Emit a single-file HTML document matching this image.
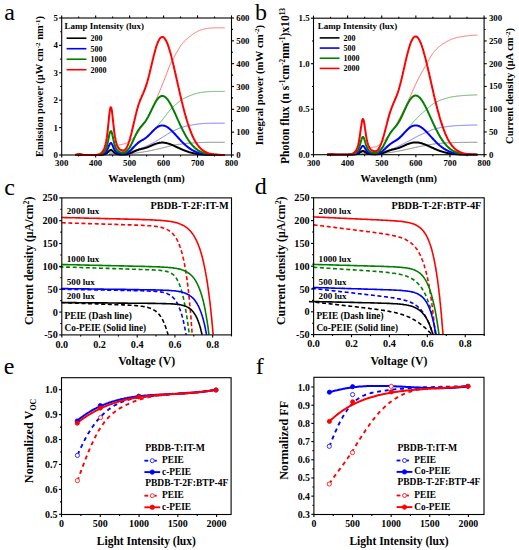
<!DOCTYPE html>
<html><head><meta charset="utf-8"><style>
html,body{margin:0;padding:0;background:#fff;}
svg{display:block;}
</style></head><body>
<svg width="519" height="550" viewBox="0 0 519 550">
<rect width="519" height="550" fill="#fff"/>
<g font-family="Liberation Serif, serif" fill="#000">
<text x="4.2" y="20" font-size="24" text-anchor="start" font-weight="normal" >a</text>
<text x="255" y="19.5" font-size="24" text-anchor="start" font-weight="normal" >b</text>
<text x="4.2" y="194.6" font-size="24" text-anchor="start" font-weight="normal" >c</text>
<text x="254.8" y="194.3" font-size="24" text-anchor="start" font-weight="normal" >d</text>
<text x="3.8" y="374" font-size="24" text-anchor="start" font-weight="normal" >e</text>
<text x="255.8" y="374.4" font-size="24" text-anchor="start" font-weight="normal" >f</text>
<polyline points="109.2,154.8 109.6,154.7 109.9,154.7 110.3,154.6 110.6,154.6 110.9,154.5 111.3,154.5 111.6,154.4 112,154.4 112.3,154.3 112.6,154.3 113,154.2 113.3,154.2 113.7,154.2 114,154.2 114.3,154.1 114.7,154.1 115,154.1 115.4,154.1 115.7,154.1 116,154.1 116.4,154.0 116.7,154.0 117.1,154.0 117.4,154.0 117.7,154.0 118.1,154.0 118.4,154.0 118.8,154.0 119.1,154.0 119.4,154.0 119.8,154.0 120.1,154.0 120.5,154.0 120.8,154.0 121.1,154.0 121.5,153.9 121.8,153.9 122.1,153.9 122.5,153.9 122.8,153.9 123.2,153.9 123.5,153.9 123.8,153.9 124.2,153.9 124.5,153.9 124.9,153.9 125.2,153.9 125.5,153.8 125.9,153.8 126.2,153.8 126.6,153.8 126.9,153.8 127.2,153.8 127.6,153.8 127.9,153.7 128.3,153.7 128.6,153.7 128.9,153.7 129.3,153.7 129.6,153.6 130,153.6 130.3,153.6 130.6,153.5 131,153.5 131.3,153.5 131.7,153.5 132,153.4 132.3,153.4 132.7,153.4 133,153.3 133.4,153.3 133.7,153.3 134,153.2 134.4,153.2 134.7,153.2 135.1,153.1 135.4,153.1 135.7,153.1 136.1,153.0 136.4,153.0 136.8,152.9 137.1,152.9 137.4,152.8 137.8,152.8 138.1,152.7 138.4,152.7 138.8,152.6 139.1,152.6 139.5,152.5 139.8,152.5 140.1,152.4 140.5,152.4 140.8,152.3 141.2,152.3 141.5,152.2 141.8,152.2 142.2,152.1 142.5,152.1 142.9,152.0 143.2,152.0 143.5,151.9 143.9,151.9 144.2,151.8 144.6,151.7 144.9,151.7 145.2,151.6 145.6,151.6 145.9,151.5 146.3,151.5 146.6,151.4 146.9,151.3 147.3,151.3 147.6,151.2 148,151.1 148.3,151.1 148.6,151.0 149,151.0 149.3,150.9 149.7,150.8 150,150.8 150.3,150.7 150.7,150.6 151,150.6 151.4,150.5 151.7,150.4 152,150.4 152.4,150.3 152.7,150.2 153.1,150.1 153.4,150.1 153.7,150.0 154.1,149.9 154.4,149.8 154.8,149.8 155.1,149.7 155.4,149.6 155.8,149.5 156.1,149.5 156.4,149.4 156.8,149.3 157.1,149.2 157.5,149.1 157.8,149.1 158.1,149.0 158.5,148.9 158.8,148.8 159.2,148.7 159.5,148.7 159.8,148.6 160.2,148.5 160.5,148.4 160.9,148.3 161.2,148.3 161.5,148.2 161.9,148.1 162.2,148.0 162.6,147.9 162.9,147.8 163.2,147.7 163.6,147.7 163.9,147.6 164.3,147.5 164.6,147.4 164.9,147.3 165.3,147.2 165.6,147.1 166,147.0 166.3,147.0 166.6,146.9 167,146.8 167.3,146.7 167.7,146.6 168,146.5 168.3,146.4 168.7,146.3 169,146.2 169.4,146.1 169.7,146.1 170,146.0 170.4,145.9 170.7,145.8 171.1,145.8 171.4,145.7 171.7,145.6 172.1,145.6 172.4,145.5 172.7,145.4 173.1,145.4 173.4,145.3 173.8,145.3 174.1,145.2 174.4,145.1 174.8,145.1 175.1,145.0 175.5,145.0 175.8,144.9 176.1,144.8 176.5,144.8 176.8,144.7 177.2,144.7 177.5,144.6 177.8,144.5 178.2,144.5 178.5,144.4 178.9,144.4 179.2,144.3 179.5,144.3 179.9,144.2 180.2,144.2 180.6,144.1 180.9,144.1 181.2,144.0 181.6,144.0 181.9,143.9 182.3,143.9 182.6,143.8 182.9,143.8 183.3,143.7 183.6,143.7 184,143.7 184.3,143.6 184.6,143.6 185,143.6 185.3,143.5 185.7,143.5 186,143.5 186.3,143.4 186.7,143.4 187,143.4 187.4,143.3 187.7,143.3 188,143.3 188.4,143.3 188.7,143.2 189.1,143.2 189.4,143.2 189.7,143.2 190.1,143.1 190.4,143.1 190.7,143.1 191.1,143.1 191.4,143.0 191.8,143.0 192.1,143.0 192.4,143.0 192.8,142.9 193.1,142.9 193.5,142.9 193.8,142.9 194.1,142.8 194.5,142.8 194.8,142.8 195.2,142.8 195.5,142.7 195.8,142.7 196.2,142.7 196.5,142.7 196.9,142.7 197.2,142.6 197.5,142.6 197.9,142.6 198.2,142.6 198.6,142.6 198.9,142.6 199.2,142.6 199.6,142.5 199.9,142.5 200.3,142.5 200.6,142.5 200.9,142.5 201.3,142.5 201.6,142.5 202,142.5 202.3,142.5 202.6,142.4 203,142.4 203.3,142.4 203.7,142.4 204,142.4 204.3,142.4 204.7,142.4 205,142.4 205.4,142.4 205.7,142.4 206,142.4 206.4,142.4 206.7,142.4 207,142.3 207.4,142.3 207.7,142.3 208.1,142.3 208.4,142.3 208.7,142.3 209.1,142.3 209.4,142.3 209.8,142.3 210.1,142.3 210.4,142.3 210.8,142.3 211.1,142.3 211.5,142.3 211.8,142.3 212.1,142.3 212.5,142.3 212.8,142.3 213.2,142.3 213.5,142.3 213.8,142.3 214.2,142.3 214.5,142.3 214.9,142.3 215.2,142.3 215.5,142.3 215.9,142.3 216.2,142.3 216.6,142.3 216.9,142.3 217.2,142.3 217.6,142.3 217.9,142.3 218.3,142.3 218.6,142.3 218.9,142.3 219.3,142.3 219.6,142.3 220,142.3 220.3,142.3 220.6,142.3 221,142.3 221.3,142.3 221.7,142.3 222,142.3 222.3,142.3 222.7,142.3 223,142.3 223.3,142.3 223.7,142.3 224,142.3 224.4,142.3 224.7,142.3" fill="none" stroke="#7a7a7a" stroke-width="1.0" stroke-linejoin="round" />
<polyline points="109.2,154.4 109.6,154.3 109.9,154.1 110.3,154.0 110.6,153.9 110.9,153.8 111.3,153.6 111.6,153.5 112,153.4 112.3,153.3 112.6,153.2 113,153.1 113.3,153.0 113.7,153.0 114,152.9 114.3,152.8 114.7,152.8 115,152.8 115.4,152.7 115.7,152.7 116,152.6 116.4,152.6 116.7,152.6 117.1,152.6 117.4,152.6 117.7,152.5 118.1,152.5 118.4,152.5 118.8,152.5 119.1,152.5 119.4,152.5 119.8,152.5 120.1,152.4 120.5,152.4 120.8,152.4 121.1,152.4 121.5,152.4 121.8,152.4 122.1,152.3 122.5,152.3 122.8,152.3 123.2,152.3 123.5,152.3 123.8,152.2 124.2,152.2 124.5,152.2 124.9,152.2 125.2,152.1 125.5,152.1 125.9,152.1 126.2,152.1 126.6,152.0 126.9,152.0 127.2,151.9 127.6,151.9 127.9,151.8 128.3,151.8 128.6,151.7 128.9,151.7 129.3,151.6 129.6,151.6 130,151.5 130.3,151.4 130.6,151.4 131,151.3 131.3,151.2 131.7,151.1 132,151.1 132.3,151.0 132.7,150.9 133,150.8 133.4,150.7 133.7,150.7 134,150.6 134.4,150.5 134.7,150.4 135.1,150.3 135.4,150.2 135.7,150.1 136.1,150.0 136.4,149.9 136.8,149.8 137.1,149.7 137.4,149.6 137.8,149.5 138.1,149.4 138.4,149.2 138.8,149.1 139.1,149.0 139.5,148.9 139.8,148.7 140.1,148.6 140.5,148.5 140.8,148.3 141.2,148.2 141.5,148.1 141.8,148.0 142.2,147.8 142.5,147.7 142.9,147.6 143.2,147.4 143.5,147.3 143.9,147.1 144.2,147.0 144.6,146.9 144.9,146.7 145.2,146.6 145.6,146.4 145.9,146.3 146.3,146.1 146.6,146.0 146.9,145.8 147.3,145.7 147.6,145.5 148,145.4 148.3,145.2 148.6,145.1 149,144.9 149.3,144.7 149.7,144.6 150,144.4 150.3,144.2 150.7,144.1 151,143.9 151.4,143.7 151.7,143.6 152,143.4 152.4,143.2 152.7,143.0 153.1,142.8 153.4,142.7 153.7,142.5 154.1,142.3 154.4,142.1 154.8,141.9 155.1,141.7 155.4,141.5 155.8,141.3 156.1,141.1 156.4,140.9 156.8,140.8 157.1,140.6 157.5,140.4 157.8,140.2 158.1,140.0 158.5,139.8 158.8,139.6 159.2,139.4 159.5,139.2 159.8,139.0 160.2,138.8 160.5,138.5 160.9,138.3 161.2,138.1 161.5,137.9 161.9,137.7 162.2,137.5 162.6,137.3 162.9,137.1 163.2,136.9 163.6,136.6 163.9,136.4 164.3,136.2 164.6,136.0 164.9,135.8 165.3,135.6 165.6,135.3 166,135.1 166.3,134.9 166.6,134.7 167,134.4 167.3,134.2 167.7,134.0 168,133.7 168.3,133.5 168.7,133.3 169,133.1 169.4,132.9 169.7,132.7 170,132.5 170.4,132.3 170.7,132.1 171.1,131.9 171.4,131.8 171.7,131.6 172.1,131.4 172.4,131.3 172.7,131.1 173.1,131.0 173.4,130.8 173.8,130.7 174.1,130.5 174.4,130.4 174.8,130.2 175.1,130.1 175.5,129.9 175.8,129.8 176.1,129.6 176.5,129.5 176.8,129.3 177.2,129.2 177.5,129.0 177.8,128.9 178.2,128.7 178.5,128.6 178.9,128.4 179.2,128.3 179.5,128.2 179.9,128.0 180.2,127.9 180.6,127.8 180.9,127.6 181.2,127.5 181.6,127.4 181.9,127.3 182.3,127.2 182.6,127.1 182.9,127.0 183.3,126.9 183.6,126.8 184,126.7 184.3,126.6 184.6,126.5 185,126.4 185.3,126.3 185.7,126.3 186,126.2 186.3,126.1 186.7,126.0 187,125.9 187.4,125.9 187.7,125.8 188,125.7 188.4,125.6 188.7,125.6 189.1,125.5 189.4,125.4 189.7,125.4 190.1,125.3 190.4,125.3 190.7,125.2 191.1,125.1 191.4,125.1 191.8,125.0 192.1,124.9 192.4,124.9 192.8,124.8 193.1,124.8 193.5,124.7 193.8,124.6 194.1,124.6 194.5,124.5 194.8,124.5 195.2,124.4 195.5,124.4 195.8,124.3 196.2,124.3 196.5,124.2 196.9,124.2 197.2,124.1 197.5,124.1 197.9,124.0 198.2,124.0 198.6,124.0 198.9,123.9 199.2,123.9 199.6,123.9 199.9,123.8 200.3,123.8 200.6,123.8 200.9,123.7 201.3,123.7 201.6,123.7 202,123.7 202.3,123.6 202.6,123.6 203,123.6 203.3,123.6 203.7,123.5 204,123.5 204.3,123.5 204.7,123.5 205,123.5 205.4,123.4 205.7,123.4 206,123.4 206.4,123.4 206.7,123.4 207,123.4 207.4,123.4 207.7,123.4 208.1,123.3 208.4,123.3 208.7,123.3 209.1,123.3 209.4,123.3 209.8,123.3 210.1,123.3 210.4,123.3 210.8,123.3 211.1,123.3 211.5,123.3 211.8,123.3 212.1,123.2 212.5,123.2 212.8,123.2 213.2,123.2 213.5,123.2 213.8,123.2 214.2,123.2 214.5,123.2 214.9,123.2 215.2,123.2 215.5,123.2 215.9,123.2 216.2,123.2 216.6,123.2 216.9,123.2 217.2,123.2 217.6,123.2 217.9,123.2 218.3,123.2 218.6,123.2 218.9,123.2 219.3,123.2 219.6,123.2 220,123.2 220.3,123.2 220.6,123.2 221,123.2 221.3,123.2 221.7,123.2 222,123.2 222.3,123.2 222.7,123.2 223,123.2 223.3,123.2 223.7,123.2 224,123.2 224.4,123.2 224.7,123.2" fill="none" stroke="#6f6fff" stroke-width="1.0" stroke-linejoin="round" />
<polyline points="109.2,153.8 109.6,153.5 109.9,153.3 110.3,153.0 110.6,152.8 110.9,152.5 111.3,152.3 111.6,152.0 112,151.8 112.3,151.5 112.6,151.3 113,151.2 113.3,151.0 113.7,150.9 114,150.8 114.3,150.7 114.7,150.6 115,150.5 115.4,150.4 115.7,150.4 116,150.3 116.4,150.2 116.7,150.2 117.1,150.2 117.4,150.1 117.7,150.1 118.1,150.1 118.4,150.0 118.8,150.0 119.1,150.0 119.4,149.9 119.8,149.9 120.1,149.9 120.5,149.9 120.8,149.8 121.1,149.8 121.5,149.7 121.8,149.7 122.1,149.7 122.5,149.6 122.8,149.6 123.2,149.6 123.5,149.5 123.8,149.5 124.2,149.4 124.5,149.4 124.9,149.3 125.2,149.3 125.5,149.2 125.9,149.2 126.2,149.1 126.6,149.0 126.9,149.0 127.2,148.9 127.6,148.8 127.9,148.7 128.3,148.6 128.6,148.5 128.9,148.4 129.3,148.3 129.6,148.1 130,148.0 130.3,147.9 130.6,147.7 131,147.6 131.3,147.4 131.7,147.3 132,147.1 132.3,147.0 132.7,146.8 133,146.7 133.4,146.5 133.7,146.3 134,146.2 134.4,146.0 134.7,145.8 135.1,145.6 135.4,145.5 135.7,145.3 136.1,145.1 136.4,144.9 136.8,144.6 137.1,144.4 137.4,144.2 137.8,144.0 138.1,143.7 138.4,143.5 138.8,143.2 139.1,143.0 139.5,142.7 139.8,142.5 140.1,142.2 140.5,142.0 140.8,141.7 141.2,141.4 141.5,141.2 141.8,140.9 142.2,140.6 142.5,140.4 142.9,140.1 143.2,139.8 143.5,139.6 143.9,139.3 144.2,139.0 144.6,138.7 144.9,138.4 145.2,138.2 145.6,137.9 145.9,137.6 146.3,137.3 146.6,137.0 146.9,136.7 147.3,136.4 147.6,136.0 148,135.7 148.3,135.4 148.6,135.1 149,134.8 149.3,134.5 149.7,134.1 150,133.8 150.3,133.5 150.7,133.1 151,132.8 151.4,132.5 151.7,132.1 152,131.8 152.4,131.4 152.7,131.1 153.1,130.7 153.4,130.3 153.7,130.0 154.1,129.6 154.4,129.2 154.8,128.8 155.1,128.4 155.4,128.1 155.8,127.7 156.1,127.3 156.4,126.9 156.8,126.5 157.1,126.1 157.5,125.7 157.8,125.3 158.1,124.9 158.5,124.5 158.8,124.1 159.2,123.7 159.5,123.3 159.8,122.9 160.2,122.5 160.5,122.1 160.9,121.7 161.2,121.3 161.5,120.8 161.9,120.4 162.2,120.0 162.6,119.6 162.9,119.1 163.2,118.7 163.6,118.3 163.9,117.8 164.3,117.4 164.6,117.0 164.9,116.5 165.3,116.1 165.6,115.7 166,115.2 166.3,114.8 166.6,114.3 167,113.9 167.3,113.4 167.7,113.0 168,112.5 168.3,112.0 168.7,111.6 169,111.2 169.4,110.7 169.7,110.3 170,110.0 170.4,109.6 170.7,109.2 171.1,108.9 171.4,108.5 171.7,108.2 172.1,107.9 172.4,107.5 172.7,107.2 173.1,106.9 173.4,106.6 173.8,106.3 174.1,106.0 174.4,105.7 174.8,105.4 175.1,105.1 175.5,104.8 175.8,104.5 176.1,104.2 176.5,103.9 176.8,103.6 177.2,103.3 177.5,103.0 177.8,102.7 178.2,102.4 178.5,102.1 178.9,101.9 179.2,101.6 179.5,101.3 179.9,101.0 180.2,100.8 180.6,100.5 180.9,100.3 181.2,100.0 181.6,99.8 181.9,99.6 182.3,99.3 182.6,99.1 182.9,98.9 183.3,98.7 183.6,98.6 184,98.4 184.3,98.2 184.6,98.0 185,97.8 185.3,97.7 185.7,97.5 186,97.3 186.3,97.2 186.7,97.0 187,96.9 187.4,96.7 187.7,96.6 188,96.4 188.4,96.3 188.7,96.2 189.1,96.0 189.4,95.9 189.7,95.8 190.1,95.6 190.4,95.5 190.7,95.4 191.1,95.3 191.4,95.1 191.8,95.0 192.1,94.9 192.4,94.8 192.8,94.6 193.1,94.5 193.5,94.4 193.8,94.3 194.1,94.2 194.5,94.1 194.8,93.9 195.2,93.8 195.5,93.7 195.8,93.6 196.2,93.5 196.5,93.4 196.9,93.3 197.2,93.2 197.5,93.2 197.9,93.1 198.2,93.0 198.6,92.9 198.9,92.9 199.2,92.8 199.6,92.7 199.9,92.7 200.3,92.6 200.6,92.6 200.9,92.5 201.3,92.4 201.6,92.4 202,92.3 202.3,92.3 202.6,92.2 203,92.2 203.3,92.1 203.7,92.1 204,92.0 204.3,92.0 204.7,92.0 205,91.9 205.4,91.9 205.7,91.9 206,91.8 206.4,91.8 206.7,91.8 207,91.7 207.4,91.7 207.7,91.7 208.1,91.7 208.4,91.7 208.7,91.7 209.1,91.6 209.4,91.6 209.8,91.6 210.1,91.6 210.4,91.6 210.8,91.5 211.1,91.5 211.5,91.5 211.8,91.5 212.1,91.5 212.5,91.5 212.8,91.5 213.2,91.5 213.5,91.4 213.8,91.4 214.2,91.4 214.5,91.4 214.9,91.4 215.2,91.4 215.5,91.4 215.9,91.4 216.2,91.4 216.6,91.4 216.9,91.4 217.2,91.4 217.6,91.4 217.9,91.4 218.3,91.4 218.6,91.4 218.9,91.4 219.3,91.4 219.6,91.4 220,91.4 220.3,91.4 220.6,91.4 221,91.4 221.3,91.4 221.7,91.4 222,91.4 222.3,91.4 222.7,91.4 223,91.4 223.3,91.4 223.7,91.4 224,91.4 224.4,91.4 224.7,91.4" fill="none" stroke="#5aad5a" stroke-width="1.0" stroke-linejoin="round" />
<polyline points="109.2,152.6 109.6,152.1 109.9,151.5 110.3,151.0 110.6,150.5 110.9,150.1 111.3,149.6 111.6,149.1 112,148.6 112.3,148.1 112.6,147.7 113,147.4 113.3,147.1 113.7,146.8 114,146.6 114.3,146.4 114.7,146.2 115,146.0 115.4,145.8 115.7,145.7 116,145.6 116.4,145.5 116.7,145.4 117.1,145.3 117.4,145.2 117.7,145.2 118.1,145.1 118.4,145.1 118.8,145.0 119.1,144.9 119.4,144.9 119.8,144.8 120.1,144.8 120.5,144.7 120.8,144.6 121.1,144.6 121.5,144.5 121.8,144.4 122.1,144.3 122.5,144.3 122.8,144.2 123.2,144.1 123.5,144.0 123.8,143.9 124.2,143.9 124.5,143.8 124.9,143.7 125.2,143.6 125.5,143.5 125.9,143.3 126.2,143.2 126.6,143.1 126.9,142.9 127.2,142.8 127.6,142.6 127.9,142.4 128.3,142.2 128.6,142.0 128.9,141.7 129.3,141.5 129.6,141.3 130,141.0 130.3,140.7 130.6,140.5 131,140.2 131.3,139.9 131.7,139.6 132,139.3 132.3,139.0 132.7,138.6 133,138.3 133.4,138.0 133.7,137.7 134,137.3 134.4,137.0 134.7,136.6 135.1,136.3 135.4,135.9 135.7,135.5 136.1,135.1 136.4,134.7 136.8,134.3 137.1,133.8 137.4,133.4 137.8,132.9 138.1,132.5 138.4,132.0 138.8,131.5 139.1,131.0 139.5,130.5 139.8,130.0 140.1,129.4 140.5,128.9 140.8,128.4 141.2,127.9 141.5,127.3 141.8,126.8 142.2,126.3 142.5,125.7 142.9,125.2 143.2,124.7 143.5,124.1 143.9,123.6 144.2,123.0 144.6,122.5 144.9,121.9 145.2,121.3 145.6,120.7 145.9,120.1 146.3,119.5 146.6,118.9 146.9,118.3 147.3,117.7 147.6,117.1 148,116.5 148.3,115.8 148.6,115.2 149,114.6 149.3,113.9 149.7,113.3 150,112.6 150.3,111.9 150.7,111.3 151,110.6 151.4,109.9 151.7,109.2 152,108.5 152.4,107.8 152.7,107.1 153.1,106.4 153.4,105.7 153.7,104.9 154.1,104.2 154.4,103.4 154.8,102.7 155.1,101.9 155.4,101.1 155.8,100.4 156.1,99.6 156.4,98.8 156.8,98.0 157.1,97.2 157.5,96.4 157.8,95.6 158.1,94.8 158.5,94.0 158.8,93.2 159.2,92.4 159.5,91.6 159.8,90.8 160.2,90.0 160.5,89.2 160.9,88.3 161.2,87.5 161.5,86.7 161.9,85.8 162.2,85.0 162.6,84.1 162.9,83.3 163.2,82.4 163.6,81.5 163.9,80.7 164.3,79.8 164.6,79.0 164.9,78.1 165.3,77.2 165.6,76.4 166,75.5 166.3,74.6 166.6,73.7 167,72.8 167.3,71.8 167.7,70.9 168,70.0 168.3,69.1 168.7,68.2 169,67.3 169.4,66.5 169.7,65.7 170,64.9 170.4,64.2 170.7,63.4 171.1,62.7 171.4,62.1 171.7,61.4 172.1,60.7 172.4,60.1 172.7,59.5 173.1,58.8 173.4,58.2 173.8,57.6 174.1,57.0 174.4,56.4 174.8,55.8 175.1,55.2 175.5,54.6 175.8,54.0 176.1,53.4 176.5,52.8 176.8,52.2 177.2,51.6 177.5,51.0 177.8,50.4 178.2,49.9 178.5,49.3 178.9,48.7 179.2,48.2 179.5,47.6 179.9,47.1 180.2,46.6 180.6,46.0 180.9,45.5 181.2,45.1 181.6,44.6 181.9,44.1 182.3,43.7 182.6,43.3 182.9,42.9 183.3,42.5 183.6,42.1 184,41.7 184.3,41.4 184.6,41.0 185,40.7 185.3,40.3 185.7,40.0 186,39.7 186.3,39.4 186.7,39.1 187,38.8 187.4,38.5 187.7,38.2 188,37.9 188.4,37.6 188.7,37.3 189.1,37.0 189.4,36.8 189.7,36.5 190.1,36.3 190.4,36.0 190.7,35.8 191.1,35.5 191.4,35.3 191.8,35.0 192.1,34.8 192.4,34.5 192.8,34.3 193.1,34.0 193.5,33.8 193.8,33.6 194.1,33.3 194.5,33.1 194.8,32.9 195.2,32.7 195.5,32.5 195.8,32.3 196.2,32.1 196.5,31.9 196.9,31.7 197.2,31.5 197.5,31.3 197.9,31.2 198.2,31.0 198.6,30.9 198.9,30.7 199.2,30.6 199.6,30.5 199.9,30.3 200.3,30.2 200.6,30.1 200.9,30.0 201.3,29.9 201.6,29.8 202,29.7 202.3,29.6 202.6,29.5 203,29.4 203.3,29.3 203.7,29.2 204,29.1 204.3,29.0 204.7,28.9 205,28.8 205.4,28.8 205.7,28.7 206,28.7 206.4,28.6 206.7,28.5 207,28.5 207.4,28.5 207.7,28.4 208.1,28.4 208.4,28.3 208.7,28.3 209.1,28.3 209.4,28.2 209.8,28.2 210.1,28.2 210.4,28.1 210.8,28.1 211.1,28.1 211.5,28.0 211.8,28.0 212.1,28.0 212.5,28.0 212.8,27.9 213.2,27.9 213.5,27.9 213.8,27.9 214.2,27.9 214.5,27.8 214.9,27.8 215.2,27.8 215.5,27.8 215.9,27.8 216.2,27.8 216.6,27.8 216.9,27.8 217.2,27.8 217.6,27.8 217.9,27.8 218.3,27.8 218.6,27.8 218.9,27.8 219.3,27.8 219.6,27.8 220,27.8 220.3,27.8 220.6,27.8 221,27.8 221.3,27.8 221.7,27.8 222,27.8 222.3,27.8 222.7,27.8 223,27.8 223.3,27.8 223.7,27.8 224,27.8 224.4,27.8 224.7,27.8" fill="none" stroke="#ff6a6a" stroke-width="1.0" stroke-linejoin="round" />
<polyline points="75.3,155.0 75.6,155.0 76,155.0 76.3,155.0 76.6,155.0 77,154.9 77.3,154.9 77.7,154.9 78,154.9 78.3,154.9 78.7,154.9 79,154.9 79.4,154.9 79.7,154.9 80,154.9 80.4,154.9 80.7,154.9 81.1,154.9 81.4,154.9 81.7,154.9 82.1,155.0 82.4,155.0 82.8,155.0 83.1,155.0 83.4,155.0 83.8,155.0 84.1,155.0 84.5,155.0 84.8,155.0 85.1,155.0 85.5,155.0 85.8,155.0 86.2,155.0 86.5,155.0 86.8,155.0 87.2,155.0 87.5,155.0 87.8,155.0 88.2,155.0 88.5,155.0 88.9,155.0 89.2,155.0 89.5,155.0 89.9,155.0 90.2,155.0 90.6,155.0 90.9,155.0 91.2,155.0 91.6,155.0 91.9,155.0 92.3,155.0 92.6,155.0 92.9,155.0 93.3,155.0 93.6,155.0 94,155.0 94.3,155.0 94.6,155.0 95,155.0 95.3,155.0 95.7,155.0 96,155.0 96.3,155.0 96.7,155.0 97,155.0 97.4,155.0 97.7,155.0 98,155.0 98.4,155.0 98.7,154.9 99.1,154.9 99.4,154.9 99.7,154.9 100.1,154.9 100.4,154.9 100.8,154.8 101.1,154.8 101.4,154.8 101.8,154.7 102.1,154.7 102.5,154.7 102.8,154.6 103.1,154.5 103.5,154.5 103.8,154.4 104.2,154.3 104.5,154.2 104.8,154.1 105.2,154.0 105.5,153.9 105.8,153.7 106.2,153.6 106.5,153.4 106.9,153.1 107.2,152.9 107.5,152.6 107.9,152.2 108.2,151.9 108.6,151.5 108.9,151.2 109.2,150.8 109.6,150.5 109.9,150.3 110.3,150.1 110.6,150.0 110.9,150.0 111.3,150.0 111.6,150.2 112,150.4 112.3,150.7 112.6,151.0 113,151.3 113.3,151.7 113.7,152.0 114,152.3 114.3,152.6 114.7,152.9 115,153.1 115.4,153.3 115.7,153.5 116,153.6 116.4,153.8 116.7,153.9 117.1,154.0 117.4,154.1 117.7,154.1 118.1,154.2 118.4,154.3 118.8,154.3 119.1,154.3 119.4,154.4 119.8,154.4 120.1,154.4 120.5,154.5 120.8,154.5 121.1,154.5 121.5,154.5 121.8,154.5 122.1,154.5 122.5,154.6 122.8,154.6 123.2,154.6 123.5,154.6 123.8,154.6 124.2,154.5 124.5,154.5 124.9,154.5 125.2,154.4 125.5,154.4 125.9,154.4 126.2,154.3 126.6,154.2 126.9,154.2 127.2,154.1 127.6,154.0 127.9,153.9 128.3,153.8 128.6,153.7 128.9,153.6 129.3,153.5 129.6,153.4 130,153.3 130.3,153.2 130.6,153.0 131,152.9 131.3,152.8 131.7,152.6 132,152.5 132.3,152.3 132.7,152.2 133,152.0 133.4,151.9 133.7,151.7 134,151.6 134.4,151.4 134.7,151.2 135.1,151.1 135.4,150.9 135.7,150.8 136.1,150.6 136.4,150.5 136.8,150.4 137.1,150.2 137.4,150.1 137.8,150.0 138.1,149.9 138.4,149.8 138.8,149.6 139.1,149.5 139.5,149.4 139.8,149.3 140.1,149.3 140.5,149.2 140.8,149.1 141.2,149.0 141.5,148.9 141.8,148.8 142.2,148.8 142.5,148.7 142.9,148.6 143.2,148.5 143.5,148.4 143.9,148.4 144.2,148.3 144.6,148.2 144.9,148.1 145.2,148.0 145.6,147.9 145.9,147.8 146.3,147.7 146.6,147.6 146.9,147.4 147.3,147.3 147.6,147.2 148,147.1 148.3,146.9 148.6,146.8 149,146.7 149.3,146.5 149.7,146.4 150,146.2 150.3,146.1 150.7,145.9 151,145.8 151.4,145.6 151.7,145.5 152,145.3 152.4,145.2 152.7,145.0 153.1,144.9 153.4,144.7 153.7,144.6 154.1,144.4 154.4,144.3 154.8,144.2 155.1,144.0 155.4,143.9 155.8,143.8 156.1,143.7 156.4,143.6 156.8,143.5 157.1,143.4 157.5,143.3 157.8,143.2 158.1,143.1 158.5,143.0 158.8,142.9 159.2,142.9 159.5,142.8 159.8,142.8 160.2,142.7 160.5,142.7 160.9,142.7 161.2,142.6 161.5,142.6 161.9,142.6 162.2,142.6 162.6,142.6 162.9,142.6 163.2,142.6 163.6,142.6 163.9,142.7 164.3,142.7 164.6,142.8 164.9,142.8 165.3,142.9 165.6,142.9 166,143.0 166.3,143.0 166.6,143.1 167,143.2 167.3,143.3 167.7,143.4 168,143.5 168.3,143.6 168.7,143.7 169,143.8 169.4,143.9 169.7,144.0 170,144.1 170.4,144.3 170.7,144.4 171.1,144.5 171.4,144.7 171.7,144.8 172.1,144.9 172.4,145.1 172.7,145.2 173.1,145.4 173.4,145.5 173.8,145.7 174.1,145.8 174.4,146.0 174.8,146.1 175.1,146.3 175.5,146.5 175.8,146.6 176.1,146.8 176.5,146.9 176.8,147.1 177.2,147.3 177.5,147.4 177.8,147.6 178.2,147.7 178.5,147.9 178.9,148.0 179.2,148.2 179.5,148.4 179.9,148.5 180.2,148.7 180.6,148.8 180.9,149.0 181.2,149.1 181.6,149.3 181.9,149.4 182.3,149.6 182.6,149.7 182.9,149.9 183.3,150.0 183.6,150.1 184,150.3 184.3,150.4 184.6,150.5 185,150.7 185.3,150.8 185.7,150.9 186,151.0 186.3,151.2 186.7,151.3 187,151.4 187.4,151.5 187.7,151.6 188,151.7 188.4,151.9 188.7,152.0 189.1,152.1 189.4,152.2 189.7,152.3 190.1,152.4 190.4,152.5 190.7,152.5 191.1,152.6 191.4,152.7 191.8,152.8 192.1,152.9 192.4,153.0 192.8,153.1 193.1,153.1 193.5,153.2 193.8,153.3 194.1,153.3 194.5,153.4 194.8,153.5 195.2,153.5 195.5,153.6 195.8,153.7 196.2,153.7 196.5,153.8 196.9,153.8 197.2,153.9 197.5,153.9 197.9,154.0 198.2,154.0 198.6,154.1 198.9,154.1 199.2,154.2 199.6,154.2 199.9,154.2 200.3,154.3 200.6,154.3 200.9,154.3 201.3,154.4 201.6,154.4 202,154.4 202.3,154.5 202.6,154.5 203,154.5 203.3,154.5 203.7,154.6 204,154.6 204.3,154.6 204.7,154.6 205,154.7 205.4,154.7 205.7,154.7 206,154.7 206.4,154.7 206.7,154.7 207,154.8 207.4,154.8 207.7,154.8 208.1,154.8 208.4,154.8 208.7,154.8 209.1,154.8 209.4,154.8 209.8,154.9 210.1,154.9 210.4,154.9 210.8,154.9 211.1,154.9 211.5,154.9 211.8,154.9 212.1,154.9 212.5,154.9 212.8,154.9 213.2,154.9 213.5,154.9 213.8,154.9 214.2,154.9 214.5,154.9 214.9,154.9 215.2,155.0 215.5,155.0 215.9,155.0 216.2,155.0 216.6,155.0 216.9,155.0 217.2,155.0 217.6,155.0 217.9,155.0 218.3,155.0 218.6,155.0 218.9,155.0 219.3,155.0 219.6,155.0 220,155.0 220.3,155.0 220.6,155.0 221,155.0 221.3,155.0 221.7,155.0 222,155.0 222.3,155.0 222.7,155.0 223,155.0 223.3,155.0 223.7,155.0 224,155.0 224.4,155.0 224.7,155.0" fill="none" stroke="#000000" stroke-width="2.0" stroke-linejoin="round" />
<polyline points="75.3,155.0 75.6,155.0 76,154.9 76.3,154.9 76.6,154.9 77,154.9 77.3,154.9 77.7,154.8 78,154.8 78.3,154.8 78.7,154.8 79,154.8 79.4,154.8 79.7,154.8 80,154.8 80.4,154.8 80.7,154.8 81.1,154.8 81.4,154.9 81.7,154.9 82.1,154.9 82.4,154.9 82.8,154.9 83.1,155.0 83.4,155.0 83.8,155.0 84.1,155.0 84.5,155.0 84.8,155.0 85.1,155.0 85.5,155.0 85.8,155.0 86.2,155.0 86.5,155.0 86.8,155.0 87.2,155.0 87.5,155.0 87.8,155.0 88.2,155.0 88.5,155.0 88.9,155.0 89.2,155.0 89.5,155.0 89.9,155.0 90.2,155.0 90.6,155.0 90.9,155.0 91.2,155.0 91.6,155.0 91.9,155.0 92.3,155.0 92.6,155.0 92.9,155.0 93.3,155.0 93.6,155.0 94,155.0 94.3,155.0 94.6,155.0 95,155.0 95.3,155.0 95.7,155.0 96,155.0 96.3,155.0 96.7,155.0 97,155.0 97.4,154.9 97.7,154.9 98,154.9 98.4,154.9 98.7,154.9 99.1,154.8 99.4,154.8 99.7,154.8 100.1,154.7 100.4,154.7 100.8,154.6 101.1,154.6 101.4,154.5 101.8,154.4 102.1,154.3 102.5,154.2 102.8,154.1 103.1,153.9 103.5,153.8 103.8,153.6 104.2,153.4 104.5,153.2 104.8,153.0 105.2,152.7 105.5,152.4 105.8,152.0 106.2,151.6 106.5,151.1 106.9,150.6 107.2,149.9 107.5,149.2 107.9,148.4 108.2,147.6 108.6,146.8 108.9,145.9 109.2,145.1 109.6,144.4 109.9,143.8 110.3,143.3 110.6,143.1 110.9,143.0 111.3,143.2 111.6,143.6 112,144.1 112.3,144.7 112.6,145.5 113,146.3 113.3,147.1 113.7,147.9 114,148.6 114.3,149.3 114.7,149.9 115,150.5 115.4,151.0 115.7,151.4 116,151.7 116.4,152.0 116.7,152.3 117.1,152.6 117.4,152.8 117.7,152.9 118.1,153.1 118.4,153.2 118.8,153.3 119.1,153.4 119.4,153.5 119.8,153.6 120.1,153.6 120.5,153.7 120.8,153.7 121.1,153.8 121.5,153.8 121.8,153.9 122.1,153.9 122.5,153.9 122.8,154.0 123.2,154.0 123.5,154.0 123.8,153.9 124.2,153.9 124.5,153.8 124.9,153.8 125.2,153.7 125.5,153.6 125.9,153.5 126.2,153.3 126.6,153.2 126.9,153.0 127.2,152.8 127.6,152.7 127.9,152.4 128.3,152.2 128.6,152.0 128.9,151.8 129.3,151.5 129.6,151.2 130,150.9 130.3,150.6 130.6,150.3 131,150.0 131.3,149.7 131.7,149.3 132,149.0 132.3,148.6 132.7,148.3 133,147.9 133.4,147.5 133.7,147.2 134,146.8 134.4,146.4 134.7,146.0 135.1,145.7 135.4,145.3 135.7,145.0 136.1,144.6 136.4,144.3 136.8,144.0 137.1,143.7 137.4,143.4 137.8,143.1 138.1,142.8 138.4,142.5 138.8,142.3 139.1,142.0 139.5,141.8 139.8,141.5 140.1,141.3 140.5,141.1 140.8,140.9 141.2,140.7 141.5,140.5 141.8,140.3 142.2,140.1 142.5,140.0 142.9,139.8 143.2,139.6 143.5,139.4 143.9,139.2 144.2,139.0 144.6,138.7 144.9,138.5 145.2,138.3 145.6,138.1 145.9,137.8 146.3,137.5 146.6,137.3 146.9,137.0 147.3,136.7 147.6,136.4 148,136.1 148.3,135.8 148.6,135.5 149,135.1 149.3,134.8 149.7,134.4 150,134.1 150.3,133.7 150.7,133.4 151,133.0 151.4,132.7 151.7,132.3 152,131.9 152.4,131.6 152.7,131.2 153.1,130.9 153.4,130.5 153.7,130.2 154.1,129.9 154.4,129.5 154.8,129.2 155.1,128.9 155.4,128.6 155.8,128.3 156.1,128.1 156.4,127.8 156.8,127.5 157.1,127.3 157.5,127.1 157.8,126.9 158.1,126.7 158.5,126.5 158.8,126.3 159.2,126.2 159.5,126.0 159.8,125.9 160.2,125.8 160.5,125.7 160.9,125.6 161.2,125.6 161.5,125.5 161.9,125.5 162.2,125.5 162.6,125.5 162.9,125.5 163.2,125.5 163.6,125.6 163.9,125.7 164.3,125.7 164.6,125.8 164.9,125.9 165.3,126.1 165.6,126.2 166,126.4 166.3,126.5 166.6,126.7 167,126.9 167.3,127.1 167.7,127.3 168,127.6 168.3,127.8 168.7,128.1 169,128.3 169.4,128.6 169.7,128.9 170,129.2 170.4,129.5 170.7,129.8 171.1,130.1 171.4,130.4 171.7,130.7 172.1,131.1 172.4,131.4 172.7,131.8 173.1,132.1 173.4,132.5 173.8,132.8 174.1,133.2 174.4,133.6 174.8,133.9 175.1,134.3 175.5,134.7 175.8,135.0 176.1,135.4 176.5,135.8 176.8,136.2 177.2,136.6 177.5,136.9 177.8,137.3 178.2,137.7 178.5,138.1 178.9,138.4 179.2,138.8 179.5,139.2 179.9,139.6 180.2,139.9 180.6,140.3 180.9,140.7 181.2,141.0 181.6,141.4 181.9,141.7 182.3,142.1 182.6,142.4 182.9,142.7 183.3,143.1 183.6,143.4 184,143.7 184.3,144.1 184.6,144.4 185,144.7 185.3,145.0 185.7,145.3 186,145.6 186.3,145.9 186.7,146.2 187,146.4 187.4,146.7 187.7,147.0 188,147.3 188.4,147.5 188.7,147.8 189.1,148.0 189.4,148.3 189.7,148.5 190.1,148.7 190.4,148.9 190.7,149.2 191.1,149.4 191.4,149.6 191.8,149.8 192.1,150.0 192.4,150.2 192.8,150.4 193.1,150.5 193.5,150.7 193.8,150.9 194.1,151.1 194.5,151.2 194.8,151.4 195.2,151.5 195.5,151.7 195.8,151.8 196.2,152.0 196.5,152.1 196.9,152.2 197.2,152.3 197.5,152.5 197.9,152.6 198.2,152.7 198.6,152.8 198.9,152.9 199.2,153.0 199.6,153.1 199.9,153.2 200.3,153.3 200.6,153.4 200.9,153.4 201.3,153.5 201.6,153.6 202,153.7 202.3,153.7 202.6,153.8 203,153.9 203.3,153.9 203.7,154.0 204,154.0 204.3,154.1 204.7,154.1 205,154.2 205.4,154.2 205.7,154.3 206,154.3 206.4,154.4 206.7,154.4 207,154.4 207.4,154.5 207.7,154.5 208.1,154.5 208.4,154.5 208.7,154.6 209.1,154.6 209.4,154.6 209.8,154.6 210.1,154.7 210.4,154.7 210.8,154.7 211.1,154.7 211.5,154.7 211.8,154.8 212.1,154.8 212.5,154.8 212.8,154.8 213.2,154.8 213.5,154.8 213.8,154.8 214.2,154.9 214.5,154.9 214.9,154.9 215.2,154.9 215.5,154.9 215.9,154.9 216.2,154.9 216.6,154.9 216.9,154.9 217.2,154.9 217.6,154.9 217.9,154.9 218.3,154.9 218.6,154.9 218.9,154.9 219.3,155.0 219.6,155.0 220,155.0 220.3,155.0 220.6,155.0 221,155.0 221.3,155.0 221.7,155.0 222,155.0 222.3,155.0 222.7,155.0 223,155.0 223.3,155.0 223.7,155.0 224,155.0 224.4,155.0 224.7,155.0" fill="none" stroke="#0000ff" stroke-width="2.0" stroke-linejoin="round" />
<polyline points="75.3,154.9 75.6,154.9 76,154.9 76.3,154.8 76.6,154.8 77,154.8 77.3,154.7 77.7,154.7 78,154.6 78.3,154.6 78.7,154.5 79,154.5 79.4,154.5 79.7,154.5 80,154.5 80.4,154.6 80.7,154.6 81.1,154.7 81.4,154.7 81.7,154.8 82.1,154.8 82.4,154.8 82.8,154.9 83.1,154.9 83.4,154.9 83.8,155.0 84.1,155.0 84.5,155.0 84.8,155.0 85.1,155.0 85.5,155.0 85.8,155.0 86.2,155.0 86.5,155.0 86.8,155.0 87.2,155.0 87.5,155.0 87.8,155.0 88.2,155.0 88.5,155.0 88.9,155.0 89.2,155.0 89.5,155.0 89.9,155.0 90.2,155.0 90.6,155.0 90.9,155.0 91.2,155.0 91.6,155.0 91.9,155.0 92.3,155.0 92.6,155.0 92.9,155.0 93.3,155.0 93.6,155.0 94,155.0 94.3,155.0 94.6,155.0 95,155.0 95.3,155.0 95.7,155.0 96,155.0 96.3,154.9 96.7,154.9 97,154.9 97.4,154.9 97.7,154.9 98,154.8 98.4,154.8 98.7,154.8 99.1,154.7 99.4,154.6 99.7,154.6 100.1,154.5 100.4,154.4 100.8,154.2 101.1,154.1 101.4,154.0 101.8,153.8 102.1,153.6 102.5,153.4 102.8,153.1 103.1,152.8 103.5,152.5 103.8,152.2 104.2,151.8 104.5,151.4 104.8,150.9 105.2,150.4 105.5,149.7 105.8,149.0 106.2,148.2 106.5,147.2 106.9,146.1 107.2,144.8 107.5,143.4 107.9,141.9 108.2,140.2 108.6,138.5 108.9,136.8 109.2,135.2 109.6,133.7 109.9,132.5 110.3,131.7 110.6,131.2 110.9,131.1 111.3,131.4 111.6,132.1 112,133.2 112.3,134.5 112.6,136.0 113,137.6 113.3,139.2 113.7,140.8 114,142.3 114.3,143.7 114.7,144.9 115,146.0 115.4,146.9 115.7,147.7 116,148.5 116.4,149.1 116.7,149.6 117.1,150.1 117.4,150.5 117.7,150.9 118.1,151.2 118.4,151.5 118.8,151.7 119.1,151.9 119.4,152.0 119.8,152.2 120.1,152.3 120.5,152.4 120.8,152.5 121.1,152.6 121.5,152.7 121.8,152.7 122.1,152.8 122.5,152.9 122.8,152.9 123.2,152.9 123.5,152.9 123.8,152.9 124.2,152.8 124.5,152.7 124.9,152.6 125.2,152.4 125.5,152.2 125.9,151.9 126.2,151.7 126.6,151.4 126.9,151.0 127.2,150.7 127.6,150.3 127.9,149.9 128.3,149.5 128.6,149.0 128.9,148.5 129.3,148.0 129.6,147.4 130,146.9 130.3,146.3 130.6,145.7 131,145.0 131.3,144.3 131.7,143.7 132,143.0 132.3,142.3 132.7,141.5 133,140.8 133.4,140.1 133.7,139.3 134,138.6 134.4,137.8 134.7,137.1 135.1,136.4 135.4,135.7 135.7,135.0 136.1,134.3 136.4,133.6 136.8,132.9 137.1,132.3 137.4,131.7 137.8,131.1 138.1,130.6 138.4,130.0 138.8,129.5 139.1,129.0 139.5,128.5 139.8,128.1 140.1,127.6 140.5,127.2 140.8,126.8 141.2,126.4 141.5,126.0 141.8,125.7 142.2,125.3 142.5,124.9 142.9,124.5 143.2,124.1 143.5,123.7 143.9,123.3 144.2,122.9 144.6,122.5 144.9,122.1 145.2,121.6 145.6,121.1 145.9,120.6 146.3,120.1 146.6,119.6 146.9,119.0 147.3,118.4 147.6,117.8 148,117.2 148.3,116.6 148.6,115.9 149,115.3 149.3,114.6 149.7,113.9 150,113.2 150.3,112.5 150.7,111.8 151,111.1 151.4,110.3 151.7,109.6 152,108.9 152.4,108.2 152.7,107.5 153.1,106.8 153.4,106.1 153.7,105.4 154.1,104.7 154.4,104.1 154.8,103.4 155.1,102.8 155.4,102.2 155.8,101.7 156.1,101.1 156.4,100.6 156.8,100.1 157.1,99.6 157.5,99.1 157.8,98.7 158.1,98.3 158.5,97.9 158.8,97.6 159.2,97.3 159.5,97.0 159.8,96.8 160.2,96.6 160.5,96.4 160.9,96.2 161.2,96.1 161.5,96.0 161.9,96.0 162.2,96.0 162.6,96.0 162.9,96.0 163.2,96.1 163.6,96.2 163.9,96.3 164.3,96.5 164.6,96.7 164.9,96.9 165.3,97.1 165.6,97.4 166,97.7 166.3,98.1 166.6,98.4 167,98.8 167.3,99.2 167.7,99.7 168,100.1 168.3,100.6 168.7,101.1 169,101.6 169.4,102.2 169.7,102.7 170,103.3 170.4,103.9 170.7,104.5 171.1,105.2 171.4,105.8 171.7,106.5 172.1,107.1 172.4,107.8 172.7,108.5 173.1,109.2 173.4,109.9 173.8,110.6 174.1,111.4 174.4,112.1 174.8,112.8 175.1,113.6 175.5,114.3 175.8,115.1 176.1,115.8 176.5,116.6 176.8,117.4 177.2,118.1 177.5,118.9 177.8,119.6 178.2,120.4 178.5,121.1 178.9,121.9 179.2,122.6 179.5,123.4 179.9,124.1 180.2,124.9 180.6,125.6 180.9,126.3 181.2,127.0 181.6,127.7 181.9,128.4 182.3,129.1 182.6,129.8 182.9,130.5 183.3,131.2 183.6,131.8 184,132.5 184.3,133.1 184.6,133.8 185,134.4 185.3,135.0 185.7,135.6 186,136.2 186.3,136.8 186.7,137.3 187,137.9 187.4,138.4 187.7,139.0 188,139.5 188.4,140.0 188.7,140.5 189.1,141.0 189.4,141.5 189.7,142.0 190.1,142.4 190.4,142.9 190.7,143.3 191.1,143.8 191.4,144.2 191.8,144.6 192.1,145.0 192.4,145.4 192.8,145.7 193.1,146.1 193.5,146.4 193.8,146.8 194.1,147.1 194.5,147.4 194.8,147.8 195.2,148.1 195.5,148.4 195.8,148.6 196.2,148.9 196.5,149.2 196.9,149.4 197.2,149.7 197.5,149.9 197.9,150.2 198.2,150.4 198.6,150.6 198.9,150.8 199.2,151.0 199.6,151.2 199.9,151.4 200.3,151.5 200.6,151.7 200.9,151.9 201.3,152.0 201.6,152.2 202,152.3 202.3,152.5 202.6,152.6 203,152.7 203.3,152.8 203.7,153.0 204,153.1 204.3,153.2 204.7,153.3 205,153.4 205.4,153.5 205.7,153.5 206,153.6 206.4,153.7 206.7,153.8 207,153.8 207.4,153.9 207.7,154.0 208.1,154.0 208.4,154.1 208.7,154.2 209.1,154.2 209.4,154.3 209.8,154.3 210.1,154.3 210.4,154.4 210.8,154.4 211.1,154.5 211.5,154.5 211.8,154.5 212.1,154.6 212.5,154.6 212.8,154.6 213.2,154.6 213.5,154.7 213.8,154.7 214.2,154.7 214.5,154.7 214.9,154.7 215.2,154.8 215.5,154.8 215.9,154.8 216.2,154.8 216.6,154.8 216.9,154.8 217.2,154.8 217.6,154.9 217.9,154.9 218.3,154.9 218.6,154.9 218.9,154.9 219.3,154.9 219.6,154.9 220,154.9 220.3,154.9 220.6,154.9 221,154.9 221.3,154.9 221.7,155.0 222,155.0 222.3,155.0 222.7,155.0 223,155.0 223.3,155.0 223.7,155.0 224,155.0 224.4,155.0 224.7,155.0" fill="none" stroke="#008000" stroke-width="2.0" stroke-linejoin="round" />
<polyline points="75.3,154.9 75.6,154.8 76,154.8 76.3,154.7 76.6,154.6 77,154.5 77.3,154.4 77.7,154.3 78,154.2 78.3,154.2 78.7,154.1 79,154.1 79.4,154.0 79.7,154.1 80,154.1 80.4,154.2 80.7,154.2 81.1,154.3 81.4,154.4 81.7,154.5 82.1,154.6 82.4,154.7 82.8,154.8 83.1,154.8 83.4,154.9 83.8,154.9 84.1,154.9 84.5,155.0 84.8,155.0 85.1,155.0 85.5,155.0 85.8,155.0 86.2,155.0 86.5,155.0 86.8,155.0 87.2,155.0 87.5,155.0 87.8,155.0 88.2,155.0 88.5,155.0 88.9,155.0 89.2,155.0 89.5,155.0 89.9,155.0 90.2,155.0 90.6,155.0 90.9,155.0 91.2,155.0 91.6,155.0 91.9,155.0 92.3,155.0 92.6,155.0 92.9,155.0 93.3,155.0 93.6,155.0 94,155.0 94.3,155.0 94.6,155.0 95,155.0 95.3,154.9 95.7,154.9 96,154.9 96.3,154.9 96.7,154.9 97,154.8 97.4,154.8 97.7,154.7 98,154.7 98.4,154.6 98.7,154.5 99.1,154.4 99.4,154.3 99.7,154.1 100.1,153.9 100.4,153.7 100.8,153.5 101.1,153.2 101.4,152.9 101.8,152.6 102.1,152.2 102.5,151.7 102.8,151.2 103.1,150.7 103.5,150.1 103.8,149.4 104.2,148.6 104.5,147.8 104.8,146.8 105.2,145.7 105.5,144.5 105.8,143.0 106.2,141.4 106.5,139.4 106.9,137.2 107.2,134.7 107.5,131.9 107.9,128.8 108.2,125.4 108.6,122.0 108.9,118.6 109.2,115.4 109.6,112.5 109.9,110.1 110.3,108.3 110.6,107.3 110.9,107.2 111.3,107.8 111.6,109.3 112,111.4 112.3,114.0 112.6,117.0 113,120.2 113.3,123.4 113.7,126.6 114,129.6 114.3,132.3 114.7,134.8 115,136.9 115.4,138.8 115.7,140.5 116,141.9 116.4,143.2 116.7,144.3 117.1,145.2 117.4,146.1 117.7,146.8 118.1,147.4 118.4,147.9 118.8,148.4 119.1,148.8 119.4,149.1 119.8,149.4 120.1,149.6 120.5,149.8 120.8,150.0 121.1,150.2 121.5,150.3 121.8,150.5 122.1,150.6 122.5,150.7 122.8,150.8 123.2,150.9 123.5,150.8 123.8,150.8 124.2,150.6 124.5,150.4 124.9,150.1 125.2,149.7 125.5,149.3 125.9,148.9 126.2,148.3 126.6,147.7 126.9,147.1 127.2,146.4 127.6,145.6 127.9,144.8 128.3,143.9 128.6,143.0 128.9,142.0 129.3,141.0 129.6,139.9 130,138.7 130.3,137.5 130.6,136.3 131,135.0 131.3,133.7 131.7,132.3 132,130.9 132.3,129.5 132.7,128.1 133,126.6 133.4,125.1 133.7,123.6 134,122.1 134.4,120.7 134.7,119.2 135.1,117.7 135.4,116.3 135.7,114.9 136.1,113.5 136.4,112.2 136.8,110.9 137.1,109.6 137.4,108.4 137.8,107.2 138.1,106.1 138.4,105.0 138.8,104.0 139.1,103.0 139.5,102.1 139.8,101.2 140.1,100.3 140.5,99.5 140.8,98.6 141.2,97.9 141.5,97.1 141.8,96.3 142.2,95.6 142.5,94.8 142.9,94.0 143.2,93.3 143.5,92.5 143.9,91.7 144.2,90.8 144.6,90.0 144.9,89.1 145.2,88.2 145.6,87.2 145.9,86.2 146.3,85.2 146.6,84.1 146.9,83.0 147.3,81.8 147.6,80.6 148,79.4 148.3,78.2 148.6,76.9 149,75.5 149.3,74.2 149.7,72.8 150,71.4 150.3,70.0 150.7,68.5 151,67.1 151.4,65.7 151.7,64.2 152,62.8 152.4,61.4 152.7,59.9 153.1,58.5 153.4,57.1 153.7,55.8 154.1,54.5 154.4,53.2 154.8,51.9 155.1,50.7 155.4,49.5 155.8,48.3 156.1,47.2 156.4,46.1 156.8,45.1 157.1,44.2 157.5,43.3 157.8,42.4 158.1,41.6 158.5,40.9 158.8,40.2 159.2,39.6 159.5,39.1 159.8,38.6 160.2,38.1 160.5,37.8 160.9,37.5 161.2,37.2 161.5,37.1 161.9,37.0 162.2,36.9 162.6,36.9 162.9,37.0 163.2,37.1 163.6,37.4 163.9,37.6 164.3,38.0 164.6,38.3 164.9,38.8 165.3,39.3 165.6,39.9 166,40.5 166.3,41.1 166.6,41.9 167,42.6 167.3,43.5 167.7,44.3 168,45.2 168.3,46.2 168.7,47.2 169,48.3 169.4,49.3 169.7,50.5 170,51.6 170.4,52.8 170.7,54.1 171.1,55.3 171.4,56.6 171.7,57.9 172.1,59.3 172.4,60.6 172.7,62.0 173.1,63.4 173.4,64.8 173.8,66.3 174.1,67.7 174.4,69.2 174.8,70.7 175.1,72.2 175.5,73.7 175.8,75.2 176.1,76.7 176.5,78.2 176.8,79.7 177.2,81.2 177.5,82.8 177.8,84.3 178.2,85.8 178.5,87.3 178.9,88.8 179.2,90.3 179.5,91.8 179.9,93.3 180.2,94.7 180.6,96.2 180.9,97.6 181.2,99.1 181.6,100.5 181.9,101.9 182.3,103.3 182.6,104.6 182.9,106.0 183.3,107.3 183.6,108.7 184,110.0 184.3,111.2 184.6,112.5 185,113.8 185.3,115.0 185.7,116.2 186,117.4 186.3,118.5 186.7,119.7 187,120.8 187.4,121.9 187.7,123.0 188,124.0 188.4,125.1 188.7,126.1 189.1,127.1 189.4,128.0 189.7,129.0 190.1,129.9 190.4,130.8 190.7,131.7 191.1,132.5 191.4,133.3 191.8,134.2 192.1,135.0 192.4,135.7 192.8,136.5 193.1,137.2 193.5,137.9 193.8,138.6 194.1,139.2 194.5,139.9 194.8,140.5 195.2,141.1 195.5,141.7 195.8,142.3 196.2,142.8 196.5,143.4 196.9,143.9 197.2,144.4 197.5,144.8 197.9,145.3 198.2,145.7 198.6,146.2 198.9,146.6 199.2,147.0 199.6,147.4 199.9,147.7 200.3,148.1 200.6,148.4 200.9,148.7 201.3,149.1 201.6,149.4 202,149.6 202.3,149.9 202.6,150.2 203,150.4 203.3,150.7 203.7,150.9 204,151.1 204.3,151.3 204.7,151.5 205,151.7 205.4,151.9 205.7,152.1 206,152.2 206.4,152.4 206.7,152.6 207,152.7 207.4,152.8 207.7,153.0 208.1,153.1 208.4,153.2 208.7,153.3 209.1,153.4 209.4,153.5 209.8,153.6 210.1,153.7 210.4,153.8 210.8,153.8 211.1,153.9 211.5,154.0 211.8,154.1 212.1,154.1 212.5,154.2 212.8,154.2 213.2,154.3 213.5,154.3 213.8,154.4 214.2,154.4 214.5,154.5 214.9,154.5 215.2,154.5 215.5,154.6 215.9,154.6 216.2,154.6 216.6,154.6 216.9,154.7 217.2,154.7 217.6,154.7 217.9,154.7 218.3,154.8 218.6,154.8 218.9,154.8 219.3,154.8 219.6,154.8 220,154.8 220.3,154.9 220.6,154.9 221,154.9 221.3,154.9 221.7,154.9 222,154.9 222.3,154.9 222.7,154.9 223,155.0 223.3,155.0 223.7,155.0 224,155.0 224.4,155.0 224.7,155.0" fill="none" stroke="#ff0000" stroke-width="2.0" stroke-linejoin="round" />
<rect x="61.7" y="18" width="169.8" height="137" fill="none" stroke="#000" stroke-width="1.1"/>
<line x1="61.7" y1="155" x2="61.7" y2="157.6" stroke="#000" stroke-width="1.1"/>
<line x1="61.7" y1="18" x2="61.7" y2="15.4" stroke="#000" stroke-width="1.1"/>
<line x1="95.66" y1="155" x2="95.66" y2="157.6" stroke="#000" stroke-width="1.1"/>
<line x1="95.66" y1="18" x2="95.66" y2="15.4" stroke="#000" stroke-width="1.1"/>
<line x1="129.62" y1="155" x2="129.62" y2="157.6" stroke="#000" stroke-width="1.1"/>
<line x1="129.62" y1="18" x2="129.62" y2="15.4" stroke="#000" stroke-width="1.1"/>
<line x1="163.58" y1="155" x2="163.58" y2="157.6" stroke="#000" stroke-width="1.1"/>
<line x1="163.58" y1="18" x2="163.58" y2="15.4" stroke="#000" stroke-width="1.1"/>
<line x1="197.54" y1="155" x2="197.54" y2="157.6" stroke="#000" stroke-width="1.1"/>
<line x1="197.54" y1="18" x2="197.54" y2="15.4" stroke="#000" stroke-width="1.1"/>
<line x1="231.5" y1="155" x2="231.5" y2="157.6" stroke="#000" stroke-width="1.1"/>
<line x1="231.5" y1="18" x2="231.5" y2="15.4" stroke="#000" stroke-width="1.1"/>
<line x1="78.68" y1="155" x2="78.68" y2="156.5" stroke="#000" stroke-width="1.1"/>
<line x1="78.68" y1="18" x2="78.68" y2="16.5" stroke="#000" stroke-width="1.1"/>
<line x1="112.64" y1="155" x2="112.64" y2="156.5" stroke="#000" stroke-width="1.1"/>
<line x1="112.64" y1="18" x2="112.64" y2="16.5" stroke="#000" stroke-width="1.1"/>
<line x1="146.6" y1="155" x2="146.6" y2="156.5" stroke="#000" stroke-width="1.1"/>
<line x1="146.6" y1="18" x2="146.6" y2="16.5" stroke="#000" stroke-width="1.1"/>
<line x1="180.56" y1="155" x2="180.56" y2="156.5" stroke="#000" stroke-width="1.1"/>
<line x1="180.56" y1="18" x2="180.56" y2="16.5" stroke="#000" stroke-width="1.1"/>
<line x1="214.52" y1="155" x2="214.52" y2="156.5" stroke="#000" stroke-width="1.1"/>
<line x1="214.52" y1="18" x2="214.52" y2="16.5" stroke="#000" stroke-width="1.1"/>
<line x1="61.7" y1="155" x2="59.1" y2="155" stroke="#000" stroke-width="1.1"/>
<line x1="61.7" y1="127.6" x2="59.1" y2="127.6" stroke="#000" stroke-width="1.1"/>
<line x1="61.7" y1="100.2" x2="59.1" y2="100.2" stroke="#000" stroke-width="1.1"/>
<line x1="61.7" y1="72.8" x2="59.1" y2="72.8" stroke="#000" stroke-width="1.1"/>
<line x1="61.7" y1="45.4" x2="59.1" y2="45.4" stroke="#000" stroke-width="1.1"/>
<line x1="61.7" y1="18" x2="59.1" y2="18" stroke="#000" stroke-width="1.1"/>
<line x1="61.7" y1="141.3" x2="60.2" y2="141.3" stroke="#000" stroke-width="1.1"/>
<line x1="61.7" y1="113.9" x2="60.2" y2="113.9" stroke="#000" stroke-width="1.1"/>
<line x1="61.7" y1="86.5" x2="60.2" y2="86.5" stroke="#000" stroke-width="1.1"/>
<line x1="61.7" y1="59.1" x2="60.2" y2="59.1" stroke="#000" stroke-width="1.1"/>
<line x1="61.7" y1="31.7" x2="60.2" y2="31.7" stroke="#000" stroke-width="1.1"/>
<line x1="231.5" y1="155" x2="234.1" y2="155" stroke="#000" stroke-width="1.1"/>
<line x1="231.5" y1="132.17" x2="234.1" y2="132.17" stroke="#000" stroke-width="1.1"/>
<line x1="231.5" y1="109.33" x2="234.1" y2="109.33" stroke="#000" stroke-width="1.1"/>
<line x1="231.5" y1="86.5" x2="234.1" y2="86.5" stroke="#000" stroke-width="1.1"/>
<line x1="231.5" y1="63.67" x2="234.1" y2="63.67" stroke="#000" stroke-width="1.1"/>
<line x1="231.5" y1="40.83" x2="234.1" y2="40.83" stroke="#000" stroke-width="1.1"/>
<line x1="231.5" y1="18" x2="234.1" y2="18" stroke="#000" stroke-width="1.1"/>
<line x1="231.5" y1="143.58" x2="233" y2="143.58" stroke="#000" stroke-width="1.1"/>
<line x1="231.5" y1="120.75" x2="233" y2="120.75" stroke="#000" stroke-width="1.1"/>
<line x1="231.5" y1="97.92" x2="233" y2="97.92" stroke="#000" stroke-width="1.1"/>
<line x1="231.5" y1="75.08" x2="233" y2="75.08" stroke="#000" stroke-width="1.1"/>
<line x1="231.5" y1="52.25" x2="233" y2="52.25" stroke="#000" stroke-width="1.1"/>
<line x1="231.5" y1="29.42" x2="233" y2="29.42" stroke="#000" stroke-width="1.1"/>
<text x="61.7" y="166.1" font-size="8.8" text-anchor="middle" font-weight="bold" >300</text>
<text x="95.66" y="166.1" font-size="8.8" text-anchor="middle" font-weight="bold" >400</text>
<text x="129.62" y="166.1" font-size="8.8" text-anchor="middle" font-weight="bold" >500</text>
<text x="163.58" y="166.1" font-size="8.8" text-anchor="middle" font-weight="bold" >600</text>
<text x="197.54" y="166.1" font-size="8.8" text-anchor="middle" font-weight="bold" >700</text>
<text x="231.5" y="166.1" font-size="8.8" text-anchor="middle" font-weight="bold" >800</text>
<text x="57.8" y="158" font-size="8.8" text-anchor="end" font-weight="bold" >0</text>
<text x="57.8" y="130.6" font-size="8.8" text-anchor="end" font-weight="bold" >1</text>
<text x="57.8" y="103.2" font-size="8.8" text-anchor="end" font-weight="bold" >2</text>
<text x="57.8" y="75.8" font-size="8.8" text-anchor="end" font-weight="bold" >3</text>
<text x="57.8" y="48.4" font-size="8.8" text-anchor="end" font-weight="bold" >4</text>
<text x="57.8" y="21" font-size="8.8" text-anchor="end" font-weight="bold" >5</text>
<text x="236.3" y="158" font-size="8.8" text-anchor="start" font-weight="bold" >0</text>
<text x="236.3" y="135.17" font-size="8.8" text-anchor="start" font-weight="bold" >100</text>
<text x="236.3" y="112.33" font-size="8.8" text-anchor="start" font-weight="bold" >200</text>
<text x="236.3" y="89.5" font-size="8.8" text-anchor="start" font-weight="bold" >300</text>
<text x="236.3" y="66.67" font-size="8.8" text-anchor="start" font-weight="bold" >400</text>
<text x="236.3" y="43.83" font-size="8.8" text-anchor="start" font-weight="bold" >500</text>
<text x="236.3" y="21" font-size="8.8" text-anchor="start" font-weight="bold" >600</text>
<text x="64.6" y="29.3" font-size="9.0" text-anchor="start" font-weight="bold" >Lamp Intensity (lux)</text>
<line x1="66.6" y1="38.2" x2="86.4" y2="38.2" stroke="#000000" stroke-width="1.6"/>
<text x="90.4" y="41" font-size="8.0" text-anchor="start" font-weight="bold" >200</text>
<line x1="66.6" y1="48.7" x2="86.4" y2="48.7" stroke="#0000ff" stroke-width="1.6"/>
<text x="90.4" y="51.5" font-size="8.0" text-anchor="start" font-weight="bold" >500</text>
<line x1="66.6" y1="59.2" x2="86.4" y2="59.2" stroke="#008000" stroke-width="1.6"/>
<text x="90.4" y="62" font-size="8.0" text-anchor="start" font-weight="bold" >1000</text>
<line x1="66.6" y1="69.7" x2="86.4" y2="69.7" stroke="#ff0000" stroke-width="1.6"/>
<text x="90.4" y="72.5" font-size="8.0" text-anchor="start" font-weight="bold" >2000</text>
<text transform="translate(43.3,86.5) rotate(-90)" font-size="10.4" text-anchor="middle" font-weight="bold">Emission power (µW cm<tspan font-size="7.0" dy="-3.6">-2</tspan><tspan dy="3.6"> nm</tspan><tspan font-size="7.0" dy="-3.6">-1</tspan><tspan dy="3.6">)</tspan></text>
<text transform="translate(262.6,85) rotate(-90)" font-size="10.8" text-anchor="middle" font-weight="bold">Integral power (mW cm<tspan font-size="7.0" dy="-3.6">-2</tspan><tspan dy="3.6">)</tspan></text>
<text x="146.6" y="182.3" font-size="10.4" text-anchor="middle" font-weight="bold" >Wavelength (nm)</text>
<polyline points="361.3,154.5 361.6,154.5 362,154.5 362.3,154.4 362.6,154.4 363,154.4 363.3,154.3 363.7,154.3 364,154.2 364.3,154.2 364.7,154.2 365,154.1 365.4,154.1 365.7,154.1 366,154.1 366.4,154.1 366.7,154.0 367.1,154.0 367.4,154.0 367.8,154.0 368.1,154.0 368.4,154.0 368.8,154.0 369.1,154.0 369.5,154.0 369.8,154.0 370.1,154.0 370.5,154.0 370.8,154.0 371.2,154.0 371.5,154.0 371.8,153.9 372.2,153.9 372.5,153.9 372.9,153.9 373.2,153.9 373.6,153.9 373.9,153.9 374.2,153.9 374.6,153.9 374.9,153.9 375.3,153.9 375.6,153.9 375.9,153.9 376.3,153.9 376.6,153.8 377,153.8 377.3,153.8 377.6,153.8 378,153.8 378.3,153.8 378.7,153.7 379,153.7 379.4,153.7 379.7,153.6 380,153.6 380.4,153.6 380.7,153.6 381.1,153.5 381.4,153.5 381.7,153.5 382.1,153.4 382.4,153.4 382.8,153.4 383.1,153.3 383.4,153.3 383.8,153.3 384.1,153.2 384.5,153.2 384.8,153.2 385.2,153.1 385.5,153.1 385.8,153.0 386.2,153.0 386.5,153.0 386.9,152.9 387.2,152.9 387.5,152.9 387.9,152.8 388.2,152.8 388.6,152.7 388.9,152.7 389.2,152.6 389.6,152.6 389.9,152.6 390.3,152.5 390.6,152.5 391,152.4 391.3,152.4 391.6,152.3 392,152.3 392.3,152.2 392.7,152.2 393,152.1 393.3,152.1 393.7,152.0 394,152.0 394.4,151.9 394.7,151.8 395,151.8 395.4,151.7 395.7,151.6 396.1,151.6 396.4,151.5 396.8,151.5 397.1,151.4 397.4,151.3 397.8,151.3 398.1,151.2 398.5,151.1 398.8,151.1 399.1,151.0 399.5,150.9 399.8,150.8 400.2,150.8 400.5,150.7 400.8,150.6 401.2,150.6 401.5,150.5 401.9,150.4 402.2,150.4 402.6,150.3 402.9,150.2 403.2,150.2 403.6,150.1 403.9,150.0 404.3,149.9 404.6,149.9 404.9,149.8 405.3,149.7 405.6,149.7 406,149.6 406.3,149.5 406.6,149.4 407,149.4 407.3,149.3 407.7,149.2 408,149.1 408.4,149.1 408.7,149.0 409,148.9 409.4,148.8 409.7,148.8 410.1,148.7 410.4,148.6 410.7,148.5 411.1,148.4 411.4,148.4 411.8,148.3 412.1,148.2 412.4,148.1 412.8,148.0 413.1,148.0 413.5,147.9 413.8,147.8 414.2,147.7 414.5,147.6 414.8,147.6 415.2,147.5 415.5,147.4 415.9,147.3 416.2,147.3 416.5,147.2 416.9,147.1 417.2,147.0 417.6,147.0 417.9,146.9 418.2,146.8 418.6,146.7 418.9,146.7 419.3,146.6 419.6,146.5 420,146.5 420.3,146.4 420.6,146.3 421,146.3 421.3,146.2 421.7,146.2 422,146.1 422.3,146.0 422.7,146.0 423,145.9 423.4,145.8 423.7,145.8 424,145.7 424.4,145.7 424.7,145.6 425.1,145.5 425.4,145.5 425.8,145.4 426.1,145.4 426.4,145.3 426.8,145.2 427.1,145.2 427.5,145.1 427.8,145.0 428.1,145.0 428.5,144.9 428.8,144.9 429.2,144.8 429.5,144.7 429.8,144.7 430.2,144.6 430.5,144.5 430.9,144.5 431.2,144.4 431.6,144.4 431.9,144.3 432.2,144.2 432.6,144.2 432.9,144.1 433.3,144.1 433.6,144.0 433.9,144.0 434.3,144.0 434.6,143.9 435,143.9 435.3,143.8 435.6,143.8 436,143.8 436.3,143.7 436.7,143.7 437,143.7 437.4,143.6 437.7,143.6 438,143.6 438.4,143.5 438.7,143.5 439.1,143.5 439.4,143.4 439.7,143.4 440.1,143.4 440.4,143.4 440.8,143.3 441.1,143.3 441.5,143.3 441.8,143.2 442.1,143.2 442.5,143.2 442.8,143.2 443.2,143.2 443.5,143.1 443.8,143.1 444.2,143.1 444.5,143.1 444.9,143.0 445.2,143.0 445.5,143.0 445.9,143.0 446.2,143.0 446.6,142.9 446.9,142.9 447.3,142.9 447.6,142.9 447.9,142.9 448.3,142.9 448.6,142.8 449,142.8 449.3,142.8 449.6,142.8 450,142.8 450.3,142.7 450.7,142.7 451,142.7 451.3,142.7 451.7,142.7 452,142.7 452.4,142.7 452.7,142.6 453.1,142.6 453.4,142.6 453.7,142.6 454.1,142.6 454.4,142.6 454.8,142.6 455.1,142.6 455.4,142.6 455.8,142.5 456.1,142.5 456.5,142.5 456.8,142.5 457.1,142.5 457.5,142.5 457.8,142.5 458.2,142.5 458.5,142.5 458.9,142.5 459.2,142.5 459.5,142.5 459.9,142.5 460.2,142.4 460.6,142.4 460.9,142.4 461.2,142.4 461.6,142.4 461.9,142.4 462.3,142.4 462.6,142.4 462.9,142.4 463.3,142.4 463.6,142.4 464,142.4 464.3,142.4 464.7,142.4 465,142.4 465.3,142.4 465.7,142.4 466,142.4 466.4,142.4 466.7,142.3 467,142.3 467.4,142.3 467.7,142.3 468.1,142.3 468.4,142.3 468.7,142.3 469.1,142.3 469.4,142.3 469.8,142.3 470.1,142.3 470.5,142.3 470.8,142.3 471.1,142.3 471.5,142.3 471.8,142.3 472.2,142.3 472.5,142.3 472.8,142.3 473.2,142.3 473.5,142.3 473.9,142.3 474.2,142.3 474.5,142.3 474.9,142.3 475.2,142.3 475.6,142.3 475.9,142.3 476.3,142.3 476.6,142.3 476.9,142.3 477.3,142.3" fill="none" stroke="#7a7a7a" stroke-width="1.0" stroke-linejoin="round" />
<polyline points="361.3,154.3 361.6,154.2 362,154.1 362.3,154.0 362.6,154.0 363,153.9 363.3,153.8 363.7,153.7 364,153.6 364.3,153.5 364.7,153.4 365,153.4 365.4,153.3 365.7,153.3 366,153.2 366.4,153.2 366.7,153.1 367.1,153.1 367.4,153.1 367.8,153.1 368.1,153.0 368.4,153.0 368.8,153.0 369.1,153.0 369.5,153.0 369.8,153.0 370.1,153.0 370.5,153.0 370.8,152.9 371.2,152.9 371.5,152.9 371.8,152.9 372.2,152.9 372.5,152.9 372.9,152.9 373.2,152.9 373.6,152.8 373.9,152.8 374.2,152.8 374.6,152.8 374.9,152.8 375.3,152.8 375.6,152.7 375.9,152.7 376.3,152.7 376.6,152.7 377,152.6 377.3,152.6 377.6,152.5 378,152.5 378.3,152.4 378.7,152.4 379,152.3 379.4,152.3 379.7,152.2 380,152.1 380.4,152.0 380.7,152.0 381.1,151.9 381.4,151.8 381.7,151.7 382.1,151.7 382.4,151.6 382.8,151.5 383.1,151.4 383.4,151.3 383.8,151.3 384.1,151.2 384.5,151.1 384.8,151.0 385.2,150.9 385.5,150.8 385.8,150.8 386.2,150.7 386.5,150.6 386.9,150.5 387.2,150.4 387.5,150.3 387.9,150.2 388.2,150.1 388.6,150.0 388.9,149.9 389.2,149.8 389.6,149.7 389.9,149.6 390.3,149.5 390.6,149.4 391,149.2 391.3,149.1 391.6,149.0 392,148.9 392.3,148.8 392.7,148.7 393,148.5 393.3,148.4 393.7,148.3 394,148.1 394.4,148.0 394.7,147.9 395,147.7 395.4,147.6 395.7,147.4 396.1,147.3 396.4,147.1 396.8,147.0 397.1,146.8 397.4,146.6 397.8,146.5 398.1,146.3 398.5,146.2 398.8,146.0 399.1,145.8 399.5,145.7 399.8,145.5 400.2,145.4 400.5,145.2 400.8,145.0 401.2,144.9 401.5,144.7 401.9,144.5 402.2,144.4 402.6,144.2 402.9,144.0 403.2,143.9 403.6,143.7 403.9,143.5 404.3,143.4 404.6,143.2 404.9,143.0 405.3,142.9 405.6,142.7 406,142.5 406.3,142.3 406.6,142.2 407,142.0 407.3,141.8 407.7,141.6 408,141.5 408.4,141.3 408.7,141.1 409,140.9 409.4,140.7 409.7,140.5 410.1,140.4 410.4,140.2 410.7,140.0 411.1,139.8 411.4,139.6 411.8,139.4 412.1,139.2 412.4,139.0 412.8,138.8 413.1,138.6 413.5,138.4 413.8,138.2 414.2,138.1 414.5,137.9 414.8,137.7 415.2,137.5 415.5,137.3 415.9,137.1 416.2,137.0 416.5,136.8 416.9,136.6 417.2,136.4 417.6,136.3 417.9,136.1 418.2,135.9 418.6,135.7 418.9,135.6 419.3,135.4 419.6,135.2 420,135.1 420.3,134.9 420.6,134.8 421,134.6 421.3,134.5 421.7,134.3 422,134.2 422.3,134.0 422.7,133.9 423,133.7 423.4,133.6 423.7,133.4 424,133.3 424.4,133.1 424.7,133.0 425.1,132.9 425.4,132.7 425.8,132.6 426.1,132.4 426.4,132.3 426.8,132.1 427.1,132.0 427.5,131.8 427.8,131.7 428.1,131.5 428.5,131.4 428.8,131.2 429.2,131.1 429.5,130.9 429.8,130.8 430.2,130.6 430.5,130.5 430.9,130.3 431.2,130.2 431.6,130.0 431.9,129.9 432.2,129.8 432.6,129.6 432.9,129.5 433.3,129.4 433.6,129.3 433.9,129.2 434.3,129.1 434.6,129.0 435,128.9 435.3,128.8 435.6,128.7 436,128.6 436.3,128.6 436.7,128.5 437,128.4 437.4,128.3 437.7,128.2 438,128.1 438.4,128.1 438.7,128.0 439.1,127.9 439.4,127.9 439.7,127.8 440.1,127.7 440.4,127.6 440.8,127.6 441.1,127.5 441.5,127.5 441.8,127.4 442.1,127.3 442.5,127.3 442.8,127.2 443.2,127.2 443.5,127.1 443.8,127.1 444.2,127.0 444.5,127.0 444.9,126.9 445.2,126.9 445.5,126.8 445.9,126.8 446.2,126.7 446.6,126.7 446.9,126.6 447.3,126.6 447.6,126.5 447.9,126.5 448.3,126.4 448.6,126.4 449,126.4 449.3,126.3 449.6,126.3 450,126.2 450.3,126.2 450.7,126.2 451,126.1 451.3,126.1 451.7,126.1 452,126.0 452.4,126.0 452.7,126.0 453.1,125.9 453.4,125.9 453.7,125.9 454.1,125.8 454.4,125.8 454.8,125.8 455.1,125.8 455.4,125.7 455.8,125.7 456.1,125.7 456.5,125.7 456.8,125.7 457.1,125.6 457.5,125.6 457.8,125.6 458.2,125.6 458.5,125.6 458.9,125.5 459.2,125.5 459.5,125.5 459.9,125.5 460.2,125.5 460.6,125.5 460.9,125.4 461.2,125.4 461.6,125.4 461.9,125.4 462.3,125.4 462.6,125.4 462.9,125.4 463.3,125.4 463.6,125.3 464,125.3 464.3,125.3 464.7,125.3 465,125.3 465.3,125.3 465.7,125.3 466,125.3 466.4,125.3 466.7,125.2 467,125.2 467.4,125.2 467.7,125.2 468.1,125.2 468.4,125.2 468.7,125.2 469.1,125.2 469.4,125.2 469.8,125.2 470.1,125.2 470.5,125.1 470.8,125.1 471.1,125.1 471.5,125.1 471.8,125.1 472.2,125.1 472.5,125.1 472.8,125.1 473.2,125.1 473.5,125.1 473.9,125.1 474.2,125.1 474.5,125.1 474.9,125.1 475.2,125.1 475.6,125.0 475.9,125.0 476.3,125.0 476.6,125.0 476.9,125.0 477.3,125.0" fill="none" stroke="#6f6fff" stroke-width="1.0" stroke-linejoin="round" />
<polyline points="361.3,153.8 361.6,153.7 362,153.5 362.3,153.4 362.6,153.2 363,153.0 363.3,152.8 363.7,152.7 364,152.5 364.3,152.3 364.7,152.1 365,152.0 365.4,151.9 365.7,151.8 366,151.7 366.4,151.6 366.7,151.6 367.1,151.5 367.4,151.4 367.8,151.4 368.1,151.3 368.4,151.3 368.8,151.3 369.1,151.3 369.5,151.2 369.8,151.2 370.1,151.2 370.5,151.2 370.8,151.2 371.2,151.1 371.5,151.1 371.8,151.1 372.2,151.1 372.5,151.0 372.9,151.0 373.2,151.0 373.6,150.9 373.9,150.9 374.2,150.9 374.6,150.8 374.9,150.8 375.3,150.8 375.6,150.7 375.9,150.7 376.3,150.6 376.6,150.6 377,150.5 377.3,150.4 377.6,150.3 378,150.2 378.3,150.1 378.7,150.0 379,149.9 379.4,149.8 379.7,149.6 380,149.5 380.4,149.4 380.7,149.2 381.1,149.1 381.4,148.9 381.7,148.7 382.1,148.6 382.4,148.4 382.8,148.2 383.1,148.1 383.4,147.9 383.8,147.7 384.1,147.6 384.5,147.4 384.8,147.3 385.2,147.1 385.5,146.9 385.8,146.7 386.2,146.6 386.5,146.4 386.9,146.2 387.2,146.0 387.5,145.8 387.9,145.6 388.2,145.4 388.6,145.2 388.9,145.0 389.2,144.8 389.6,144.6 389.9,144.4 390.3,144.2 390.6,143.9 391,143.7 391.3,143.5 391.6,143.2 392,143.0 392.3,142.8 392.7,142.5 393,142.3 393.3,142.0 393.7,141.8 394,141.5 394.4,141.2 394.7,140.9 395,140.6 395.4,140.3 395.7,140.0 396.1,139.7 396.4,139.4 396.8,139.1 397.1,138.8 397.4,138.5 397.8,138.1 398.1,137.8 398.5,137.5 398.8,137.2 399.1,136.8 399.5,136.5 399.8,136.2 400.2,135.9 400.5,135.5 400.8,135.2 401.2,134.9 401.5,134.5 401.9,134.2 402.2,133.9 402.6,133.6 402.9,133.2 403.2,132.9 403.6,132.5 403.9,132.2 404.3,131.9 404.6,131.5 404.9,131.2 405.3,130.8 405.6,130.5 406,130.1 406.3,129.8 406.6,129.4 407,129.1 407.3,128.7 407.7,128.3 408,128.0 408.4,127.6 408.7,127.3 409,126.9 409.4,126.5 409.7,126.2 410.1,125.8 410.4,125.4 410.7,125.0 411.1,124.6 411.4,124.3 411.8,123.9 412.1,123.5 412.4,123.1 412.8,122.7 413.1,122.3 413.5,121.9 413.8,121.5 414.2,121.1 414.5,120.8 414.8,120.4 415.2,120.0 415.5,119.7 415.9,119.3 416.2,118.9 416.5,118.6 416.9,118.2 417.2,117.9 417.6,117.5 417.9,117.2 418.2,116.8 418.6,116.5 418.9,116.1 419.3,115.8 419.6,115.5 420,115.2 420.3,114.8 420.6,114.5 421,114.2 421.3,113.9 421.7,113.6 422,113.3 422.3,113.0 422.7,112.7 423,112.4 423.4,112.1 423.7,111.8 424,111.5 424.4,111.2 424.7,111.0 425.1,110.7 425.4,110.4 425.8,110.1 426.1,109.8 426.4,109.5 426.8,109.2 427.1,108.9 427.5,108.6 427.8,108.3 428.1,108.0 428.5,107.7 428.8,107.4 429.2,107.0 429.5,106.7 429.8,106.4 430.2,106.1 430.5,105.8 430.9,105.5 431.2,105.2 431.6,105.0 431.9,104.7 432.2,104.4 432.6,104.2 432.9,103.9 433.3,103.7 433.6,103.5 433.9,103.3 434.3,103.1 434.6,102.9 435,102.7 435.3,102.5 435.6,102.3 436,102.2 436.3,102.0 436.7,101.8 437,101.6 437.4,101.5 437.7,101.3 438,101.2 438.4,101.0 438.7,100.9 439.1,100.7 439.4,100.6 439.7,100.4 440.1,100.3 440.4,100.2 440.8,100.0 441.1,99.9 441.5,99.8 441.8,99.6 442.1,99.5 442.5,99.4 442.8,99.3 443.2,99.2 443.5,99.1 443.8,99.0 444.2,98.9 444.5,98.8 444.9,98.7 445.2,98.6 445.5,98.5 445.9,98.4 446.2,98.3 446.6,98.2 446.9,98.1 447.3,98.0 447.6,97.9 447.9,97.8 448.3,97.7 448.6,97.6 449,97.6 449.3,97.5 449.6,97.4 450,97.3 450.3,97.2 450.7,97.2 451,97.1 451.3,97.0 451.7,96.9 452,96.9 452.4,96.8 452.7,96.7 453.1,96.7 453.4,96.6 453.7,96.6 454.1,96.5 454.4,96.5 454.8,96.4 455.1,96.4 455.4,96.3 455.8,96.3 456.1,96.2 456.5,96.2 456.8,96.1 457.1,96.1 457.5,96.1 457.8,96.0 458.2,96.0 458.5,96.0 458.9,95.9 459.2,95.9 459.5,95.9 459.9,95.8 460.2,95.8 460.6,95.8 460.9,95.7 461.2,95.7 461.6,95.7 461.9,95.6 462.3,95.6 462.6,95.6 462.9,95.6 463.3,95.5 463.6,95.5 464,95.5 464.3,95.5 464.7,95.4 465,95.4 465.3,95.4 465.7,95.4 466,95.3 466.4,95.3 466.7,95.3 467,95.3 467.4,95.3 467.7,95.3 468.1,95.2 468.4,95.2 468.7,95.2 469.1,95.2 469.4,95.2 469.8,95.1 470.1,95.1 470.5,95.1 470.8,95.1 471.1,95.1 471.5,95.1 471.8,95.1 472.2,95.0 472.5,95.0 472.8,95.0 473.2,95.0 473.5,95.0 473.9,95.0 474.2,95.0 474.5,94.9 474.9,94.9 475.2,94.9 475.6,94.9 475.9,94.9 476.3,94.9 476.6,94.9 476.9,94.9 477.3,94.9" fill="none" stroke="#5aad5a" stroke-width="1.0" stroke-linejoin="round" />
<polyline points="361.3,153.0 361.6,152.7 362,152.4 362.3,152.0 362.6,151.7 363,151.4 363.3,151.0 363.7,150.6 364,150.2 364.3,149.9 364.7,149.6 365,149.3 365.4,149.1 365.7,148.9 366,148.7 366.4,148.6 366.7,148.4 367.1,148.3 367.4,148.2 367.8,148.1 368.1,148.0 368.4,147.9 368.8,147.9 369.1,147.8 369.5,147.8 369.8,147.7 370.1,147.7 370.5,147.7 370.8,147.6 371.2,147.6 371.5,147.5 371.8,147.5 372.2,147.4 372.5,147.4 372.9,147.3 373.2,147.2 373.6,147.2 373.9,147.1 374.2,147.1 374.6,147.0 374.9,146.9 375.3,146.8 375.6,146.8 375.9,146.7 376.3,146.6 376.6,146.4 377,146.3 377.3,146.2 377.6,146.0 378,145.8 378.3,145.6 378.7,145.3 379,145.1 379.4,144.8 379.7,144.6 380,144.3 380.4,144.0 380.7,143.7 381.1,143.4 381.4,143.1 381.7,142.8 382.1,142.4 382.4,142.1 382.8,141.8 383.1,141.5 383.4,141.1 383.8,140.8 384.1,140.5 384.5,140.1 384.8,139.8 385.2,139.5 385.5,139.1 385.8,138.8 386.2,138.4 386.5,138.1 386.9,137.7 387.2,137.3 387.5,136.9 387.9,136.5 388.2,136.1 388.6,135.7 388.9,135.3 389.2,134.9 389.6,134.5 389.9,134.0 390.3,133.6 390.6,133.2 391,132.7 391.3,132.2 391.6,131.8 392,131.3 392.3,130.8 392.7,130.3 393,129.8 393.3,129.3 393.7,128.8 394,128.3 394.4,127.7 394.7,127.1 395,126.6 395.4,126.0 395.7,125.4 396.1,124.7 396.4,124.1 396.8,123.5 397.1,122.9 397.4,122.2 397.8,121.6 398.1,120.9 398.5,120.3 398.8,119.6 399.1,119.0 399.5,118.3 399.8,117.7 400.2,117.0 400.5,116.4 400.8,115.7 401.2,115.0 401.5,114.4 401.9,113.7 402.2,113.1 402.6,112.4 402.9,111.7 403.2,111.1 403.6,110.4 403.9,109.7 404.3,109.0 404.6,108.3 404.9,107.6 405.3,106.9 405.6,106.2 406,105.5 406.3,104.8 406.6,104.1 407,103.4 407.3,102.7 407.7,102.0 408,101.3 408.4,100.6 408.7,99.8 409,99.1 409.4,98.4 409.7,97.6 410.1,96.9 410.4,96.1 410.7,95.3 411.1,94.6 411.4,93.8 411.8,93.0 412.1,92.2 412.4,91.5 412.8,90.7 413.1,89.9 413.5,89.1 413.8,88.4 414.2,87.6 414.5,86.8 414.8,86.1 415.2,85.3 415.5,84.6 415.9,83.9 416.2,83.2 416.5,82.4 416.9,81.7 417.2,81.0 417.6,80.3 417.9,79.6 418.2,78.9 418.6,78.2 418.9,77.6 419.3,76.9 419.6,76.3 420,75.6 420.3,75.0 420.6,74.4 421,73.8 421.3,73.1 421.7,72.5 422,71.9 422.3,71.3 422.7,70.7 423,70.1 423.4,69.5 423.7,69.0 424,68.4 424.4,67.8 424.7,67.2 425.1,66.6 425.4,66.0 425.8,65.5 426.1,64.9 426.4,64.3 426.8,63.7 427.1,63.1 427.5,62.5 427.8,61.9 428.1,61.3 428.5,60.6 428.8,60.0 429.2,59.4 429.5,58.8 429.8,58.1 430.2,57.5 430.5,56.9 430.9,56.3 431.2,55.8 431.6,55.2 431.9,54.7 432.2,54.1 432.6,53.6 432.9,53.2 433.3,52.7 433.6,52.3 433.9,51.9 434.3,51.5 434.6,51.1 435,50.7 435.3,50.3 435.6,50.0 436,49.6 436.3,49.3 436.7,48.9 437,48.6 437.4,48.3 437.7,47.9 438,47.6 438.4,47.3 438.7,47.0 439.1,46.7 439.4,46.4 439.7,46.2 440.1,45.9 440.4,45.6 440.8,45.3 441.1,45.1 441.5,44.8 441.8,44.6 442.1,44.4 442.5,44.1 442.8,43.9 443.2,43.7 443.5,43.5 443.8,43.3 444.2,43.1 444.5,42.9 444.9,42.7 445.2,42.5 445.5,42.3 445.9,42.1 446.2,41.9 446.6,41.7 446.9,41.5 447.3,41.3 447.6,41.1 447.9,40.9 448.3,40.8 448.6,40.6 449,40.4 449.3,40.3 449.6,40.1 450,39.9 450.3,39.8 450.7,39.6 451,39.5 451.3,39.3 451.7,39.2 452,39.0 452.4,38.9 452.7,38.8 453.1,38.7 453.4,38.5 453.7,38.4 454.1,38.3 454.4,38.2 454.8,38.1 455.1,38.0 455.4,37.9 455.8,37.8 456.1,37.7 456.5,37.7 456.8,37.6 457.1,37.5 457.5,37.4 457.8,37.3 458.2,37.3 458.5,37.2 458.9,37.1 459.2,37.1 459.5,37.0 459.9,36.9 460.2,36.9 460.6,36.8 460.9,36.8 461.2,36.7 461.6,36.6 461.9,36.6 462.3,36.5 462.6,36.5 462.9,36.4 463.3,36.4 463.6,36.3 464,36.3 464.3,36.2 464.7,36.2 465,36.1 465.3,36.1 465.7,36.0 466,36.0 466.4,36.0 466.7,35.9 467,35.9 467.4,35.8 467.7,35.8 468.1,35.8 468.4,35.7 468.7,35.7 469.1,35.7 469.4,35.6 469.8,35.6 470.1,35.6 470.5,35.5 470.8,35.5 471.1,35.5 471.5,35.4 471.8,35.4 472.2,35.4 472.5,35.4 472.8,35.3 473.2,35.3 473.5,35.3 473.9,35.2 474.2,35.2 474.5,35.2 474.9,35.2 475.2,35.2 475.6,35.1 475.9,35.1 476.3,35.1 476.6,35.1 476.9,35.1 477.3,35.0" fill="none" stroke="#ff6a6a" stroke-width="1.0" stroke-linejoin="round" />
<polyline points="327.1,154.7 327.5,154.7 327.8,154.7 328.2,154.7 328.5,154.7 328.9,154.7 329.2,154.7 329.5,154.7 329.9,154.7 330.2,154.6 330.6,154.6 330.9,154.6 331.2,154.6 331.6,154.6 331.9,154.6 332.3,154.6 332.6,154.7 332.9,154.7 333.3,154.7 333.6,154.7 334,154.7 334.3,154.7 334.7,154.7 335,154.7 335.3,154.7 335.7,154.7 336,154.7 336.4,154.7 336.7,154.7 337,154.7 337.4,154.7 337.7,154.7 338.1,154.7 338.4,154.7 338.7,154.7 339.1,154.7 339.4,154.7 339.8,154.7 340.1,154.7 340.5,154.7 340.8,154.7 341.1,154.7 341.5,154.7 341.8,154.7 342.2,154.7 342.5,154.7 342.8,154.7 343.2,154.7 343.5,154.7 343.9,154.7 344.2,154.7 344.5,154.7 344.9,154.7 345.2,154.7 345.6,154.7 345.9,154.7 346.3,154.7 346.6,154.7 346.9,154.7 347.3,154.7 347.6,154.7 348,154.7 348.3,154.7 348.6,154.7 349,154.7 349.3,154.7 349.7,154.7 350,154.7 350.3,154.7 350.7,154.7 351,154.7 351.4,154.6 351.7,154.6 352.1,154.6 352.4,154.6 352.7,154.6 353.1,154.6 353.4,154.5 353.8,154.5 354.1,154.5 354.4,154.5 354.8,154.4 355.1,154.4 355.5,154.3 355.8,154.3 356.1,154.2 356.5,154.2 356.8,154.1 357.2,154.0 357.5,153.9 357.9,153.8 358.2,153.7 358.5,153.5 358.9,153.4 359.2,153.2 359.6,152.9 359.9,152.7 360.2,152.4 360.6,152.2 360.9,151.9 361.3,151.7 361.6,151.4 362,151.2 362.3,151.1 362.6,151.0 363,151.0 363.3,151.0 363.7,151.1 364,151.3 364.3,151.5 364.7,151.7 365,152.0 365.4,152.2 365.7,152.5 366,152.7 366.4,152.9 366.7,153.1 367.1,153.3 367.4,153.4 367.8,153.5 368.1,153.7 368.4,153.8 368.8,153.8 369.1,153.9 369.5,154.0 369.8,154.0 370.1,154.1 370.5,154.1 370.8,154.2 371.2,154.2 371.5,154.2 371.8,154.2 372.2,154.3 372.5,154.3 372.9,154.3 373.2,154.3 373.6,154.3 373.9,154.3 374.2,154.3 374.6,154.3 374.9,154.4 375.3,154.4 375.6,154.4 375.9,154.3 376.3,154.3 376.6,154.3 377,154.3 377.3,154.3 377.6,154.2 378,154.2 378.3,154.1 378.7,154.1 379,154.0 379.4,154.0 379.7,153.9 380,153.8 380.4,153.7 380.7,153.7 381.1,153.6 381.4,153.5 381.7,153.4 382.1,153.3 382.4,153.2 382.8,153.1 383.1,152.9 383.4,152.8 383.8,152.7 384.1,152.6 384.5,152.4 384.8,152.3 385.2,152.2 385.5,152.0 385.8,151.9 386.2,151.8 386.5,151.6 386.9,151.5 387.2,151.3 387.5,151.2 387.9,151.1 388.2,150.9 388.6,150.8 388.9,150.7 389.2,150.6 389.6,150.5 389.9,150.3 390.3,150.2 390.6,150.1 391,150.0 391.3,149.9 391.6,149.8 392,149.7 392.3,149.6 392.7,149.6 393,149.5 393.3,149.4 393.7,149.3 394,149.2 394.4,149.1 394.7,149.1 395,149.0 395.4,148.9 395.7,148.8 396.1,148.7 396.4,148.6 396.8,148.5 397.1,148.4 397.4,148.3 397.8,148.2 398.1,148.1 398.5,148.0 398.8,147.9 399.1,147.8 399.5,147.7 399.8,147.5 400.2,147.4 400.5,147.3 400.8,147.1 401.2,147.0 401.5,146.8 401.9,146.7 402.2,146.5 402.6,146.4 402.9,146.2 403.2,146.1 403.6,145.9 403.9,145.8 404.3,145.6 404.6,145.4 404.9,145.3 405.3,145.1 405.6,145.0 406,144.8 406.3,144.7 406.6,144.5 407,144.4 407.3,144.2 407.7,144.1 408,144.0 408.4,143.8 408.7,143.7 409,143.6 409.4,143.5 409.7,143.4 410.1,143.3 410.4,143.2 410.7,143.1 411.1,143.0 411.4,142.9 411.8,142.8 412.1,142.7 412.4,142.7 412.8,142.6 413.1,142.6 413.5,142.5 413.8,142.5 414.2,142.5 414.5,142.4 414.8,142.4 415.2,142.4 415.5,142.4 415.9,142.4 416.2,142.4 416.5,142.4 416.9,142.4 417.2,142.5 417.6,142.5 417.9,142.5 418.2,142.6 418.6,142.6 418.9,142.7 419.3,142.8 419.6,142.8 420,142.9 420.3,143.0 420.6,143.1 421,143.1 421.3,143.2 421.7,143.3 422,143.4 422.3,143.5 422.7,143.7 423,143.8 423.4,143.9 423.7,144.0 424,144.1 424.4,144.3 424.7,144.4 425.1,144.5 425.4,144.7 425.8,144.8 426.1,145.0 426.4,145.1 426.8,145.3 427.1,145.4 427.5,145.5 427.8,145.7 428.1,145.9 428.5,146.0 428.8,146.2 429.2,146.3 429.5,146.5 429.8,146.6 430.2,146.8 430.5,146.9 430.9,147.1 431.2,147.3 431.6,147.4 431.9,147.6 432.2,147.7 432.6,147.9 432.9,148.0 433.3,148.2 433.6,148.3 433.9,148.5 434.3,148.6 434.6,148.8 435,148.9 435.3,149.1 435.6,149.2 436,149.4 436.3,149.5 436.7,149.7 437,149.8 437.4,149.9 437.7,150.1 438,150.2 438.4,150.3 438.7,150.5 439.1,150.6 439.4,150.7 439.7,150.8 440.1,151.0 440.4,151.1 440.8,151.2 441.1,151.3 441.5,151.4 441.8,151.5 442.1,151.6 442.5,151.7 442.8,151.8 443.2,151.9 443.5,152.0 443.8,152.1 444.2,152.2 444.5,152.3 444.9,152.4 445.2,152.5 445.5,152.6 445.9,152.6 446.2,152.7 446.6,152.8 446.9,152.9 447.3,153.0 447.6,153.0 447.9,153.1 448.3,153.2 448.6,153.2 449,153.3 449.3,153.3 449.6,153.4 450,153.5 450.3,153.5 450.7,153.6 451,153.6 451.3,153.7 451.7,153.7 452,153.8 452.4,153.8 452.7,153.8 453.1,153.9 453.4,153.9 453.7,154.0 454.1,154.0 454.4,154.0 454.8,154.1 455.1,154.1 455.4,154.1 455.8,154.2 456.1,154.2 456.5,154.2 456.8,154.2 457.1,154.3 457.5,154.3 457.8,154.3 458.2,154.3 458.5,154.4 458.9,154.4 459.2,154.4 459.5,154.4 459.9,154.4 460.2,154.4 460.6,154.5 460.9,154.5 461.2,154.5 461.6,154.5 461.9,154.5 462.3,154.5 462.6,154.5 462.9,154.5 463.3,154.6 463.6,154.6 464,154.6 464.3,154.6 464.7,154.6 465,154.6 465.3,154.6 465.7,154.6 466,154.6 466.4,154.6 466.7,154.6 467,154.6 467.4,154.6 467.7,154.6 468.1,154.6 468.4,154.6 468.7,154.7 469.1,154.7 469.4,154.7 469.8,154.7 470.1,154.7 470.5,154.7 470.8,154.7 471.1,154.7 471.5,154.7 471.8,154.7 472.2,154.7 472.5,154.7 472.8,154.7 473.2,154.7 473.5,154.7 473.9,154.7 474.2,154.7 474.5,154.7 474.9,154.7 475.2,154.7 475.6,154.7 475.9,154.7 476.3,154.7 476.6,154.7 476.9,154.7 477.3,154.7" fill="none" stroke="#000000" stroke-width="2.0" stroke-linejoin="round" />
<polyline points="327.1,154.7 327.5,154.7 327.8,154.7 328.2,154.7 328.5,154.6 328.9,154.6 329.2,154.6 329.5,154.6 329.9,154.6 330.2,154.6 330.6,154.6 330.9,154.6 331.2,154.6 331.6,154.6 331.9,154.6 332.3,154.6 332.6,154.6 332.9,154.6 333.3,154.6 333.6,154.6 334,154.6 334.3,154.7 334.7,154.7 335,154.7 335.3,154.7 335.7,154.7 336,154.7 336.4,154.7 336.7,154.7 337,154.7 337.4,154.7 337.7,154.7 338.1,154.7 338.4,154.7 338.7,154.7 339.1,154.7 339.4,154.7 339.8,154.7 340.1,154.7 340.5,154.7 340.8,154.7 341.1,154.7 341.5,154.7 341.8,154.7 342.2,154.7 342.5,154.7 342.8,154.7 343.2,154.7 343.5,154.7 343.9,154.7 344.2,154.7 344.5,154.7 344.9,154.7 345.2,154.7 345.6,154.7 345.9,154.7 346.3,154.7 346.6,154.7 346.9,154.7 347.3,154.7 347.6,154.7 348,154.7 348.3,154.7 348.6,154.7 349,154.7 349.3,154.7 349.7,154.7 350,154.6 350.3,154.6 350.7,154.6 351,154.6 351.4,154.6 351.7,154.5 352.1,154.5 352.4,154.5 352.7,154.4 353.1,154.4 353.4,154.3 353.8,154.3 354.1,154.2 354.4,154.1 354.8,154.0 355.1,153.9 355.5,153.8 355.8,153.7 356.1,153.6 356.5,153.4 356.8,153.2 357.2,153.1 357.5,152.8 357.9,152.6 358.2,152.3 358.5,151.9 358.9,151.5 359.2,151.0 359.6,150.5 359.9,149.9 360.2,149.3 360.6,148.7 360.9,148.1 361.3,147.5 361.6,146.9 362,146.4 362.3,146.1 362.6,145.9 363,145.9 363.3,146.0 363.7,146.2 364,146.6 364.3,147.0 364.7,147.6 365,148.2 365.4,148.8 365.7,149.3 366,149.9 366.4,150.4 366.7,150.9 367.1,151.3 367.4,151.6 367.8,151.9 368.1,152.2 368.4,152.4 368.8,152.6 369.1,152.8 369.5,153.0 369.8,153.1 370.1,153.2 370.5,153.3 370.8,153.4 371.2,153.5 371.5,153.5 371.8,153.6 372.2,153.6 372.5,153.7 372.9,153.7 373.2,153.7 373.6,153.8 373.9,153.8 374.2,153.8 374.6,153.9 374.9,153.9 375.3,153.9 375.6,153.9 375.9,153.8 376.3,153.8 376.6,153.8 377,153.7 377.3,153.6 377.6,153.6 378,153.5 378.3,153.3 378.7,153.2 379,153.1 379.4,152.9 379.7,152.8 380,152.6 380.4,152.4 380.7,152.2 381.1,152.0 381.4,151.8 381.7,151.6 382.1,151.3 382.4,151.1 382.8,150.8 383.1,150.5 383.4,150.2 383.8,149.9 384.1,149.6 384.5,149.3 384.8,149.0 385.2,148.7 385.5,148.4 385.8,148.0 386.2,147.7 386.5,147.4 386.9,147.0 387.2,146.7 387.5,146.4 387.9,146.1 388.2,145.8 388.6,145.4 388.9,145.1 389.2,144.9 389.6,144.6 389.9,144.3 390.3,144.0 390.6,143.8 391,143.5 391.3,143.3 391.6,143.1 392,142.8 392.3,142.6 392.7,142.4 393,142.2 393.3,142.0 393.7,141.8 394,141.6 394.4,141.4 394.7,141.2 395,141.0 395.4,140.8 395.7,140.6 396.1,140.4 396.4,140.2 396.8,140.0 397.1,139.8 397.4,139.5 397.8,139.3 398.1,139.0 398.5,138.8 398.8,138.5 399.1,138.2 399.5,137.9 399.8,137.6 400.2,137.3 400.5,137.0 400.8,136.6 401.2,136.3 401.5,136.0 401.9,135.6 402.2,135.2 402.6,134.9 402.9,134.5 403.2,134.1 403.6,133.8 403.9,133.4 404.3,133.0 404.6,132.6 404.9,132.3 405.3,131.9 405.6,131.5 406,131.2 406.3,130.8 406.6,130.4 407,130.1 407.3,129.8 407.7,129.4 408,129.1 408.4,128.8 408.7,128.5 409,128.2 409.4,127.9 409.7,127.7 410.1,127.4 410.4,127.2 410.7,127.0 411.1,126.7 411.4,126.5 411.8,126.4 412.1,126.2 412.4,126.0 412.8,125.9 413.1,125.8 413.5,125.7 413.8,125.6 414.2,125.5 414.5,125.4 414.8,125.4 415.2,125.4 415.5,125.4 415.9,125.4 416.2,125.4 416.5,125.4 416.9,125.5 417.2,125.5 417.6,125.6 417.9,125.7 418.2,125.8 418.6,125.9 418.9,126.1 419.3,126.2 419.6,126.4 420,126.6 420.3,126.7 420.6,126.9 421,127.2 421.3,127.4 421.7,127.6 422,127.9 422.3,128.1 422.7,128.4 423,128.6 423.4,128.9 423.7,129.2 424,129.5 424.4,129.8 424.7,130.1 425.1,130.5 425.4,130.8 425.8,131.1 426.1,131.5 426.4,131.8 426.8,132.2 427.1,132.5 427.5,132.9 427.8,133.2 428.1,133.6 428.5,134.0 428.8,134.3 429.2,134.7 429.5,135.1 429.8,135.5 430.2,135.8 430.5,136.2 430.9,136.6 431.2,137.0 431.6,137.3 431.9,137.7 432.2,138.1 432.6,138.4 432.9,138.8 433.3,139.2 433.6,139.5 433.9,139.9 434.3,140.3 434.6,140.6 435,141.0 435.3,141.3 435.6,141.7 436,142.0 436.3,142.3 436.7,142.7 437,143.0 437.4,143.3 437.7,143.7 438,144.0 438.4,144.3 438.7,144.6 439.1,144.9 439.4,145.2 439.7,145.5 440.1,145.8 440.4,146.0 440.8,146.3 441.1,146.6 441.5,146.9 441.8,147.1 442.1,147.4 442.5,147.6 442.8,147.9 443.2,148.1 443.5,148.3 443.8,148.6 444.2,148.8 444.5,149.0 444.9,149.2 445.2,149.4 445.5,149.6 445.9,149.8 446.2,150.0 446.6,150.2 446.9,150.4 447.3,150.5 447.6,150.7 447.9,150.9 448.3,151.0 448.6,151.2 449,151.3 449.3,151.5 449.6,151.6 450,151.7 450.3,151.9 450.7,152.0 451,152.1 451.3,152.2 451.7,152.4 452,152.5 452.4,152.6 452.7,152.7 453.1,152.8 453.4,152.9 453.7,152.9 454.1,153.0 454.4,153.1 454.8,153.2 455.1,153.3 455.4,153.3 455.8,153.4 456.1,153.5 456.5,153.5 456.8,153.6 457.1,153.7 457.5,153.7 457.8,153.8 458.2,153.8 458.5,153.9 458.9,153.9 459.2,154.0 459.5,154.0 459.9,154.0 460.2,154.1 460.6,154.1 460.9,154.2 461.2,154.2 461.6,154.2 461.9,154.2 462.3,154.3 462.6,154.3 462.9,154.3 463.3,154.3 463.6,154.4 464,154.4 464.3,154.4 464.7,154.4 465,154.4 465.3,154.5 465.7,154.5 466,154.5 466.4,154.5 466.7,154.5 467,154.5 467.4,154.5 467.7,154.6 468.1,154.6 468.4,154.6 468.7,154.6 469.1,154.6 469.4,154.6 469.8,154.6 470.1,154.6 470.5,154.6 470.8,154.6 471.1,154.6 471.5,154.6 471.8,154.6 472.2,154.6 472.5,154.6 472.8,154.7 473.2,154.7 473.5,154.7 473.9,154.7 474.2,154.7 474.5,154.7 474.9,154.7 475.2,154.7 475.6,154.7 475.9,154.7 476.3,154.7 476.6,154.7 476.9,154.7 477.3,154.7" fill="none" stroke="#0000ff" stroke-width="2.0" stroke-linejoin="round" />
<polyline points="327.1,154.7 327.5,154.6 327.8,154.6 328.2,154.6 328.5,154.6 328.9,154.6 329.2,154.5 329.5,154.5 329.9,154.5 330.2,154.5 330.6,154.4 330.9,154.4 331.2,154.4 331.6,154.4 331.9,154.4 332.3,154.5 332.6,154.5 332.9,154.5 333.3,154.5 333.6,154.6 334,154.6 334.3,154.6 334.7,154.6 335,154.6 335.3,154.7 335.7,154.7 336,154.7 336.4,154.7 336.7,154.7 337,154.7 337.4,154.7 337.7,154.7 338.1,154.7 338.4,154.7 338.7,154.7 339.1,154.7 339.4,154.7 339.8,154.7 340.1,154.7 340.5,154.7 340.8,154.7 341.1,154.7 341.5,154.7 341.8,154.7 342.2,154.7 342.5,154.7 342.8,154.7 343.2,154.7 343.5,154.7 343.9,154.7 344.2,154.7 344.5,154.7 344.9,154.7 345.2,154.7 345.6,154.7 345.9,154.7 346.3,154.7 346.6,154.7 346.9,154.7 347.3,154.7 347.6,154.7 348,154.7 348.3,154.7 348.6,154.7 349,154.6 349.3,154.6 349.7,154.6 350,154.6 350.3,154.6 350.7,154.5 351,154.5 351.4,154.4 351.7,154.4 352.1,154.3 352.4,154.3 352.7,154.2 353.1,154.1 353.4,154.0 353.8,153.8 354.1,153.7 354.4,153.5 354.8,153.4 355.1,153.2 355.5,153.0 355.8,152.7 356.1,152.4 356.5,152.1 356.8,151.8 357.2,151.4 357.5,150.9 357.9,150.4 358.2,149.8 358.5,149.1 358.9,148.2 359.2,147.3 359.6,146.3 359.9,145.1 360.2,143.9 360.6,142.6 360.9,141.3 361.3,140.1 361.6,139.0 362,138.1 362.3,137.4 362.6,137.0 363,136.9 363.3,137.1 363.7,137.6 364,138.3 364.3,139.3 364.7,140.4 365,141.5 365.4,142.7 365.7,143.9 366,145.0 366.4,146.0 366.7,147.0 367.1,147.8 367.4,148.5 367.8,149.1 368.1,149.7 368.4,150.1 368.8,150.5 369.1,150.9 369.5,151.2 369.8,151.5 370.1,151.7 370.5,151.9 370.8,152.1 371.2,152.3 371.5,152.4 371.8,152.5 372.2,152.6 372.5,152.6 372.9,152.7 373.2,152.8 373.6,152.8 373.9,152.9 374.2,152.9 374.6,153.0 374.9,153.0 375.3,153.0 375.6,153.0 375.9,153.0 376.3,152.9 376.6,152.8 377,152.7 377.3,152.6 377.6,152.4 378,152.2 378.3,152.0 378.7,151.7 379,151.4 379.4,151.1 379.7,150.8 380,150.5 380.4,150.1 380.7,149.7 381.1,149.3 381.4,148.8 381.7,148.4 382.1,147.9 382.4,147.4 382.8,146.8 383.1,146.3 383.4,145.7 383.8,145.1 384.1,144.5 384.5,143.9 384.8,143.2 385.2,142.6 385.5,141.9 385.8,141.2 386.2,140.6 386.5,139.9 386.9,139.3 387.2,138.6 387.5,137.9 387.9,137.3 388.2,136.7 388.6,136.0 388.9,135.4 389.2,134.9 389.6,134.3 389.9,133.7 390.3,133.2 390.6,132.7 391,132.2 391.3,131.7 391.6,131.2 392,130.8 392.3,130.4 392.7,129.9 393,129.5 393.3,129.1 393.7,128.7 394,128.3 394.4,128.0 394.7,127.6 395,127.2 395.4,126.8 395.7,126.4 396.1,125.9 396.4,125.5 396.8,125.1 397.1,124.6 397.4,124.1 397.8,123.6 398.1,123.1 398.5,122.6 398.8,122.0 399.1,121.5 399.5,120.9 399.8,120.2 400.2,119.6 400.5,119.0 400.8,118.3 401.2,117.6 401.5,116.9 401.9,116.2 402.2,115.5 402.6,114.7 402.9,114.0 403.2,113.2 403.6,112.5 403.9,111.7 404.3,111.0 404.6,110.2 404.9,109.5 405.3,108.7 405.6,108.0 406,107.2 406.3,106.5 406.6,105.8 407,105.1 407.3,104.4 407.7,103.8 408,103.1 408.4,102.5 408.7,101.9 409,101.3 409.4,100.7 409.7,100.2 410.1,99.7 410.4,99.2 410.7,98.8 411.1,98.3 411.4,97.9 411.8,97.6 412.1,97.2 412.4,96.9 412.8,96.6 413.1,96.4 413.5,96.2 413.8,96.0 414.2,95.8 414.5,95.7 414.8,95.6 415.2,95.6 415.5,95.5 415.9,95.6 416.2,95.6 416.5,95.7 416.9,95.8 417.2,95.9 417.6,96.0 417.9,96.2 418.2,96.4 418.6,96.7 418.9,97.0 419.3,97.3 419.6,97.6 420,97.9 420.3,98.3 420.6,98.7 421,99.2 421.3,99.6 421.7,100.1 422,100.6 422.3,101.1 422.7,101.6 423,102.2 423.4,102.7 423.7,103.3 424,103.9 424.4,104.6 424.7,105.2 425.1,105.8 425.4,106.5 425.8,107.2 426.1,107.9 426.4,108.6 426.8,109.3 427.1,110.0 427.5,110.7 427.8,111.4 428.1,112.2 428.5,112.9 428.8,113.7 429.2,114.4 429.5,115.1 429.8,115.9 430.2,116.7 430.5,117.4 430.9,118.2 431.2,118.9 431.6,119.7 431.9,120.4 432.2,121.2 432.6,121.9 432.9,122.7 433.3,123.4 433.6,124.1 433.9,124.9 434.3,125.6 434.6,126.3 435,127.0 435.3,127.7 435.6,128.4 436,129.1 436.3,129.8 436.7,130.5 437,131.1 437.4,131.8 437.7,132.4 438,133.1 438.4,133.7 438.7,134.3 439.1,134.9 439.4,135.5 439.7,136.1 440.1,136.7 440.4,137.3 440.8,137.8 441.1,138.4 441.5,138.9 441.8,139.4 442.1,139.9 442.5,140.4 442.8,140.9 443.2,141.4 443.5,141.9 443.8,142.3 444.2,142.8 444.5,143.2 444.9,143.6 445.2,144.0 445.5,144.4 445.9,144.8 446.2,145.2 446.6,145.6 446.9,146.0 447.3,146.3 447.6,146.6 447.9,147.0 448.3,147.3 448.6,147.6 449,147.9 449.3,148.2 449.6,148.5 450,148.7 450.3,149.0 450.7,149.3 451,149.5 451.3,149.7 451.7,150.0 452,150.2 452.4,150.4 452.7,150.6 453.1,150.8 453.4,151.0 453.7,151.2 454.1,151.3 454.4,151.5 454.8,151.7 455.1,151.8 455.4,152.0 455.8,152.1 456.1,152.2 456.5,152.4 456.8,152.5 457.1,152.6 457.5,152.7 457.8,152.8 458.2,152.9 458.5,153.0 458.9,153.1 459.2,153.2 459.5,153.3 459.9,153.4 460.2,153.5 460.6,153.5 460.9,153.6 461.2,153.7 461.6,153.7 461.9,153.8 462.3,153.8 462.6,153.9 462.9,153.9 463.3,154.0 463.6,154.0 464,154.1 464.3,154.1 464.7,154.1 465,154.2 465.3,154.2 465.7,154.2 466,154.3 466.4,154.3 466.7,154.3 467,154.4 467.4,154.4 467.7,154.4 468.1,154.4 468.4,154.4 468.7,154.5 469.1,154.5 469.4,154.5 469.8,154.5 470.1,154.5 470.5,154.5 470.8,154.5 471.1,154.6 471.5,154.6 471.8,154.6 472.2,154.6 472.5,154.6 472.8,154.6 473.2,154.6 473.5,154.6 473.9,154.6 474.2,154.6 474.5,154.6 474.9,154.7 475.2,154.7 475.6,154.7 475.9,154.7 476.3,154.7 476.6,154.7 476.9,154.7 477.3,154.7" fill="none" stroke="#008000" stroke-width="2.0" stroke-linejoin="round" />
<polyline points="327.1,154.6 327.5,154.6 327.8,154.6 328.2,154.5 328.5,154.5 328.9,154.4 329.2,154.4 329.5,154.3 329.9,154.3 330.2,154.2 330.6,154.2 330.9,154.1 331.2,154.1 331.6,154.1 331.9,154.2 332.3,154.2 332.6,154.2 332.9,154.3 333.3,154.4 333.6,154.4 334,154.5 334.3,154.5 334.7,154.6 335,154.6 335.3,154.6 335.7,154.6 336,154.7 336.4,154.7 336.7,154.7 337,154.7 337.4,154.7 337.7,154.7 338.1,154.7 338.4,154.7 338.7,154.7 339.1,154.7 339.4,154.7 339.8,154.7 340.1,154.7 340.5,154.7 340.8,154.7 341.1,154.7 341.5,154.7 341.8,154.7 342.2,154.7 342.5,154.7 342.8,154.7 343.2,154.7 343.5,154.7 343.9,154.7 344.2,154.7 344.5,154.7 344.9,154.7 345.2,154.7 345.6,154.7 345.9,154.7 346.3,154.7 346.6,154.7 346.9,154.7 347.3,154.7 347.6,154.7 348,154.6 348.3,154.6 348.6,154.6 349,154.6 349.3,154.6 349.7,154.5 350,154.5 350.3,154.4 350.7,154.4 351,154.3 351.4,154.2 351.7,154.1 352.1,154.0 352.4,153.8 352.7,153.7 353.1,153.5 353.4,153.2 353.8,153.0 354.1,152.7 354.4,152.4 354.8,152.0 355.1,151.6 355.5,151.2 355.8,150.7 356.1,150.2 356.5,149.5 356.8,148.9 357.2,148.1 357.5,147.1 357.9,146.1 358.2,144.9 358.5,143.4 358.9,141.8 359.2,139.9 359.6,137.8 359.9,135.5 360.2,133.1 360.6,130.5 360.9,127.9 361.3,125.5 361.6,123.3 362,121.4 362.3,120.0 362.6,119.2 363,119.0 363.3,119.4 363.7,120.4 364,121.9 364.3,123.8 364.7,126.0 365,128.4 365.4,130.8 365.7,133.1 366,135.3 366.4,137.4 366.7,139.2 367.1,140.9 367.4,142.3 367.8,143.5 368.1,144.6 368.4,145.6 368.8,146.4 369.1,147.1 369.5,147.7 369.8,148.3 370.1,148.8 370.5,149.2 370.8,149.5 371.2,149.8 371.5,150.0 371.8,150.2 372.2,150.4 372.5,150.6 372.9,150.7 373.2,150.8 373.6,151.0 373.9,151.1 374.2,151.2 374.6,151.3 374.9,151.3 375.3,151.4 375.6,151.3 375.9,151.3 376.3,151.1 376.6,151.0 377,150.7 377.3,150.4 377.6,150.1 378,149.7 378.3,149.2 378.7,148.7 379,148.2 379.4,147.6 379.7,146.9 380,146.2 380.4,145.5 380.7,144.7 381.1,143.9 381.4,143.0 381.7,142.0 382.1,141.0 382.4,140.0 382.8,138.9 383.1,137.8 383.4,136.7 383.8,135.5 384.1,134.3 384.5,133.0 384.8,131.7 385.2,130.4 385.5,129.1 385.8,127.8 386.2,126.5 386.5,125.1 386.9,123.8 387.2,122.5 387.5,121.2 387.9,119.9 388.2,118.6 388.6,117.4 388.9,116.2 389.2,115.0 389.6,113.9 389.9,112.8 390.3,111.7 390.6,110.7 391,109.7 391.3,108.7 391.6,107.8 392,106.9 392.3,106.0 392.7,105.2 393,104.4 393.3,103.6 393.7,102.8 394,102.0 394.4,101.2 394.7,100.4 395,99.6 395.4,98.8 395.7,98.0 396.1,97.2 396.4,96.3 396.8,95.4 397.1,94.5 397.4,93.6 397.8,92.6 398.1,91.5 398.5,90.5 398.8,89.4 399.1,88.2 399.5,87.0 399.8,85.8 400.2,84.5 400.5,83.2 400.8,81.9 401.2,80.5 401.5,79.1 401.9,77.7 402.2,76.2 402.6,74.8 402.9,73.3 403.2,71.8 403.6,70.3 403.9,68.7 404.3,67.2 404.6,65.7 404.9,64.2 405.3,62.7 405.6,61.2 406,59.8 406.3,58.3 406.6,56.9 407,55.5 407.3,54.2 407.7,52.8 408,51.5 408.4,50.3 408.7,49.1 409,47.9 409.4,46.8 409.7,45.7 410.1,44.7 410.4,43.7 410.7,42.8 411.1,42.0 411.4,41.2 411.8,40.5 412.1,39.8 412.4,39.2 412.8,38.6 413.1,38.1 413.5,37.7 413.8,37.3 414.2,37.0 414.5,36.7 414.8,36.6 415.2,36.5 415.5,36.4 415.9,36.4 416.2,36.5 416.5,36.6 416.9,36.8 417.2,37.1 417.6,37.4 417.9,37.8 418.2,38.2 418.6,38.7 418.9,39.2 419.3,39.8 419.6,40.5 420,41.2 420.3,42.0 420.6,42.8 421,43.6 421.3,44.5 421.7,45.5 422,46.4 422.3,47.5 422.7,48.5 423,49.7 423.4,50.8 423.7,52.0 424,53.2 424.4,54.4 424.7,55.7 425.1,57.0 425.4,58.3 425.8,59.7 426.1,61.0 426.4,62.4 426.8,63.8 427.1,65.3 427.5,66.7 427.8,68.2 428.1,69.6 428.5,71.1 428.8,72.6 429.2,74.1 429.5,75.6 429.8,77.1 430.2,78.6 430.5,80.1 430.9,81.6 431.2,83.1 431.6,84.6 431.9,86.1 432.2,87.6 432.6,89.1 432.9,90.6 433.3,92.1 433.6,93.6 433.9,95.0 434.3,96.5 434.6,97.9 435,99.3 435.3,100.7 435.6,102.1 436,103.5 436.3,104.9 436.7,106.2 437,107.6 437.4,108.9 437.7,110.2 438,111.4 438.4,112.7 438.7,113.9 439.1,115.2 439.4,116.3 439.7,117.5 440.1,118.7 440.4,119.8 440.8,120.9 441.1,122.0 441.5,123.1 441.8,124.1 442.1,125.2 442.5,126.2 442.8,127.1 443.2,128.1 443.5,129.0 443.8,130.0 444.2,130.8 444.5,131.7 444.9,132.6 445.2,133.4 445.5,134.2 445.9,135.0 446.2,135.7 446.6,136.5 446.9,137.2 447.3,137.9 447.6,138.6 447.9,139.2 448.3,139.9 448.6,140.5 449,141.1 449.3,141.7 449.6,142.2 450,142.8 450.3,143.3 450.7,143.8 451,144.3 451.3,144.8 451.7,145.2 452,145.7 452.4,146.1 452.7,146.5 453.1,146.9 453.4,147.3 453.7,147.6 454.1,148.0 454.4,148.3 454.8,148.6 455.1,148.9 455.4,149.2 455.8,149.5 456.1,149.8 456.5,150.0 456.8,150.3 457.1,150.5 457.5,150.7 457.8,151.0 458.2,151.2 458.5,151.4 458.9,151.5 459.2,151.7 459.5,151.9 459.9,152.0 460.2,152.2 460.6,152.3 460.9,152.5 461.2,152.6 461.6,152.7 461.9,152.9 462.3,153.0 462.6,153.1 462.9,153.2 463.3,153.3 463.6,153.4 464,153.4 464.3,153.5 464.7,153.6 465,153.7 465.3,153.7 465.7,153.8 466,153.9 466.4,153.9 466.7,154.0 467,154.0 467.4,154.1 467.7,154.1 468.1,154.1 468.4,154.2 468.7,154.2 469.1,154.3 469.4,154.3 469.8,154.3 470.1,154.3 470.5,154.4 470.8,154.4 471.1,154.4 471.5,154.4 471.8,154.5 472.2,154.5 472.5,154.5 472.8,154.5 473.2,154.5 473.5,154.5 473.9,154.5 474.2,154.6 474.5,154.6 474.9,154.6 475.2,154.6 475.6,154.6 475.9,154.7 476.3,154.7 476.6,154.7 476.9,154.7 477.3,154.7" fill="none" stroke="#ff0000" stroke-width="2.0" stroke-linejoin="round" />
<rect x="313.5" y="18.2" width="170.6" height="136.5" fill="none" stroke="#000" stroke-width="1.1"/>
<line x1="313.5" y1="154.7" x2="313.5" y2="157.3" stroke="#000" stroke-width="1.1"/>
<line x1="313.5" y1="18.2" x2="313.5" y2="15.6" stroke="#000" stroke-width="1.1"/>
<line x1="347.62" y1="154.7" x2="347.62" y2="157.3" stroke="#000" stroke-width="1.1"/>
<line x1="347.62" y1="18.2" x2="347.62" y2="15.6" stroke="#000" stroke-width="1.1"/>
<line x1="381.74" y1="154.7" x2="381.74" y2="157.3" stroke="#000" stroke-width="1.1"/>
<line x1="381.74" y1="18.2" x2="381.74" y2="15.6" stroke="#000" stroke-width="1.1"/>
<line x1="415.86" y1="154.7" x2="415.86" y2="157.3" stroke="#000" stroke-width="1.1"/>
<line x1="415.86" y1="18.2" x2="415.86" y2="15.6" stroke="#000" stroke-width="1.1"/>
<line x1="449.98" y1="154.7" x2="449.98" y2="157.3" stroke="#000" stroke-width="1.1"/>
<line x1="449.98" y1="18.2" x2="449.98" y2="15.6" stroke="#000" stroke-width="1.1"/>
<line x1="484.1" y1="154.7" x2="484.1" y2="157.3" stroke="#000" stroke-width="1.1"/>
<line x1="484.1" y1="18.2" x2="484.1" y2="15.6" stroke="#000" stroke-width="1.1"/>
<line x1="330.56" y1="154.7" x2="330.56" y2="156.2" stroke="#000" stroke-width="1.1"/>
<line x1="330.56" y1="18.2" x2="330.56" y2="16.7" stroke="#000" stroke-width="1.1"/>
<line x1="364.68" y1="154.7" x2="364.68" y2="156.2" stroke="#000" stroke-width="1.1"/>
<line x1="364.68" y1="18.2" x2="364.68" y2="16.7" stroke="#000" stroke-width="1.1"/>
<line x1="398.8" y1="154.7" x2="398.8" y2="156.2" stroke="#000" stroke-width="1.1"/>
<line x1="398.8" y1="18.2" x2="398.8" y2="16.7" stroke="#000" stroke-width="1.1"/>
<line x1="432.92" y1="154.7" x2="432.92" y2="156.2" stroke="#000" stroke-width="1.1"/>
<line x1="432.92" y1="18.2" x2="432.92" y2="16.7" stroke="#000" stroke-width="1.1"/>
<line x1="467.04" y1="154.7" x2="467.04" y2="156.2" stroke="#000" stroke-width="1.1"/>
<line x1="467.04" y1="18.2" x2="467.04" y2="16.7" stroke="#000" stroke-width="1.1"/>
<line x1="313.5" y1="154.7" x2="310.9" y2="154.7" stroke="#000" stroke-width="1.1"/>
<line x1="313.5" y1="109.2" x2="310.9" y2="109.2" stroke="#000" stroke-width="1.1"/>
<line x1="313.5" y1="63.7" x2="310.9" y2="63.7" stroke="#000" stroke-width="1.1"/>
<line x1="313.5" y1="18.2" x2="310.9" y2="18.2" stroke="#000" stroke-width="1.1"/>
<line x1="313.5" y1="131.95" x2="312" y2="131.95" stroke="#000" stroke-width="1.1"/>
<line x1="313.5" y1="86.45" x2="312" y2="86.45" stroke="#000" stroke-width="1.1"/>
<line x1="313.5" y1="40.95" x2="312" y2="40.95" stroke="#000" stroke-width="1.1"/>
<line x1="484.1" y1="154.7" x2="486.7" y2="154.7" stroke="#000" stroke-width="1.1"/>
<line x1="484.1" y1="131.95" x2="486.7" y2="131.95" stroke="#000" stroke-width="1.1"/>
<line x1="484.1" y1="109.2" x2="486.7" y2="109.2" stroke="#000" stroke-width="1.1"/>
<line x1="484.1" y1="86.45" x2="486.7" y2="86.45" stroke="#000" stroke-width="1.1"/>
<line x1="484.1" y1="63.7" x2="486.7" y2="63.7" stroke="#000" stroke-width="1.1"/>
<line x1="484.1" y1="40.95" x2="486.7" y2="40.95" stroke="#000" stroke-width="1.1"/>
<line x1="484.1" y1="18.2" x2="486.7" y2="18.2" stroke="#000" stroke-width="1.1"/>
<line x1="484.1" y1="143.32" x2="485.6" y2="143.32" stroke="#000" stroke-width="1.1"/>
<line x1="484.1" y1="120.57" x2="485.6" y2="120.57" stroke="#000" stroke-width="1.1"/>
<line x1="484.1" y1="97.82" x2="485.6" y2="97.82" stroke="#000" stroke-width="1.1"/>
<line x1="484.1" y1="75.07" x2="485.6" y2="75.07" stroke="#000" stroke-width="1.1"/>
<line x1="484.1" y1="52.32" x2="485.6" y2="52.32" stroke="#000" stroke-width="1.1"/>
<line x1="484.1" y1="29.57" x2="485.6" y2="29.57" stroke="#000" stroke-width="1.1"/>
<text x="313.5" y="165.8" font-size="8.8" text-anchor="middle" font-weight="bold" >300</text>
<text x="347.62" y="165.8" font-size="8.8" text-anchor="middle" font-weight="bold" >400</text>
<text x="381.74" y="165.8" font-size="8.8" text-anchor="middle" font-weight="bold" >500</text>
<text x="415.86" y="165.8" font-size="8.8" text-anchor="middle" font-weight="bold" >600</text>
<text x="449.98" y="165.8" font-size="8.8" text-anchor="middle" font-weight="bold" >700</text>
<text x="484.1" y="165.8" font-size="8.8" text-anchor="middle" font-weight="bold" >800</text>
<text x="309.6" y="157.7" font-size="8.8" text-anchor="end" font-weight="bold" >0.0</text>
<text x="309.6" y="112.2" font-size="8.8" text-anchor="end" font-weight="bold" >0.5</text>
<text x="309.6" y="66.7" font-size="8.8" text-anchor="end" font-weight="bold" >1.0</text>
<text x="309.6" y="21.2" font-size="8.8" text-anchor="end" font-weight="bold" >1.5</text>
<text x="488.9" y="157.7" font-size="8.8" text-anchor="start" font-weight="bold" >0</text>
<text x="488.9" y="134.95" font-size="8.8" text-anchor="start" font-weight="bold" >50</text>
<text x="488.9" y="112.2" font-size="8.8" text-anchor="start" font-weight="bold" >100</text>
<text x="488.9" y="89.45" font-size="8.8" text-anchor="start" font-weight="bold" >150</text>
<text x="488.9" y="66.7" font-size="8.8" text-anchor="start" font-weight="bold" >200</text>
<text x="488.9" y="43.95" font-size="8.8" text-anchor="start" font-weight="bold" >250</text>
<text x="488.9" y="21.2" font-size="8.8" text-anchor="start" font-weight="bold" >300</text>
<text x="317.7" y="29.3" font-size="9.0" text-anchor="start" font-weight="bold" >Lamp Intensity (lux)</text>
<line x1="319.7" y1="37.9" x2="339.5" y2="37.9" stroke="#000000" stroke-width="1.6"/>
<text x="343.5" y="40.7" font-size="8.0" text-anchor="start" font-weight="bold" >200</text>
<line x1="319.7" y1="48.07" x2="339.5" y2="48.07" stroke="#0000ff" stroke-width="1.6"/>
<text x="343.5" y="50.87" font-size="8.0" text-anchor="start" font-weight="bold" >500</text>
<line x1="319.7" y1="58.24" x2="339.5" y2="58.24" stroke="#008000" stroke-width="1.6"/>
<text x="343.5" y="61.04" font-size="8.0" text-anchor="start" font-weight="bold" >1000</text>
<line x1="319.7" y1="68.41" x2="339.5" y2="68.41" stroke="#ff0000" stroke-width="1.6"/>
<text x="343.5" y="71.21" font-size="8.0" text-anchor="start" font-weight="bold" >2000</text>
<text transform="translate(289.2,86) rotate(-90)" font-size="11.6" text-anchor="middle" font-weight="bold">Photon flux (n s<tspan font-size="7.3" dy="-4">-1</tspan><tspan dy="4">cm</tspan><tspan font-size="7.3" dy="-4">-2</tspan><tspan dy="4">nm</tspan><tspan font-size="7.3" dy="-4">-1</tspan><tspan dy="4">)x10</tspan><tspan font-size="7.3" dy="-4">13</tspan></text>
<text transform="translate(513.2,86) rotate(-90)" font-size="10.5" text-anchor="middle" font-weight="bold">Current density (µA cm<tspan font-size="7.0" dy="-3.6">-2</tspan><tspan dy="3.6">)</tspan></text>
<text x="398.8" y="182.3" font-size="10.4" text-anchor="middle" font-weight="bold" >Wavelength (nm)</text>
<polyline points="61.7,302.7 62.6,302.7 63.5,302.7 64.4,302.8 65.3,302.8 66.2,302.8 67.1,302.9 68.1,302.9 69,302.9 69.9,303.0 70.8,303.0 71.7,303.0 72.6,303.1 73.5,303.1 74.4,303.1 75.3,303.1 76.2,303.2 77.1,303.2 78,303.2 78.9,303.3 79.8,303.3 80.7,303.3 81.6,303.4 82.5,303.4 83.4,303.4 84.4,303.5 85.3,303.5 86.2,303.5 87.1,303.6 88,303.6 88.9,303.6 89.8,303.7 90.7,303.7 91.6,303.7 92.5,303.8 93.4,303.8 94.3,303.8 95.2,303.8 96.1,303.9 97,303.9 97.9,303.9 98.8,304.0 99.7,304.0 100.7,304.0 101.6,304.1 102.5,304.1 103.4,304.1 104.3,304.2 105.2,304.2 106.1,304.2 107,304.3 107.9,304.3 108.8,304.3 109.7,304.4 110.6,304.4 111.5,304.4 112.4,304.5 113.3,304.5 114.2,304.5 115.1,304.6 116,304.6 117,304.6 117.9,304.7 118.8,304.7 119.7,304.7 120.6,304.8 121.5,304.8 122.4,304.9 123.3,304.9 124.2,304.9 125.1,305.0 126,305.0 126.9,305.1 127.8,305.1 128.7,305.1 129.6,305.2 130.5,305.2 131.4,305.3 132.3,305.4 133.3,305.4 134.2,305.5 135.1,305.5 136,305.6 136.9,305.7 137.8,305.8 138.7,305.9 139.6,306.0 140.5,306.1 141.4,306.2 142.3,306.3 143.2,306.5 144.1,306.6 145,306.8 145.9,307.0 146.9,307.2 147.8,307.4 148.7,307.7 149.5,308.0 150.4,308.3 151.2,308.6 152.1,309.0 152.9,309.4 153.7,309.9 154.5,310.4 155.3,310.9 156,311.4 156.7,312.1 157.4,312.7 158.1,313.4 158.7,314.0 159.4,314.8 159.9,315.5 160.5,316.3 161,317.1 161.6,317.9 162,318.7 162.5,319.5 162.9,320.4 163.3,321.2 163.7,322.1 164.1,323.0 164.5,323.9 164.9,324.8 165.2,325.7 165.6,326.7 165.9,327.7 166.2,328.5 166.5,329.4 166.8,330.4 167.1,331.3 167.4,332.4 167.7,333.4 167.9,334.3 168,334.7" fill="none" stroke="#000000" stroke-width="1.6" stroke-dasharray="4 2.6" stroke-linejoin="round" />
<polyline points="61.1,289.2 62,289.3 62.9,289.3 63.8,289.3 64.7,289.3 65.7,289.3 66.6,289.3 67.5,289.4 68.4,289.4 69.3,289.4 70.2,289.4 71.1,289.4 72,289.4 72.9,289.5 73.8,289.5 74.7,289.5 75.6,289.5 76.5,289.5 77.4,289.5 78.3,289.6 79.2,289.6 80.1,289.6 81,289.6 82,289.6 82.9,289.6 83.8,289.7 84.7,289.7 85.6,289.7 86.5,289.7 87.4,289.7 88.3,289.8 89.2,289.8 90.1,289.8 91,289.8 91.9,289.8 92.8,289.8 93.7,289.9 94.6,289.9 95.5,289.9 96.4,289.9 97.4,289.9 98.3,289.9 99.2,290.0 100.1,290.0 101,290.0 101.9,290.0 102.8,290.0 103.7,290.0 104.6,290.1 105.5,290.1 106.4,290.1 107.3,290.1 108.2,290.1 109.1,290.1 110,290.2 110.9,290.2 111.8,290.2 112.8,290.2 113.7,290.2 114.6,290.3 115.5,290.3 116.4,290.3 117.3,290.3 118.2,290.3 119.1,290.3 120,290.4 120.9,290.4 121.8,290.4 122.7,290.4 123.6,290.4 124.5,290.4 125.4,290.5 126.3,290.5 127.2,290.5 128.2,290.5 129.1,290.5 130,290.5 130.9,290.6 131.8,290.6 132.7,290.6 133.6,290.6 134.5,290.6 135.4,290.7 136.3,290.7 137.2,290.7 138.1,290.7 139,290.7 139.9,290.8 140.8,290.8 141.7,290.8 142.6,290.8 143.6,290.9 144.5,290.9 145.4,290.9 146.3,290.9 147.2,291.0 148.1,291.0 149,291.0 149.9,291.1 150.8,291.1 151.7,291.2 152.6,291.2 153.5,291.3 154.4,291.3 155.3,291.4 156.2,291.4 157.2,291.5 158.1,291.6 159,291.7 159.9,291.8 160.8,292.0 161.7,292.1 162.6,292.3 163.5,292.5 164.4,292.7 165.3,293.0 166.2,293.3 167.1,293.6 167.9,294.0 168.8,294.4 169.6,294.8 170.4,295.3 171.1,295.8 171.9,296.4 172.6,297.1 173.3,297.7 173.9,298.4 174.5,299.1 175.1,299.9 175.6,300.6 176.2,301.4 176.6,302.2 177.1,303.0 177.6,303.9 178,304.8 178.4,305.7 178.8,306.5 179.2,307.4 179.5,308.3 179.9,309.2 180.2,310.1 180.5,311.0 180.8,311.9 181.2,312.9 181.5,313.9 181.8,315.0 182,315.8 182.3,316.8 182.5,317.7 182.8,318.7 183.1,319.7 183.3,320.8 183.6,321.9 183.8,323.1 184,323.9 184.2,324.9 184.4,325.8 184.6,326.8 184.8,327.8 185,328.8 185.2,329.8 185.4,330.9 185.6,332.0 185.8,333.2 186,334.3 186.1,334.7" fill="none" stroke="#0000ff" stroke-width="1.6" stroke-dasharray="4 2.6" stroke-linejoin="round" />
<polyline points="59.5,266.8 60.4,266.9 61.3,266.9 62.2,266.9 63.1,267.0 64,267.0 64.9,267.0 65.9,267.1 66.8,267.1 67.7,267.1 68.6,267.1 69.5,267.2 70.4,267.2 71.3,267.2 72.2,267.3 73.1,267.3 74,267.3 74.9,267.3 75.8,267.4 76.7,267.4 77.6,267.4 78.6,267.5 79.5,267.5 80.4,267.5 81.3,267.5 82.2,267.6 83.1,267.6 84,267.6 84.9,267.7 85.8,267.7 86.7,267.7 87.6,267.8 88.5,267.8 89.4,267.8 90.3,267.8 91.2,267.9 92.2,267.9 93.1,267.9 94,268.0 94.9,268.0 95.8,268.0 96.7,268.0 97.6,268.1 98.5,268.1 99.4,268.1 100.3,268.2 101.2,268.2 102.1,268.2 103,268.3 103.9,268.3 104.8,268.3 105.8,268.3 106.7,268.4 107.6,268.4 108.5,268.4 109.4,268.5 110.3,268.5 111.2,268.5 112.1,268.5 113,268.6 113.9,268.6 114.8,268.6 115.7,268.7 116.6,268.7 117.5,268.7 118.4,268.7 119.4,268.8 120.3,268.8 121.2,268.8 122.1,268.9 123,268.9 123.9,268.9 124.8,269.0 125.7,269.0 126.6,269.0 127.5,269.0 128.4,269.1 129.3,269.1 130.2,269.1 131.1,269.2 132.1,269.2 133,269.2 133.9,269.2 134.8,269.3 135.7,269.3 136.6,269.3 137.5,269.4 138.4,269.4 139.3,269.4 140.2,269.5 141.1,269.5 142,269.5 142.9,269.5 143.8,269.6 144.7,269.6 145.7,269.6 146.6,269.7 147.5,269.7 148.4,269.7 149.3,269.8 150.2,269.8 151.1,269.8 152,269.9 152.9,269.9 153.8,270.0 154.7,270.0 155.6,270.1 156.5,270.1 157.4,270.2 158.4,270.2 159.3,270.3 160.2,270.4 161.1,270.5 162,270.6 162.9,270.7 163.8,270.8 164.7,271.0 165.6,271.2 166.6,271.4 167.5,271.6 168.3,271.9 169.2,272.2 170.1,272.6 170.9,273.0 171.7,273.5 172.5,274.1 173.2,274.6 173.9,275.3 174.5,276.0 175.1,276.7 175.8,277.5 176.3,278.2 176.8,279.0 177.3,279.9 177.7,280.7 178.2,281.5 178.5,282.3 178.9,283.2 179.3,284.1 179.7,285.1 180,286.0 180.4,287.0 180.7,288.0 181,289.0 181.3,289.9 181.6,290.9 181.9,291.8 182.1,292.9 182.4,293.9 182.7,295.1 182.9,295.9 183.1,296.9 183.3,297.8 183.6,298.8 183.8,299.8 184,300.9 184.2,301.9 184.5,303.1 184.7,304.2 184.9,305.4 185.2,306.7 185.4,308.0 185.6,308.9 185.7,309.8 185.9,310.7 186,311.7 186.2,312.7 186.4,313.7 186.5,314.7 186.7,315.8 186.9,316.8 187,317.9 187.2,319.1 187.4,320.2 187.5,321.4 187.7,322.6 187.9,323.8 188.1,325.1 188.2,326.4 188.4,327.7 188.6,329.1 188.8,330.5 189,331.9 189.2,333.4 189.4,334.9 189.4,334.9" fill="none" stroke="#008000" stroke-width="1.6" stroke-dasharray="4 2.6" stroke-linejoin="round" />
<polyline points="61.7,222.8 62.6,222.8 63.6,222.8 64.5,222.9 65.4,222.9 66.3,222.9 67.2,222.9 68.1,223.0 69,223.0 69.9,223.0 70.8,223.1 71.7,223.1 72.6,223.1 73.5,223.1 74.4,223.2 75.3,223.2 76.2,223.2 77.1,223.3 78,223.3 78.9,223.3 79.8,223.3 80.8,223.4 81.7,223.4 82.6,223.4 83.5,223.4 84.4,223.5 85.3,223.5 86.2,223.5 87.1,223.6 88,223.6 88.9,223.6 89.8,223.6 90.7,223.7 91.6,223.7 92.5,223.7 93.4,223.8 94.3,223.8 95.2,223.8 96.1,223.8 97.1,223.9 98,223.9 98.9,223.9 99.8,223.9 100.7,224.0 101.6,224.0 102.5,224.0 103.4,224.1 104.3,224.1 105.2,224.1 106.1,224.1 107,224.2 107.9,224.2 108.8,224.2 109.7,224.3 110.6,224.3 111.5,224.3 112.4,224.3 113.3,224.4 114.3,224.4 115.2,224.4 116.1,224.4 117,224.5 117.9,224.5 118.8,224.5 119.7,224.6 120.6,224.6 121.5,224.6 122.4,224.6 123.3,224.7 124.2,224.7 125.1,224.7 126,224.8 126.9,224.8 127.8,224.8 128.7,224.9 129.6,224.9 130.5,224.9 131.5,224.9 132.4,225.0 133.3,225.0 134.2,225.0 135.1,225.1 136,225.1 136.9,225.1 137.8,225.2 138.7,225.2 139.6,225.2 140.5,225.3 141.4,225.3 142.3,225.4 143.2,225.4 144.1,225.5 145,225.5 145.9,225.5 146.8,225.6 147.7,225.7 148.7,225.7 149.6,225.8 150.5,225.8 151.4,225.9 152.3,226.0 153.2,226.1 154.1,226.2 155,226.3 155.9,226.4 156.8,226.5 157.7,226.7 158.6,226.8 159.5,227.0 160.4,227.2 161.3,227.4 162.2,227.6 163.1,227.9 164,228.2 164.9,228.5 165.7,228.8 166.6,229.2 167.4,229.6 168.2,230.1 169,230.6 169.8,231.1 170.6,231.6 171.3,232.3 172,232.9 172.6,233.6 173.3,234.2 173.9,235.0 174.5,235.7 175,236.5 175.5,237.3 176,238.1 176.5,238.8 177,239.7 177.4,240.5 177.8,241.3 178.2,242.2 178.6,243.1 179,244.0 179.3,244.9 179.7,245.8 180,246.7 180.4,247.7 180.6,248.6 180.9,249.5 181.2,250.4 181.5,251.3 181.8,252.3 182.1,253.4 182.3,254.4 182.6,255.3 182.8,256.3 183,257.2 183.2,258.2 183.5,259.2 183.7,260.2 183.9,261.3 184.2,262.4 184.4,263.6 184.6,264.4 184.7,265.3 184.9,266.3 185.1,267.2 185.2,268.2 185.4,269.2 185.6,270.2 185.7,271.2 185.9,272.3 186.1,273.4 186.3,274.5 186.4,275.6 186.6,276.8 186.8,278.0 186.9,279.2 187.1,280.4 187.3,281.7 187.4,283.0 187.6,283.9 187.7,284.8 187.8,285.7 187.9,286.7 188,287.6 188.1,288.6 188.2,289.6 188.4,290.5 188.5,291.5 188.6,292.6 188.7,293.6 188.8,294.7 188.9,295.7 189,296.8 189.2,297.9 189.3,299.1 189.4,300.2 189.5,301.3 189.6,302.5 189.7,303.7 189.8,304.9 190,306.2 190.1,307.4 190.2,308.7 190.3,310.0 190.4,311.3 190.5,312.6 190.6,314.0 190.7,315.3 190.9,316.7 191,318.2 191.1,319.6 191.2,321.1 191.3,322.5 191.4,324.1 191.5,325.6 191.7,327.1 191.8,328.7 191.9,330.3 192,332.0 192.1,333.6 192.2,334.4" fill="none" stroke="#ff0000" stroke-width="1.6" stroke-dasharray="4 2.6" stroke-linejoin="round" />
<polyline points="61.7,302.5 62.6,302.5 63.5,302.5 64.4,302.5 65.3,302.5 66.2,302.6 67.2,302.6 68.1,302.6 69,302.6 69.9,302.6 70.8,302.6 71.7,302.6 72.6,302.6 73.5,302.6 74.4,302.6 75.3,302.6 76.2,302.6 77.1,302.7 78,302.7 78.9,302.7 79.8,302.7 80.7,302.7 81.6,302.7 82.5,302.7 83.4,302.7 84.4,302.7 85.3,302.7 86.2,302.7 87.1,302.8 88,302.8 88.9,302.8 89.8,302.8 90.7,302.8 91.6,302.8 92.5,302.8 93.4,302.8 94.3,302.8 95.2,302.8 96.1,302.8 97,302.9 97.9,302.9 98.8,302.9 99.7,302.9 100.7,302.9 101.6,302.9 102.5,302.9 103.4,302.9 104.3,302.9 105.2,302.9 106.1,302.9 107,302.9 107.9,303.0 108.8,303.0 109.7,303.0 110.6,303.0 111.5,303.0 112.4,303.0 113.3,303.0 114.2,303.0 115.1,303.0 116,303.0 116.9,303.0 117.9,303.1 118.8,303.1 119.7,303.1 120.6,303.1 121.5,303.1 122.4,303.1 123.3,303.1 124.2,303.1 125.1,303.1 126,303.1 126.9,303.1 127.8,303.2 128.7,303.2 129.6,303.2 130.5,303.2 131.4,303.2 132.3,303.2 133.2,303.2 134.2,303.2 135.1,303.2 136,303.2 136.9,303.2 137.8,303.3 138.7,303.3 139.6,303.3 140.5,303.3 141.4,303.3 142.3,303.3 143.2,303.3 144.1,303.3 145,303.3 145.9,303.3 146.8,303.3 147.7,303.4 148.6,303.4 149.5,303.4 150.4,303.4 151.4,303.4 152.3,303.4 153.2,303.4 154.1,303.4 155,303.4 155.9,303.5 156.8,303.5 157.7,303.5 158.6,303.5 159.5,303.5 160.4,303.5 161.3,303.5 162.2,303.6 163.1,303.6 164,303.6 164.9,303.6 165.8,303.6 166.7,303.7 167.7,303.7 168.6,303.7 169.5,303.8 170.4,303.8 171.3,303.9 172.2,303.9 173.1,304.0 174,304.0 174.9,304.1 175.8,304.2 176.7,304.3 177.6,304.4 178.5,304.5 179.4,304.6 180.3,304.8 181.2,305.0 182.1,305.2 183.1,305.4 184,305.7 184.8,306.0 185.7,306.3 186.5,306.6 187.4,307.1 188.2,307.5 189,308.0 189.7,308.5 190.4,309.1 191.1,309.7 191.8,310.3 192.4,311.0 193.1,311.7 193.6,312.5 194.2,313.3 194.7,314.1 195.2,314.9 195.7,315.7 196.2,316.6 196.6,317.4 197,318.2 197.4,319.1 197.7,320.0 198.1,320.8 198.4,321.8 198.8,322.7 199.1,323.7 199.4,324.6 199.7,325.6 200,326.5 200.3,327.6 200.6,328.6 200.8,329.5 201,330.4 201.3,331.4 201.5,332.3 201.7,333.3 202,334.4 202,334.7" fill="none" stroke="#000000" stroke-width="1.6" stroke-linejoin="round" />
<polyline points="61.8,288.6 62.7,288.6 63.6,288.6 64.5,288.6 65.4,288.6 66.3,288.6 67.2,288.6 68.1,288.6 69,288.7 69.9,288.7 70.9,288.7 71.8,288.7 72.7,288.7 73.6,288.7 74.5,288.7 75.4,288.7 76.3,288.8 77.2,288.8 78.1,288.8 79,288.8 79.9,288.8 80.8,288.8 81.7,288.8 82.6,288.8 83.5,288.9 84.4,288.9 85.3,288.9 86.2,288.9 87.1,288.9 88.1,288.9 89,288.9 89.9,289.0 90.8,289.0 91.7,289.0 92.6,289.0 93.5,289.0 94.4,289.0 95.3,289.0 96.2,289.0 97.1,289.1 98,289.1 98.9,289.1 99.8,289.1 100.7,289.1 101.6,289.1 102.5,289.1 103.4,289.1 104.3,289.2 105.3,289.2 106.2,289.2 107.1,289.2 108,289.2 108.9,289.2 109.8,289.2 110.7,289.2 111.6,289.3 112.5,289.3 113.4,289.3 114.3,289.3 115.2,289.3 116.1,289.3 117,289.3 117.9,289.3 118.8,289.4 119.7,289.4 120.6,289.4 121.5,289.4 122.5,289.4 123.4,289.4 124.3,289.4 125.2,289.4 126.1,289.5 127,289.5 127.9,289.5 128.8,289.5 129.7,289.5 130.6,289.5 131.5,289.5 132.4,289.6 133.3,289.6 134.2,289.6 135.1,289.6 136,289.6 136.9,289.6 137.8,289.6 138.7,289.6 139.7,289.7 140.6,289.7 141.5,289.7 142.4,289.7 143.3,289.7 144.2,289.7 145.1,289.7 146,289.8 146.9,289.8 147.8,289.8 148.7,289.8 149.6,289.8 150.5,289.8 151.4,289.9 152.3,289.9 153.2,289.9 154.1,289.9 155,289.9 156,290.0 156.9,290.0 157.8,290.0 158.7,290.0 159.6,290.0 160.5,290.1 161.4,290.1 162.3,290.1 163.2,290.2 164.1,290.2 165,290.2 165.9,290.3 166.8,290.3 167.7,290.4 168.6,290.4 169.5,290.5 170.4,290.5 171.3,290.6 172.2,290.7 173.2,290.7 174.1,290.8 175,290.9 175.9,291.0 176.8,291.2 177.7,291.3 178.6,291.4 179.5,291.6 180.4,291.8 181.3,292.0 182.2,292.2 183.1,292.5 184,292.8 184.9,293.1 185.7,293.4 186.6,293.8 187.4,294.2 188.2,294.6 189,295.0 189.8,295.6 190.5,296.1 191.3,296.6 192,297.3 192.7,297.9 193.4,298.6 194,299.3 194.6,300.0 195.2,300.8 195.7,301.5 196.2,302.3 196.7,303.1 197.3,303.9 197.7,304.8 198.2,305.6 198.6,306.5 199,307.4 199.4,308.2 199.8,309.2 200.1,310.0 200.5,310.9 200.8,311.8 201.2,312.7 201.5,313.7 201.8,314.6 202.1,315.4 202.3,316.4 202.6,317.3 202.9,318.3 203.2,319.3 203.5,320.4 203.7,321.3 203.9,322.2 204.2,323.1 204.4,324.1 204.6,325.1 204.8,326.1 205.1,327.1 205.3,328.2 205.5,329.3 205.7,330.4 206,331.6 206.1,332.5 206.3,333.4 206.5,334.4 206.5,334.7" fill="none" stroke="#0000ff" stroke-width="1.6" stroke-linejoin="round" />
<polyline points="61.8,264.5 62.7,264.5 63.6,264.6 64.5,264.6 65.4,264.6 66.3,264.6 67.2,264.6 68.1,264.7 69,264.7 69.9,264.7 70.9,264.7 71.8,264.7 72.7,264.8 73.6,264.8 74.5,264.8 75.4,264.8 76.3,264.8 77.2,264.9 78.1,264.9 79,264.9 79.9,264.9 80.8,265.0 81.7,265.0 82.6,265.0 83.5,265.0 84.4,265.0 85.3,265.1 86.2,265.1 87.1,265.1 88.1,265.1 89,265.1 89.9,265.2 90.8,265.2 91.7,265.2 92.6,265.2 93.5,265.2 94.4,265.3 95.3,265.3 96.2,265.3 97.1,265.3 98,265.3 98.9,265.4 99.8,265.4 100.7,265.4 101.6,265.4 102.5,265.5 103.4,265.5 104.3,265.5 105.3,265.5 106.2,265.5 107.1,265.6 108,265.6 108.9,265.6 109.8,265.6 110.7,265.6 111.6,265.7 112.5,265.7 113.4,265.7 114.3,265.7 115.2,265.7 116.1,265.8 117,265.8 117.9,265.8 118.8,265.8 119.7,265.9 120.6,265.9 121.5,265.9 122.5,265.9 123.4,265.9 124.3,266.0 125.2,266.0 126.1,266.0 127,266.0 127.9,266.0 128.8,266.1 129.7,266.1 130.6,266.1 131.5,266.1 132.4,266.1 133.3,266.2 134.2,266.2 135.1,266.2 136,266.2 136.9,266.3 137.8,266.3 138.7,266.3 139.7,266.3 140.6,266.3 141.5,266.4 142.4,266.4 143.3,266.4 144.2,266.4 145.1,266.5 146,266.5 146.9,266.5 147.8,266.5 148.7,266.6 149.6,266.6 150.5,266.6 151.4,266.6 152.3,266.7 153.2,266.7 154.1,266.7 155,266.8 156,266.8 156.9,266.8 157.8,266.9 158.7,266.9 159.6,266.9 160.5,267.0 161.4,267.0 162.3,267.1 163.2,267.1 164.1,267.2 165,267.2 165.9,267.3 166.8,267.3 167.7,267.4 168.6,267.5 169.5,267.6 170.4,267.6 171.3,267.7 172.2,267.8 173.2,267.9 174.1,268.1 175,268.2 175.9,268.3 176.8,268.5 177.7,268.7 178.6,268.9 179.5,269.1 180.4,269.3 181.3,269.6 182.2,269.9 183.1,270.2 183.9,270.5 184.8,270.9 185.6,271.3 186.4,271.7 187.2,272.2 188,272.7 188.8,273.2 189.6,273.8 190.3,274.4 191,275.0 191.7,275.7 192.3,276.3 192.9,277.0 193.5,277.8 194.1,278.5 194.7,279.3 195.2,280.1 195.7,280.9 196.2,281.8 196.6,282.6 197.1,283.4 197.5,284.3 197.9,285.2 198.3,286.0 198.7,286.9 199.1,287.9 199.5,288.8 199.8,289.7 200.1,290.6 200.5,291.6 200.8,292.6 201.1,293.5 201.4,294.4 201.7,295.3 202,296.3 202.2,297.3 202.5,298.3 202.8,299.4 203,300.3 203.3,301.2 203.5,302.1 203.7,303.1 203.9,304.1 204.2,305.1 204.4,306.1 204.6,307.2 204.8,308.3 205.1,309.5 205.3,310.6 205.5,311.5 205.6,312.4 205.8,313.4 206,314.3 206.1,315.3 206.3,316.3 206.5,317.3 206.6,318.3 206.8,319.4 207,320.5 207.2,321.6 207.3,322.7 207.5,323.8 207.7,325.0 207.8,326.2 208,327.4 208.2,328.7 208.3,329.9 208.5,331.2 208.7,332.6 208.8,333.5 208.9,334.4 209,334.8" fill="none" stroke="#008000" stroke-width="1.6" stroke-linejoin="round" />
<polyline points="61.8,217.5 62.7,217.5 63.6,217.5 64.5,217.6 65.4,217.6 66.3,217.6 67.2,217.6 68.1,217.7 69,217.7 69.9,217.7 70.9,217.7 71.8,217.7 72.7,217.8 73.6,217.8 74.5,217.8 75.4,217.8 76.3,217.9 77.2,217.9 78.1,217.9 79,217.9 79.9,217.9 80.8,218.0 81.7,218.0 82.6,218.0 83.5,218.0 84.4,218.1 85.3,218.1 86.2,218.1 87.1,218.1 88.1,218.1 89,218.2 89.9,218.2 90.8,218.2 91.7,218.2 92.6,218.3 93.5,218.3 94.4,218.3 95.3,218.3 96.2,218.3 97.1,218.4 98,218.4 98.9,218.4 99.8,218.4 100.7,218.5 101.6,218.5 102.5,218.5 103.4,218.5 104.3,218.6 105.3,218.6 106.2,218.6 107.1,218.6 108,218.6 108.9,218.7 109.8,218.7 110.7,218.7 111.6,218.7 112.5,218.8 113.4,218.8 114.3,218.8 115.2,218.8 116.1,218.8 117,218.9 117.9,218.9 118.8,218.9 119.7,218.9 120.6,219.0 121.5,219.0 122.5,219.0 123.4,219.0 124.3,219.1 125.2,219.1 126.1,219.1 127,219.1 127.9,219.1 128.8,219.2 129.7,219.2 130.6,219.2 131.5,219.2 132.4,219.3 133.3,219.3 134.2,219.3 135.1,219.3 136,219.4 136.9,219.4 137.8,219.4 138.7,219.4 139.7,219.5 140.6,219.5 141.5,219.5 142.4,219.6 143.3,219.6 144.2,219.6 145.1,219.6 146,219.7 146.9,219.7 147.8,219.7 148.7,219.8 149.6,219.8 150.5,219.9 151.4,219.9 152.3,219.9 153.2,220.0 154.1,220.0 155,220.1 156,220.1 156.9,220.2 157.8,220.2 158.7,220.3 159.6,220.3 160.5,220.4 161.4,220.5 162.3,220.5 163.2,220.6 164.1,220.7 165,220.8 165.9,220.9 166.8,221.0 167.7,221.1 168.6,221.2 169.5,221.3 170.4,221.5 171.3,221.6 172.2,221.8 173.2,222.0 174.1,222.2 175,222.4 175.9,222.6 176.8,222.8 177.7,223.1 178.6,223.4 179.4,223.7 180.3,224.0 181.1,224.4 182,224.8 182.8,225.2 183.6,225.6 184.4,226.1 185.2,226.6 186,227.1 186.7,227.7 187.5,228.3 188.1,228.9 188.8,229.5 189.5,230.2 190.1,230.8 190.7,231.5 191.4,232.3 191.9,233.0 192.5,233.7 193.1,234.6 193.6,235.3 194.1,236.1 194.6,237.0 195,237.8 195.5,238.6 196,239.5 196.3,240.3 196.7,241.2 197.1,242.0 197.5,242.9 197.9,243.9 198.3,244.7 198.6,245.6 199,246.5 199.3,247.4 199.6,248.4 200,249.4 200.3,250.3 200.5,251.2 200.8,252.1 201.1,253.0 201.4,254.0 201.7,255.0 202,256.1 202.2,257.1 202.5,258.0 202.7,258.9 202.9,259.8 203.1,260.8 203.4,261.7 203.6,262.7 203.8,263.7 204,264.7 204.3,265.8 204.5,266.9 204.7,268.0 204.9,269.1 205.2,270.3 205.3,271.2 205.5,272.1 205.7,273.0 205.9,273.9 206,274.9 206.2,275.9 206.4,276.9 206.5,277.9 206.7,278.9 206.9,279.9 207,281.0 207.2,282.1 207.4,283.2 207.6,284.3 207.7,285.4 207.9,286.6 208.1,287.8 208.2,289.0 208.4,290.2 208.6,291.5 208.7,292.7 208.9,294.0 209.1,295.3 209.2,296.2 209.3,297.1 209.4,298.0 209.5,299.0 209.6,299.9 209.8,300.8 209.9,301.8 210,302.8 210.1,303.7 210.2,304.7 210.3,305.7 210.4,306.7 210.6,307.8 210.7,308.8 210.8,309.9 210.9,310.9 211,312.0 211.1,313.1 211.2,314.2 211.3,315.3 211.5,316.4 211.6,317.6 211.7,318.7 211.8,319.9 211.9,321.1 212,322.3 212.1,323.5 212.2,324.7 212.4,325.9 212.5,327.2 212.6,328.5 212.7,329.7 212.8,331.0 212.9,332.4 213,333.7 213.1,334.4" fill="none" stroke="#ff0000" stroke-width="1.6" stroke-linejoin="round" />
<rect x="61.8" y="197.9" width="169.7" height="137" fill="none" stroke="#000" stroke-width="1.1"/>
<line x1="61.8" y1="334.9" x2="59.2" y2="334.9" stroke="#000" stroke-width="1.1"/>
<line x1="61.8" y1="312.07" x2="59.2" y2="312.07" stroke="#000" stroke-width="1.1"/>
<line x1="61.8" y1="289.23" x2="59.2" y2="289.23" stroke="#000" stroke-width="1.1"/>
<line x1="61.8" y1="266.4" x2="59.2" y2="266.4" stroke="#000" stroke-width="1.1"/>
<line x1="61.8" y1="243.57" x2="59.2" y2="243.57" stroke="#000" stroke-width="1.1"/>
<line x1="61.8" y1="220.73" x2="59.2" y2="220.73" stroke="#000" stroke-width="1.1"/>
<line x1="61.8" y1="197.9" x2="59.2" y2="197.9" stroke="#000" stroke-width="1.1"/>
<line x1="61.8" y1="323.48" x2="60.3" y2="323.48" stroke="#000" stroke-width="1.1"/>
<line x1="61.8" y1="300.65" x2="60.3" y2="300.65" stroke="#000" stroke-width="1.1"/>
<line x1="61.8" y1="277.82" x2="60.3" y2="277.82" stroke="#000" stroke-width="1.1"/>
<line x1="61.8" y1="254.98" x2="60.3" y2="254.98" stroke="#000" stroke-width="1.1"/>
<line x1="61.8" y1="232.15" x2="60.3" y2="232.15" stroke="#000" stroke-width="1.1"/>
<line x1="61.8" y1="209.32" x2="60.3" y2="209.32" stroke="#000" stroke-width="1.1"/>
<line x1="61.8" y1="334.9" x2="61.8" y2="337.5" stroke="#000" stroke-width="1.1"/>
<line x1="99.51" y1="334.9" x2="99.51" y2="337.5" stroke="#000" stroke-width="1.1"/>
<line x1="137.22" y1="334.9" x2="137.22" y2="337.5" stroke="#000" stroke-width="1.1"/>
<line x1="174.93" y1="334.9" x2="174.93" y2="337.5" stroke="#000" stroke-width="1.1"/>
<line x1="212.64" y1="334.9" x2="212.64" y2="337.5" stroke="#000" stroke-width="1.1"/>
<line x1="80.66" y1="334.9" x2="80.66" y2="336.4" stroke="#000" stroke-width="1.1"/>
<line x1="118.37" y1="334.9" x2="118.37" y2="336.4" stroke="#000" stroke-width="1.1"/>
<line x1="156.08" y1="334.9" x2="156.08" y2="336.4" stroke="#000" stroke-width="1.1"/>
<line x1="193.79" y1="334.9" x2="193.79" y2="336.4" stroke="#000" stroke-width="1.1"/>
<line x1="231.5" y1="334.9" x2="231.5" y2="336.4" stroke="#000" stroke-width="1.1"/>
<text x="57.8" y="338.4" font-size="10.2" text-anchor="end" font-weight="bold" >-50</text>
<text x="57.8" y="315.57" font-size="10.2" text-anchor="end" font-weight="bold" >0</text>
<text x="57.8" y="292.73" font-size="10.2" text-anchor="end" font-weight="bold" >50</text>
<text x="57.8" y="269.9" font-size="10.2" text-anchor="end" font-weight="bold" >100</text>
<text x="57.8" y="247.07" font-size="10.2" text-anchor="end" font-weight="bold" >150</text>
<text x="57.8" y="224.23" font-size="10.2" text-anchor="end" font-weight="bold" >200</text>
<text x="57.8" y="201.4" font-size="10.2" text-anchor="end" font-weight="bold" >250</text>
<text x="61.8" y="347.5" font-size="10.2" text-anchor="middle" font-weight="bold" >0.0</text>
<text x="99.51" y="347.5" font-size="10.2" text-anchor="middle" font-weight="bold" >0.2</text>
<text x="137.22" y="347.5" font-size="10.2" text-anchor="middle" font-weight="bold" >0.4</text>
<text x="174.93" y="347.5" font-size="10.2" text-anchor="middle" font-weight="bold" >0.6</text>
<text x="212.64" y="347.5" font-size="10.2" text-anchor="middle" font-weight="bold" >0.8</text>
<text x="228.7" y="208.6" font-size="10.3" text-anchor="end" font-weight="bold" >PBDB-T-2F:IT-M</text>
<text x="66.8" y="213.7" font-size="9.1" text-anchor="start" font-weight="bold" >2000 lux</text>
<text x="66.8" y="261.5" font-size="9.1" text-anchor="start" font-weight="bold" >1000 lux</text>
<text x="66.8" y="284.8" font-size="9.1" text-anchor="start" font-weight="bold" >500 lux</text>
<text x="66.8" y="299.3" font-size="9.1" text-anchor="start" font-weight="bold" >200 lux</text>
<text x="64.6" y="318.6" font-size="9.3" text-anchor="start" font-weight="bold" >PEIE (Dash line)</text>
<text x="64.6" y="330.6" font-size="9.3" text-anchor="start" font-weight="bold" >Co-PEIE (Solid line)</text>
<text x="146.65" y="365" font-size="11.8" text-anchor="middle" font-weight="bold" >Voltage (V)</text>
<text transform="translate(33.4,260.9) rotate(-90)" font-size="11.8" text-anchor="middle" font-weight="bold">Current density (µA/cm<tspan font-size="7.8" dy="-4.6">2</tspan><tspan dy="4.6">)</tspan></text>
<polyline points="308.9,301.5 309.8,301.6 310.7,301.7 311.6,301.8 312.5,301.9 313.4,302.0 314.3,302.1 315.2,302.2 316.1,302.3 317,302.4 317.9,302.5 318.8,302.6 319.7,302.7 320.6,302.8 321.5,302.9 322.4,303.0 323.3,303.1 324.2,303.2 325.1,303.3 326,303.4 326.9,303.5 327.8,303.6 328.7,303.7 329.6,303.8 330.5,303.9 331.4,304.0 332.3,304.1 333.2,304.2 334.1,304.3 335,304.4 335.9,304.5 336.8,304.6 337.7,304.7 338.6,304.8 339.5,304.9 340.4,305.1 341.3,305.2 342.2,305.3 343.1,305.4 344,305.5 344.9,305.6 345.8,305.7 346.7,305.8 347.6,305.9 348.5,306.0 349.4,306.1 350.3,306.2 351.2,306.3 352.1,306.4 353,306.5 353.9,306.6 354.8,306.7 355.7,306.8 356.6,306.9 357.5,307.0 358.4,307.1 359.3,307.2 360.2,307.3 361.1,307.5 362,307.6 362.9,307.7 363.8,307.8 364.7,307.9 365.6,308.0 366.5,308.1 367.4,308.2 368.3,308.3 369.2,308.4 370.1,308.6 371.1,308.7 372,308.8 372.9,308.9 373.8,309.0 374.7,309.1 375.6,309.3 376.5,309.4 377.4,309.5 378.3,309.6 379.2,309.8 380.1,309.9 381.1,310.0 382,310.2 382.9,310.3 383.8,310.4 384.7,310.6 385.6,310.7 386.6,310.9 387.5,311.1 388.4,311.2 389.3,311.4 390.3,311.6 391.2,311.7 392.2,311.9 393,312.1 393.9,312.3 394.8,312.5 395.7,312.7 396.6,312.9 397.5,313.2 398.4,313.4 399.3,313.6 400.2,313.9 401.1,314.2 402,314.4 402.9,314.7 403.7,315.0 404.6,315.3 405.5,315.7 406.4,316.0 407.2,316.4 408.1,316.7 408.9,317.1 409.8,317.5 410.7,317.9 411.5,318.3 412.3,318.7 413.1,319.2 414,319.7 414.8,320.1 415.5,320.6 416.3,321.1 417.1,321.6 418,322.2 418.7,322.7 419.5,323.3 420.2,323.8 421,324.4 421.7,325.0 422.4,325.6 423.2,326.2 423.9,326.8 424.7,327.4 425.3,328.0 426,328.7 426.7,329.3 427.4,330.0 428.1,330.7 428.8,331.4 429.6,332.1 430.2,332.8 430.9,333.5 431.5,334.2 431.8,334.5" fill="none" stroke="#000000" stroke-width="1.6" stroke-dasharray="4 2.6" stroke-linejoin="round" />
<polyline points="311.9,288.4 312.8,288.5 313.8,288.6 314.7,288.7 315.6,288.8 316.5,288.9 317.4,289.0 318.3,289.1 319.3,289.2 320.2,289.3 321.1,289.4 322,289.5 322.9,289.6 323.8,289.7 324.8,289.8 325.7,289.9 326.6,290.0 327.5,290.1 328.4,290.2 329.4,290.3 330.3,290.4 331.2,290.5 332.1,290.7 333,290.8 333.9,290.9 334.9,291.0 335.8,291.1 336.7,291.2 337.6,291.3 338.5,291.4 339.4,291.5 340.4,291.6 341.3,291.7 342.2,291.8 343.1,291.9 344,292.0 345,292.1 345.9,292.2 346.8,292.3 347.7,292.4 348.6,292.5 349.5,292.6 350.5,292.7 351.4,292.8 352.3,292.9 353.2,293.0 354.1,293.1 355,293.2 356,293.3 356.9,293.5 357.8,293.6 358.7,293.7 359.6,293.8 360.5,293.9 361.5,294.0 362.4,294.1 363.3,294.2 364.2,294.3 365.1,294.4 366.1,294.5 367,294.6 367.9,294.7 368.8,294.8 369.7,294.9 370.6,295.0 371.6,295.1 372.5,295.2 373.4,295.3 374.3,295.5 375.2,295.6 376.1,295.7 377.1,295.8 378,295.9 378.9,296.0 379.8,296.1 380.7,296.2 381.7,296.3 382.6,296.4 383.5,296.6 384.4,296.7 385.3,296.8 386.2,296.9 387.2,297.0 388.1,297.1 389,297.3 389.9,297.4 390.8,297.5 391.8,297.7 392.7,297.8 393.6,297.9 394.5,298.1 395.4,298.2 396.4,298.4 397.3,298.6 398.2,298.7 399.1,298.9 400.1,299.1 401,299.3 401.9,299.5 402.8,299.7 403.7,299.9 404.6,300.2 405.4,300.4 406.3,300.7 407.2,300.9 408.1,301.2 408.9,301.6 409.8,301.9 410.7,302.3 411.5,302.7 412.3,303.1 413.2,303.5 414,304.0 414.8,304.5 415.6,305.0 416.3,305.6 417.1,306.1 417.8,306.7 418.5,307.4 419.2,308.0 419.9,308.7 420.5,309.3 421.1,310.0 421.7,310.8 422.3,311.5 422.8,312.3 423.4,313.1 423.9,313.8 424.4,314.6 425,315.5 425.4,316.3 425.9,317.1 426.3,317.9 426.8,318.8 427.3,319.8 427.7,320.6 428.1,321.5 428.5,322.4 428.9,323.3 429.3,324.3 429.6,325.2 430,326.0 430.3,327.0 430.7,327.9 431,328.9 431.4,329.9 431.7,330.9 432,331.8 432.3,332.7 432.6,333.6 432.9,334.5 432.9,334.5" fill="none" stroke="#0000ff" stroke-width="1.6" stroke-dasharray="4 2.6" stroke-linejoin="round" />
<polyline points="313.3,267.3 314.2,267.3 315.1,267.4 316,267.5 317,267.5 317.9,267.6 318.8,267.6 319.7,267.7 320.6,267.8 321.5,267.8 322.4,267.9 323.3,267.9 324.2,268.0 325.1,268.0 326.1,268.1 327,268.2 327.9,268.2 328.8,268.3 329.7,268.3 330.6,268.4 331.5,268.5 332.4,268.5 333.3,268.6 334.3,268.6 335.2,268.7 336.1,268.8 337,268.8 337.9,268.9 338.8,268.9 339.7,269.0 340.6,269.0 341.5,269.1 342.4,269.2 343.4,269.2 344.3,269.3 345.2,269.3 346.1,269.4 347,269.5 347.9,269.5 348.8,269.6 349.7,269.6 350.6,269.7 351.5,269.8 352.5,269.8 353.4,269.9 354.3,269.9 355.2,270.0 356.1,270.0 357,270.1 357.9,270.2 358.8,270.2 359.7,270.3 360.7,270.4 361.6,270.4 362.5,270.5 363.4,270.5 364.3,270.6 365.2,270.7 366.1,270.7 367,270.8 367.9,270.8 368.8,270.9 369.8,271.0 370.7,271.0 371.6,271.1 372.5,271.2 373.4,271.2 374.3,271.3 375.2,271.4 376.1,271.4 377,271.5 378,271.6 378.9,271.7 379.8,271.7 380.7,271.8 381.6,271.9 382.5,272.0 383.4,272.1 384.3,272.1 385.2,272.2 386.2,272.3 387.1,272.4 388,272.5 388.9,272.6 389.8,272.7 390.7,272.8 391.6,272.9 392.5,273.1 393.4,273.2 394.3,273.3 395.3,273.5 396.2,273.6 397.1,273.8 398,273.9 398.9,274.1 399.8,274.3 400.7,274.5 401.6,274.7 402.5,275.0 403.5,275.2 404.4,275.5 405.2,275.7 406.1,276.0 406.9,276.3 407.8,276.7 408.6,277.0 409.5,277.4 410.4,277.9 411.2,278.3 412,278.7 412.8,279.2 413.6,279.7 414.3,280.3 415,280.8 415.8,281.4 416.5,282.0 417.2,282.7 417.8,283.4 418.5,284.0 419.1,284.7 419.7,285.5 420.3,286.2 420.9,287.0 421.5,287.8 422,288.5 422.5,289.4 423,290.2 423.5,291.0 423.9,291.8 424.4,292.7 424.9,293.6 425.3,294.4 425.7,295.3 426.1,296.2 426.5,297.1 426.8,298.0 427.2,298.8 427.5,299.7 427.9,300.7 428.2,301.6 428.6,302.6 428.8,303.4 429.1,304.3 429.4,305.2 429.7,306.1 430,307.1 430.3,308.1 430.6,309.1 430.9,310.1 431.2,311.2 431.4,312.1 431.6,313.0 431.9,313.9 432.1,314.9 432.3,315.8 432.6,316.8 432.8,317.8 433,318.8 433.3,319.9 433.5,321.0 433.7,322.1 434,323.2 434.2,324.4 434.4,325.3 434.6,326.2 434.7,327.1 434.9,328.0 435.1,329.0 435.3,330.0 435.5,331.0 435.6,332.0 435.8,333.0 436,334.0 436,334.4" fill="none" stroke="#008000" stroke-width="1.6" stroke-dasharray="4 2.6" stroke-linejoin="round" />
<polyline points="313.6,224.8 314.5,224.9 315.4,225.1 316.3,225.2 317.2,225.3 318.2,225.4 319.1,225.5 320,225.6 320.9,225.7 321.8,225.8 322.7,226.0 323.6,226.1 324.5,226.2 325.4,226.3 326.3,226.4 327.3,226.5 328.2,226.6 329.1,226.8 330,226.9 330.9,227.0 331.8,227.1 332.7,227.2 333.6,227.3 334.5,227.4 335.4,227.6 336.4,227.7 337.3,227.8 338.2,227.9 339.1,228.0 340,228.1 340.9,228.2 341.8,228.4 342.7,228.5 343.6,228.6 344.5,228.7 345.5,228.8 346.4,228.9 347.3,229.0 348.2,229.2 349.1,229.3 350,229.4 350.9,229.5 351.8,229.6 352.7,229.7 353.6,229.8 354.6,230.0 355.5,230.1 356.4,230.2 357.3,230.3 358.2,230.4 359.1,230.5 360,230.6 360.9,230.8 361.8,230.9 362.7,231.0 363.7,231.1 364.6,231.2 365.5,231.3 366.4,231.5 367.3,231.6 368.2,231.7 369.1,231.8 370,231.9 370.9,232.1 371.8,232.2 372.8,232.3 373.7,232.4 374.6,232.5 375.5,232.7 376.4,232.8 377.3,232.9 378.2,233.0 379.1,233.2 380,233.3 380.9,233.4 381.9,233.6 382.8,233.7 383.7,233.8 384.6,234.0 385.5,234.1 386.4,234.3 387.3,234.4 388.2,234.6 389.1,234.8 390,234.9 391,235.1 391.9,235.3 392.8,235.5 393.7,235.7 394.6,235.9 395.5,236.1 396.4,236.3 397.3,236.5 398.2,236.8 399.1,237.1 400.1,237.3 400.9,237.6 401.8,237.9 402.6,238.2 403.5,238.6 404.3,238.9 405.2,239.3 406,239.7 406.8,240.2 407.6,240.6 408.4,241.1 409.2,241.6 410,242.1 410.7,242.7 411.4,243.3 412.1,243.9 412.8,244.5 413.5,245.2 414.1,245.8 414.7,246.6 415.4,247.3 415.9,248.0 416.5,248.8 417.1,249.6 417.6,250.4 418.1,251.2 418.6,252.1 419.1,252.9 419.5,253.7 420,254.6 420.4,255.4 420.8,256.3 421.2,257.2 421.6,258.1 421.9,258.9 422.2,259.8 422.6,260.7 422.9,261.6 423.3,262.6 423.6,263.6 423.9,264.4 424.2,265.3 424.5,266.2 424.7,267.2 425,268.2 425.3,269.2 425.6,270.2 425.9,271.3 426.1,272.1 426.3,273.0 426.6,274.0 426.8,274.9 427,275.9 427.2,276.9 427.5,277.9 427.7,279.0 427.9,280.0 428.2,281.2 428.4,282.3 428.6,283.4 428.8,284.3 429,285.2 429.1,286.2 429.3,287.1 429.5,288.1 429.6,289.1 429.8,290.1 430,291.1 430.1,292.1 430.3,293.2 430.5,294.2 430.7,295.3 430.8,296.5 431,297.6 431.2,298.8 431.3,300.0 431.5,301.2 431.7,302.4 431.9,303.7 432,304.9 432.2,306.2 432.4,307.6 432.5,308.5 432.6,309.4 432.7,310.3 432.8,311.2 432.9,312.2 433,313.1 433.2,314.1 433.3,315.1 433.4,316.1 433.5,317.1 433.6,318.1 433.7,319.2 433.8,320.2 434,321.3 434.1,322.4 434.2,323.5 434.3,324.6 434.4,325.7 434.5,326.8 434.6,328.0 434.8,329.1 434.9,330.3 435,331.5 435.1,332.7 435.2,333.9 435.3,334.6" fill="none" stroke="#ff0000" stroke-width="1.6" stroke-dasharray="4 2.6" stroke-linejoin="round" />
<polyline points="313.6,301.5 314.5,301.5 315.4,301.6 316.3,301.6 317.2,301.6 318.1,301.6 319,301.6 319.9,301.7 320.8,301.7 321.7,301.7 322.7,301.7 323.6,301.7 324.5,301.8 325.4,301.8 326.3,301.8 327.2,301.8 328.1,301.9 329,301.9 329.9,301.9 330.9,301.9 331.8,301.9 332.7,302.0 333.6,302.0 334.5,302.0 335.4,302.0 336.3,302.0 337.2,302.1 338.1,302.1 339,302.1 340,302.1 340.9,302.1 341.8,302.2 342.7,302.2 343.6,302.2 344.5,302.2 345.4,302.3 346.3,302.3 347.2,302.3 348.1,302.3 349.1,302.3 350,302.4 350.9,302.4 351.8,302.4 352.7,302.4 353.6,302.4 354.5,302.5 355.4,302.5 356.3,302.5 357.2,302.5 358.2,302.6 359.1,302.6 360,302.6 360.9,302.6 361.8,302.6 362.7,302.7 363.6,302.7 364.5,302.7 365.4,302.7 366.3,302.7 367.3,302.8 368.2,302.8 369.1,302.8 370,302.8 370.9,302.9 371.8,302.9 372.7,302.9 373.6,302.9 374.5,303.0 375.5,303.0 376.4,303.0 377.3,303.0 378.2,303.1 379.1,303.1 380,303.1 380.9,303.1 381.8,303.2 382.7,303.2 383.6,303.2 384.6,303.3 385.5,303.3 386.4,303.3 387.3,303.4 388.2,303.4 389.1,303.4 390,303.5 390.9,303.5 391.8,303.6 392.7,303.6 393.7,303.7 394.6,303.7 395.5,303.8 396.4,303.8 397.3,303.9 398.2,304.0 399.1,304.0 400,304.1 400.9,304.2 401.8,304.3 402.8,304.4 403.7,304.6 404.6,304.7 405.5,304.8 406.4,305.0 407.3,305.2 408.2,305.3 409.1,305.6 410,305.8 411,306.0 411.9,306.3 412.7,306.6 413.6,306.9 414.4,307.3 415.3,307.7 416.1,308.1 416.9,308.5 417.7,309.0 418.5,309.5 419.3,310.1 420,310.6 420.7,311.2 421.4,311.8 422.1,312.5 422.7,313.2 423.3,313.9 423.9,314.6 424.5,315.3 425,316.1 425.6,316.9 426.1,317.7 426.6,318.6 427.1,319.4 427.5,320.3 428,321.2 428.4,322.0 428.8,322.9 429.2,323.8 429.6,324.7 429.9,325.6 430.3,326.5 430.6,327.4 431,328.4 431.3,329.4 431.6,330.3 431.9,331.2 432.2,332.1 432.5,333.1 432.7,334.1 432.9,334.5" fill="none" stroke="#000000" stroke-width="1.6" stroke-linejoin="round" />
<polyline points="313.6,287.5 314.5,287.5 315.4,287.6 316.3,287.6 317.2,287.6 318.1,287.6 319,287.7 319.9,287.7 320.8,287.7 321.8,287.8 322.7,287.8 323.6,287.8 324.5,287.8 325.4,287.9 326.3,287.9 327.2,287.9 328.1,287.9 329,288.0 329.9,288.0 330.9,288.0 331.8,288.1 332.7,288.1 333.6,288.1 334.5,288.1 335.4,288.2 336.3,288.2 337.2,288.2 338.1,288.3 339.1,288.3 340,288.3 340.9,288.3 341.8,288.4 342.7,288.4 343.6,288.4 344.5,288.4 345.4,288.5 346.3,288.5 347.2,288.5 348.2,288.6 349.1,288.6 350,288.6 350.9,288.6 351.8,288.7 352.7,288.7 353.6,288.7 354.5,288.8 355.4,288.8 356.3,288.8 357.3,288.8 358.2,288.9 359.1,288.9 360,288.9 360.9,288.9 361.8,289.0 362.7,289.0 363.6,289.0 364.5,289.1 365.4,289.1 366.4,289.1 367.3,289.1 368.2,289.2 369.1,289.2 370,289.2 370.9,289.3 371.8,289.3 372.7,289.3 373.6,289.3 374.5,289.4 375.5,289.4 376.4,289.4 377.3,289.5 378.2,289.5 379.1,289.5 380,289.5 380.9,289.6 381.8,289.6 382.7,289.6 383.6,289.7 384.6,289.7 385.5,289.7 386.4,289.8 387.3,289.8 388.2,289.8 389.1,289.9 390,289.9 390.9,289.9 391.8,290.0 392.7,290.0 393.7,290.0 394.6,290.1 395.5,290.1 396.4,290.2 397.3,290.2 398.2,290.3 399.1,290.3 400,290.4 400.9,290.4 401.8,290.5 402.8,290.6 403.7,290.7 404.6,290.8 405.5,290.9 406.4,291.0 407.3,291.1 408.2,291.2 409.1,291.3 410,291.5 411,291.7 411.9,291.9 412.8,292.1 413.7,292.3 414.6,292.6 415.4,292.9 416.3,293.2 417.2,293.6 418,294.0 418.8,294.5 419.6,294.9 420.4,295.5 421.1,296.0 421.9,296.6 422.6,297.3 423.2,297.9 423.9,298.6 424.5,299.4 425.1,300.1 425.6,300.9 426.2,301.7 426.7,302.6 427.1,303.4 427.6,304.2 428,305.1 428.4,306.0 428.8,306.9 429.2,307.8 429.6,308.7 429.9,309.6 430.3,310.6 430.6,311.5 430.9,312.4 431.2,313.3 431.5,314.3 431.7,315.2 432,316.3 432.3,317.3 432.5,318.2 432.8,319.1 433,320.0 433.2,321.0 433.5,322.0 433.7,323.1 433.9,324.1 434.1,325.2 434.4,326.4 434.5,327.3 434.7,328.2 434.9,329.1 435.1,330.0 435.2,331.0 435.4,332.0 435.6,333.0 435.8,334.1 435.8,334.4" fill="none" stroke="#0000ff" stroke-width="1.6" stroke-linejoin="round" />
<polyline points="312.3,264.4 313.2,264.4 314.1,264.4 315,264.5 315.9,264.5 316.8,264.5 317.8,264.5 318.7,264.6 319.6,264.6 320.5,264.6 321.4,264.6 322.3,264.7 323.2,264.7 324.1,264.7 325,264.7 326,264.8 326.9,264.8 327.8,264.8 328.7,264.8 329.6,264.9 330.5,264.9 331.4,264.9 332.3,264.9 333.2,265.0 334.2,265.0 335.1,265.0 336,265.1 336.9,265.1 337.8,265.1 338.7,265.1 339.6,265.2 340.5,265.2 341.4,265.2 342.4,265.2 343.3,265.3 344.2,265.3 345.1,265.3 346,265.3 346.9,265.4 347.8,265.4 348.7,265.4 349.6,265.4 350.5,265.5 351.5,265.5 352.4,265.5 353.3,265.5 354.2,265.6 355.1,265.6 356,265.6 356.9,265.6 357.8,265.7 358.7,265.7 359.7,265.7 360.6,265.8 361.5,265.8 362.4,265.8 363.3,265.8 364.2,265.9 365.1,265.9 366,265.9 366.9,265.9 367.9,266.0 368.8,266.0 369.7,266.0 370.6,266.0 371.5,266.1 372.4,266.1 373.3,266.1 374.2,266.1 375.1,266.2 376.1,266.2 377,266.2 377.9,266.3 378.8,266.3 379.7,266.3 380.6,266.3 381.5,266.4 382.4,266.4 383.3,266.4 384.2,266.5 385.2,266.5 386.1,266.5 387,266.6 387.9,266.6 388.8,266.6 389.7,266.7 390.6,266.7 391.5,266.7 392.4,266.8 393.4,266.8 394.3,266.9 395.2,266.9 396.1,267.0 397,267.0 397.9,267.1 398.8,267.1 399.7,267.2 400.7,267.3 401.6,267.4 402.5,267.5 403.4,267.6 404.3,267.7 405.2,267.8 406.1,267.9 407,268.0 408,268.2 408.9,268.4 409.8,268.6 410.7,268.8 411.6,269.1 412.5,269.3 413.3,269.6 414.2,269.9 415.1,270.3 415.9,270.7 416.7,271.1 417.6,271.6 418.4,272.1 419.1,272.6 419.9,273.2 420.6,273.8 421.3,274.5 421.9,275.1 422.6,275.9 423.2,276.6 423.7,277.3 424.3,278.1 424.8,278.9 425.3,279.6 425.8,280.5 426.2,281.3 426.7,282.1 427.1,283.0 427.5,283.8 427.9,284.8 428.3,285.6 428.7,286.5 429,287.5 429.4,288.4 429.7,289.3 430,290.2 430.3,291.1 430.6,292.0 430.9,293.0 431.3,294.1 431.5,294.9 431.8,295.8 432,296.7 432.3,297.7 432.5,298.7 432.8,299.7 433,300.7 433.3,301.8 433.5,302.9 433.8,304.0 434,304.9 434.2,305.8 434.4,306.7 434.6,307.7 434.8,308.7 435,309.7 435.2,310.7 435.4,311.7 435.6,312.8 435.8,313.9 436,315.0 436.2,316.1 436.4,317.3 436.6,318.5 436.8,319.7 437,321.0 437.2,322.3 437.4,323.6 437.6,324.5 437.7,325.4 437.8,326.3 438,327.3 438.1,328.2 438.3,329.2 438.4,330.2 438.5,331.2 438.7,332.2 438.8,333.3 439,334.3 439,334.3" fill="none" stroke="#008000" stroke-width="1.6" stroke-linejoin="round" />
<polyline points="312.8,216.9 313.7,216.9 314.6,217.0 315.5,217.0 316.4,217.0 317.3,217.1 318.2,217.1 319.2,217.2 320.1,217.2 321,217.3 321.9,217.3 322.8,217.3 323.7,217.4 324.6,217.4 325.5,217.5 326.4,217.5 327.3,217.5 328.3,217.6 329.2,217.6 330.1,217.7 331,217.7 331.9,217.8 332.8,217.8 333.7,217.8 334.6,217.9 335.5,217.9 336.5,218.0 337.4,218.0 338.3,218.1 339.2,218.1 340.1,218.1 341,218.2 341.9,218.2 342.8,218.3 343.7,218.3 344.6,218.4 345.6,218.4 346.5,218.4 347.4,218.5 348.3,218.5 349.2,218.6 350.1,218.6 351,218.6 351.9,218.7 352.8,218.7 353.8,218.8 354.7,218.8 355.6,218.9 356.5,218.9 357.4,218.9 358.3,219.0 359.2,219.0 360.1,219.1 361,219.1 361.9,219.2 362.9,219.2 363.8,219.2 364.7,219.3 365.6,219.3 366.5,219.4 367.4,219.4 368.3,219.5 369.2,219.5 370.1,219.5 371.1,219.6 372,219.6 372.9,219.7 373.8,219.7 374.7,219.8 375.6,219.8 376.5,219.8 377.4,219.9 378.3,219.9 379.2,220.0 380.2,220.0 381.1,220.1 382,220.1 382.9,220.2 383.8,220.2 384.7,220.3 385.6,220.3 386.5,220.4 387.4,220.4 388.3,220.5 389.3,220.5 390.2,220.6 391.1,220.6 392,220.7 392.9,220.7 393.8,220.8 394.7,220.9 395.6,220.9 396.5,221.0 397.5,221.1 398.4,221.2 399.3,221.3 400.2,221.3 401.1,221.4 402,221.5 402.9,221.6 403.8,221.8 404.7,221.9 405.7,222.0 406.6,222.2 407.5,222.4 408.4,222.5 409.3,222.7 410.2,223.0 411.1,223.2 412,223.5 412.9,223.8 413.8,224.1 414.6,224.4 415.5,224.8 416.3,225.2 417.1,225.7 417.9,226.1 418.7,226.7 419.5,227.2 420.2,227.8 420.9,228.4 421.6,229.1 422.2,229.7 422.8,230.4 423.4,231.1 424,231.9 424.6,232.7 425.1,233.5 425.6,234.3 426.1,235.1 426.5,235.9 427,236.8 427.4,237.7 427.8,238.5 428.2,239.4 428.6,240.4 429,241.3 429.3,242.2 429.7,243.1 430,244.1 430.3,245.0 430.6,245.9 430.9,246.8 431.2,247.8 431.5,248.8 431.8,249.8 432.1,250.9 432.3,251.8 432.5,252.7 432.8,253.6 433,254.6 433.2,255.6 433.5,256.7 433.7,257.7 434,258.8 434.2,260.0 434.4,261.1 434.6,262.0 434.8,263.0 435,263.9 435.1,264.9 435.3,265.9 435.5,266.9 435.7,267.9 435.9,269.0 436,270.0 436.2,271.2 436.4,272.3 436.6,273.4 436.8,274.6 436.9,275.8 437.1,277.1 437.3,278.3 437.5,279.6 437.7,281.0 437.8,281.9 437.9,282.8 438,283.7 438.2,284.7 438.3,285.6 438.4,286.6 438.5,287.6 438.7,288.6 438.8,289.6 438.9,290.6 439,291.7 439.1,292.7 439.3,293.8 439.4,294.9 439.5,296.0 439.6,297.2 439.8,298.3 439.9,299.5 440,300.7 440.1,301.9 440.3,303.1 440.4,304.3 440.5,305.6 440.6,306.9 440.8,308.2 440.9,309.5 441,310.8 441.1,312.2 441.3,313.6 441.4,315.0 441.5,316.4 441.6,317.8 441.8,319.3 441.9,320.8 442,322.3 442.1,323.8 442.3,325.4 442.4,327.0 442.5,328.6 442.7,330.2 442.8,331.9 442.9,333.5 443,334.4" fill="none" stroke="#ff0000" stroke-width="1.6" stroke-linejoin="round" />
<rect x="313.6" y="197.8" width="170.6" height="136.8" fill="none" stroke="#000" stroke-width="1.1"/>
<line x1="313.6" y1="334.6" x2="311" y2="334.6" stroke="#000" stroke-width="1.1"/>
<line x1="313.6" y1="311.8" x2="311" y2="311.8" stroke="#000" stroke-width="1.1"/>
<line x1="313.6" y1="289" x2="311" y2="289" stroke="#000" stroke-width="1.1"/>
<line x1="313.6" y1="266.2" x2="311" y2="266.2" stroke="#000" stroke-width="1.1"/>
<line x1="313.6" y1="243.4" x2="311" y2="243.4" stroke="#000" stroke-width="1.1"/>
<line x1="313.6" y1="220.6" x2="311" y2="220.6" stroke="#000" stroke-width="1.1"/>
<line x1="313.6" y1="197.8" x2="311" y2="197.8" stroke="#000" stroke-width="1.1"/>
<line x1="313.6" y1="323.2" x2="312.1" y2="323.2" stroke="#000" stroke-width="1.1"/>
<line x1="313.6" y1="300.4" x2="312.1" y2="300.4" stroke="#000" stroke-width="1.1"/>
<line x1="313.6" y1="277.6" x2="312.1" y2="277.6" stroke="#000" stroke-width="1.1"/>
<line x1="313.6" y1="254.8" x2="312.1" y2="254.8" stroke="#000" stroke-width="1.1"/>
<line x1="313.6" y1="232" x2="312.1" y2="232" stroke="#000" stroke-width="1.1"/>
<line x1="313.6" y1="209.2" x2="312.1" y2="209.2" stroke="#000" stroke-width="1.1"/>
<line x1="313.6" y1="334.6" x2="313.6" y2="337.2" stroke="#000" stroke-width="1.1"/>
<line x1="351.51" y1="334.6" x2="351.51" y2="337.2" stroke="#000" stroke-width="1.1"/>
<line x1="389.42" y1="334.6" x2="389.42" y2="337.2" stroke="#000" stroke-width="1.1"/>
<line x1="427.33" y1="334.6" x2="427.33" y2="337.2" stroke="#000" stroke-width="1.1"/>
<line x1="465.24" y1="334.6" x2="465.24" y2="337.2" stroke="#000" stroke-width="1.1"/>
<line x1="332.56" y1="334.6" x2="332.56" y2="336.1" stroke="#000" stroke-width="1.1"/>
<line x1="370.47" y1="334.6" x2="370.47" y2="336.1" stroke="#000" stroke-width="1.1"/>
<line x1="408.38" y1="334.6" x2="408.38" y2="336.1" stroke="#000" stroke-width="1.1"/>
<line x1="446.29" y1="334.6" x2="446.29" y2="336.1" stroke="#000" stroke-width="1.1"/>
<line x1="484.2" y1="334.6" x2="484.2" y2="336.1" stroke="#000" stroke-width="1.1"/>
<text x="309.6" y="338.1" font-size="10.2" text-anchor="end" font-weight="bold" >-50</text>
<text x="309.6" y="315.3" font-size="10.2" text-anchor="end" font-weight="bold" >0</text>
<text x="309.6" y="292.5" font-size="10.2" text-anchor="end" font-weight="bold" >50</text>
<text x="309.6" y="269.7" font-size="10.2" text-anchor="end" font-weight="bold" >100</text>
<text x="309.6" y="246.9" font-size="10.2" text-anchor="end" font-weight="bold" >150</text>
<text x="309.6" y="224.1" font-size="10.2" text-anchor="end" font-weight="bold" >200</text>
<text x="309.6" y="201.3" font-size="10.2" text-anchor="end" font-weight="bold" >250</text>
<text x="313.6" y="347.2" font-size="10.2" text-anchor="middle" font-weight="bold" >0.0</text>
<text x="351.51" y="347.2" font-size="10.2" text-anchor="middle" font-weight="bold" >0.2</text>
<text x="389.42" y="347.2" font-size="10.2" text-anchor="middle" font-weight="bold" >0.4</text>
<text x="427.33" y="347.2" font-size="10.2" text-anchor="middle" font-weight="bold" >0.6</text>
<text x="465.24" y="347.2" font-size="10.2" text-anchor="middle" font-weight="bold" >0.8</text>
<text x="481.4" y="209.2" font-size="10.3" text-anchor="end" font-weight="bold" >PBDB-T-2F:BTP-4F</text>
<text x="318.6" y="213.7" font-size="9.1" text-anchor="start" font-weight="bold" >2000 lux</text>
<text x="318.6" y="261.5" font-size="9.1" text-anchor="start" font-weight="bold" >1000 lux</text>
<text x="318.6" y="284.8" font-size="9.1" text-anchor="start" font-weight="bold" >500 lux</text>
<text x="318.6" y="299.3" font-size="9.1" text-anchor="start" font-weight="bold" >200 lux</text>
<text x="316.4" y="318.6" font-size="9.3" text-anchor="start" font-weight="bold" >PEIE (Dash line)</text>
<text x="316.4" y="330.6" font-size="9.3" text-anchor="start" font-weight="bold" >Co-PEIE (Solid line)</text>
<text x="398.9" y="365" font-size="11.8" text-anchor="middle" font-weight="bold" >Voltage (V)</text>
<text transform="translate(285.4,260.7) rotate(-90)" font-size="11.8" text-anchor="middle" font-weight="bold">Current density (µA/cm<tspan font-size="7.8" dy="-4.6">2</tspan><tspan dy="4.6">)</tspan></text>
<polyline points="77.6,454.8 78.5,452.8 79.3,450.9 80.2,448.9 81.1,447.1 82,445.3 82.8,443.5 83.7,441.8 84.6,440.1 85.4,438.5 86.3,436.9 87.2,435.3 88,433.9 88.9,432.4 89.8,431.0 90.7,429.6 91.5,428.3 92.4,427.0 93.3,425.8 94.1,424.6 95,423.4 95.9,422.3 96.7,421.2 97.6,420.1 98.5,419.1 99.4,418.1 100.2,417.2 101.1,416.2 102,415.3 102.8,414.5 103.7,413.7 104.6,412.8 105.5,412.1 106.3,411.3 107.2,410.6 108.1,409.9 108.9,409.2 109.8,408.6 110.7,408.0 111.5,407.4 112.4,406.8 113.3,406.3 114.2,405.7 115,405.2 115.9,404.7 116.8,404.3 117.6,403.8 118.5,403.4 119.4,403.0 120.3,402.6 121.1,402.2 122,401.8 122.9,401.5 123.7,401.2 124.6,400.8 125.5,400.5 126.3,400.3 127.2,400.0 128.1,399.7 129,399.5 129.8,399.3 130.7,399.0 131.6,398.8 132.4,398.6 133.3,398.5 134.2,398.3 135,398.1 135.9,398.0 136.8,397.8 137.7,397.7 138.5,397.5 139.4,397.4 140.3,397.3 141.1,397.2 142,397.1 142.9,397.0 143.8,396.9 144.6,396.8 145.5,396.7 146.4,396.6 147.2,396.5 148.1,396.4 149,396.3 149.8,396.3 150.7,396.2 151.6,396.1 152.5,396.0 153.3,395.9 154.2,395.9 155.1,395.8 155.9,395.7 156.8,395.6 157.7,395.6 158.6,395.5 159.4,395.4 160.3,395.3 161.2,395.2 162,395.2 162.9,395.1 163.8,395.0 164.6,394.9 165.5,394.9 166.4,394.8 167.3,394.7 168.1,394.6 169,394.6 169.9,394.5 170.7,394.4 171.6,394.3 172.5,394.3 173.3,394.2 174.2,394.1 175.1,394.0 176,394.0 176.8,393.9 177.7,393.8 178.6,393.7 179.4,393.7 180.3,393.6 181.2,393.5 182.1,393.4 182.9,393.3 183.8,393.3 184.7,393.2 185.5,393.1 186.4,393.0 187.3,392.9 188.1,392.9 189,392.8 189.9,392.7 190.8,392.6 191.6,392.5 192.5,392.5 193.4,392.4 194.2,392.3 195.1,392.2 196,392.1 196.9,392.0 197.7,391.9 198.6,391.9 199.5,391.8 200.3,391.7 201.2,391.6 202.1,391.5 202.9,391.4 203.8,391.3 204.7,391.2 205.6,391.1 206.4,391.0 207.3,390.9 208.2,390.8 209,390.7 209.9,390.6 210.8,390.5 211.6,390.4 212.5,390.3 213.4,390.2 214.3,390.1 215.1,390.0 216,389.9" fill="none" stroke="#0000ff" stroke-width="1.9" stroke-dasharray="4 3.7" stroke-linejoin="round" />
<polyline points="77.4,481.0 78.3,478.6 79.1,476.2 80,473.8 80.9,471.4 81.8,469.1 82.6,466.7 83.5,464.4 84.4,462.2 85.2,459.9 86.1,457.7 87,455.5 87.9,453.4 88.7,451.3 89.6,449.2 90.5,447.2 91.3,445.2 92.2,443.3 93.1,441.4 94,439.6 94.8,437.8 95.7,436.1 96.6,434.4 97.4,432.8 98.3,431.3 99.2,429.8 100.1,428.4 100.9,427.0 101.8,425.7 102.7,424.5 103.6,423.3 104.4,422.1 105.3,421.0 106.2,420.0 107,419.0 107.9,418.0 108.8,417.1 109.7,416.2 110.5,415.4 111.4,414.6 112.3,413.8 113.1,413.1 114,412.4 114.9,411.7 115.8,411.0 116.6,410.4 117.5,409.8 118.4,409.3 119.2,408.7 120.1,408.2 121,407.7 121.9,407.2 122.7,406.7 123.6,406.2 124.5,405.8 125.3,405.4 126.2,404.9 127.1,404.5 128,404.1 128.8,403.7 129.7,403.3 130.6,402.9 131.4,402.6 132.3,402.2 133.2,401.9 134.1,401.5 134.9,401.2 135.8,400.9 136.7,400.6 137.5,400.3 138.4,400.0 139.3,399.7 140.2,399.4 141,399.2 141.9,398.9 142.8,398.7 143.6,398.4 144.5,398.2 145.4,398.0 146.3,397.8 147.1,397.5 148,397.3 148.9,397.1 149.8,396.9 150.6,396.8 151.5,396.6 152.4,396.4 153.2,396.3 154.1,396.1 155,395.9 155.9,395.8 156.7,395.7 157.6,395.5 158.5,395.4 159.3,395.3 160.2,395.1 161.1,395.0 162,394.9 162.8,394.8 163.7,394.7 164.6,394.6 165.4,394.5 166.3,394.4 167.2,394.3 168.1,394.2 168.9,394.1 169.8,394.1 170.7,394.0 171.5,393.9 172.4,393.8 173.3,393.8 174.2,393.7 175,393.6 175.9,393.6 176.8,393.5 177.6,393.4 178.5,393.4 179.4,393.3 180.3,393.3 181.1,393.2 182,393.2 182.9,393.1 183.7,393.0 184.6,393.0 185.5,392.9 186.4,392.9 187.2,392.8 188.1,392.8 189,392.7 189.8,392.7 190.7,392.6 191.6,392.5 192.5,392.5 193.3,392.4 194.2,392.4 195.1,392.3 196,392.2 196.8,392.2 197.7,392.1 198.6,392.0 199.4,391.9 200.3,391.9 201.2,391.8 202.1,391.7 202.9,391.6 203.8,391.5 204.7,391.4 205.5,391.3 206.4,391.2 207.3,391.1 208.2,391.0 209,390.9 209.9,390.8 210.8,390.7 211.6,390.5 212.5,390.4 213.4,390.3 214.3,390.1 215.1,390.0 216,389.8" fill="none" stroke="#ff0000" stroke-width="1.9" stroke-dasharray="4 3.7" stroke-linejoin="round" />
<polyline points="77.2,420.6 78.1,419.9 78.9,419.2 79.8,418.5 80.7,417.9 81.6,417.2 82.4,416.6 83.3,416.0 84.2,415.3 85.1,414.8 85.9,414.2 86.8,413.6 87.7,413.0 88.5,412.5 89.4,412.0 90.3,411.4 91.2,410.9 92,410.4 92.9,409.9 93.8,409.4 94.7,409.0 95.5,408.5 96.4,408.1 97.3,407.6 98.2,407.2 99,406.8 99.9,406.4 100.8,406.0 101.6,405.6 102.5,405.2 103.4,404.9 104.3,404.5 105.1,404.2 106,403.8 106.9,403.5 107.8,403.2 108.6,402.8 109.5,402.5 110.4,402.2 111.2,402.0 112.1,401.7 113,401.4 113.9,401.1 114.7,400.9 115.6,400.6 116.5,400.4 117.4,400.1 118.2,399.9 119.1,399.7 120,399.5 120.8,399.3 121.7,399.1 122.6,398.9 123.5,398.7 124.3,398.5 125.2,398.3 126.1,398.2 127,398.0 127.8,397.8 128.7,397.7 129.6,397.5 130.5,397.4 131.3,397.2 132.2,397.1 133.1,397.0 133.9,396.9 134.8,396.7 135.7,396.6 136.6,396.5 137.4,396.4 138.3,396.3 139.2,396.2 140.1,396.1 140.9,396.0 141.8,395.9 142.7,395.8 143.5,395.7 144.4,395.6 145.3,395.6 146.2,395.5 147,395.4 147.9,395.3 148.8,395.3 149.7,395.2 150.5,395.1 151.4,395.1 152.3,395.0 153.1,395.0 154,394.9 154.9,394.9 155.8,394.8 156.6,394.8 157.5,394.7 158.4,394.7 159.3,394.6 160.1,394.6 161,394.5 161.9,394.5 162.7,394.4 163.6,394.4 164.5,394.4 165.4,394.3 166.2,394.3 167.1,394.2 168,394.2 168.9,394.2 169.7,394.1 170.6,394.1 171.5,394.0 172.4,394.0 173.2,394.0 174.1,393.9 175,393.9 175.8,393.8 176.7,393.8 177.6,393.8 178.5,393.7 179.3,393.7 180.2,393.6 181.1,393.6 182,393.5 182.8,393.5 183.7,393.4 184.6,393.4 185.4,393.3 186.3,393.3 187.2,393.2 188.1,393.2 188.9,393.1 189.8,393.0 190.7,393.0 191.6,392.9 192.4,392.8 193.3,392.8 194.2,392.7 195,392.6 195.9,392.5 196.8,392.4 197.7,392.4 198.5,392.3 199.4,392.2 200.3,392.1 201.2,392.0 202,391.9 202.9,391.8 203.8,391.7 204.7,391.5 205.5,391.4 206.4,391.3 207.3,391.2 208.1,391.0 209,390.9 209.9,390.8 210.8,390.6 211.6,390.5 212.5,390.3 213.4,390.1 214.3,390.0 215.1,389.8 216,389.6" fill="none" stroke="#0000ff" stroke-width="2.0" stroke-linejoin="round" />
<polyline points="77.3,422.8 78.2,422.1 79,421.5 79.9,420.8 80.8,420.2 81.7,419.5 82.5,418.9 83.4,418.3 84.3,417.7 85.2,417.1 86,416.6 86.9,416.0 87.8,415.5 88.6,414.9 89.5,414.4 90.4,413.9 91.3,413.3 92.1,412.8 93,412.3 93.9,411.9 94.7,411.4 95.6,410.9 96.5,410.5 97.4,410.0 98.2,409.6 99.1,409.1 100,408.7 100.9,408.3 101.7,407.9 102.6,407.5 103.5,407.1 104.3,406.7 105.2,406.4 106.1,406.0 107,405.6 107.8,405.3 108.7,405.0 109.6,404.6 110.4,404.3 111.3,404.0 112.2,403.7 113.1,403.4 113.9,403.1 114.8,402.8 115.7,402.5 116.6,402.2 117.4,402.0 118.3,401.7 119.2,401.4 120,401.2 120.9,401.0 121.8,400.7 122.7,400.5 123.5,400.3 124.4,400.0 125.3,399.8 126.2,399.6 127,399.4 127.9,399.2 128.8,399.0 129.6,398.9 130.5,398.7 131.4,398.5 132.3,398.3 133.1,398.2 134,398.0 134.9,397.8 135.7,397.7 136.6,397.5 137.5,397.4 138.4,397.3 139.2,397.1 140.1,397.0 141,396.9 141.9,396.8 142.7,396.6 143.6,396.5 144.5,396.4 145.3,396.3 146.2,396.2 147.1,396.1 148,396.0 148.8,395.9 149.7,395.8 150.6,395.7 151.4,395.6 152.3,395.6 153.2,395.5 154.1,395.4 154.9,395.3 155.8,395.2 156.7,395.2 157.6,395.1 158.4,395.0 159.3,395.0 160.2,394.9 161,394.8 161.9,394.8 162.8,394.7 163.7,394.7 164.5,394.6 165.4,394.5 166.3,394.5 167.1,394.4 168,394.4 168.9,394.3 169.8,394.3 170.6,394.2 171.5,394.2 172.4,394.1 173.3,394.1 174.1,394.0 175,394.0 175.9,393.9 176.7,393.9 177.6,393.8 178.5,393.8 179.4,393.7 180.2,393.7 181.1,393.6 182,393.6 182.9,393.5 183.7,393.4 184.6,393.4 185.5,393.3 186.3,393.3 187.2,393.2 188.1,393.1 189,393.1 189.8,393.0 190.7,392.9 191.6,392.9 192.4,392.8 193.3,392.7 194.2,392.7 195.1,392.6 195.9,392.5 196.8,392.4 197.7,392.3 198.6,392.2 199.4,392.1 200.3,392.0 201.2,392.0 202,391.8 202.9,391.7 203.8,391.6 204.7,391.5 205.5,391.4 206.4,391.3 207.3,391.2 208.1,391.0 209,390.9 209.9,390.8 210.8,390.6 211.6,390.5 212.5,390.4 213.4,390.2 214.3,390.0 215.1,389.9 216,389.7" fill="none" stroke="#ff0000" stroke-width="2.0" stroke-linejoin="round" />
<circle cx="77.4" cy="455.4" r="2.1" fill="#fff" stroke="#0000ff" stroke-width="0.8"/>
<circle cx="77.4" cy="480.6" r="2.1" fill="#fff" stroke="#ff0000" stroke-width="0.8"/>
<circle cx="100.5" cy="417.6" r="2.1" fill="#fff" stroke="#ff0000" stroke-width="0.8"/>
<circle cx="77.2" cy="421" r="2.1" fill="#0000ff" stroke="#0000ff" stroke-width="0.8"/>
<circle cx="100.3" cy="405.6" r="2.1" fill="#0000ff" stroke="#0000ff" stroke-width="0.8"/>
<circle cx="138.8" cy="396.2" r="2.1" fill="#0000ff" stroke="#0000ff" stroke-width="0.8"/>
<circle cx="216" cy="390" r="2.1" fill="#0000ff" stroke="#0000ff" stroke-width="0.8"/>
<circle cx="77.3" cy="423.2" r="2.1" fill="#ff0000" stroke="#ff0000" stroke-width="0.8"/>
<circle cx="100.3" cy="408.1" r="2.1" fill="#ff0000" stroke="#ff0000" stroke-width="0.8"/>
<circle cx="138.8" cy="396.9" r="2.1" fill="#ff0000" stroke="#ff0000" stroke-width="0.8"/>
<circle cx="216" cy="390" r="2.1" fill="#ff0000" stroke="#ff0000" stroke-width="0.8"/>
<rect x="61.5" y="377.7" width="169.6" height="136.8" fill="none" stroke="#000" stroke-width="1.1"/>
<line x1="61.5" y1="514.3" x2="58.9" y2="514.3" stroke="#000" stroke-width="1.1"/>
<text x="57.5" y="517.8" font-size="10.0" text-anchor="end" font-weight="bold" >0.5</text>
<line x1="61.5" y1="489.38" x2="58.9" y2="489.38" stroke="#000" stroke-width="1.1"/>
<text x="57.5" y="492.88" font-size="10.0" text-anchor="end" font-weight="bold" >0.6</text>
<line x1="61.5" y1="464.46" x2="58.9" y2="464.46" stroke="#000" stroke-width="1.1"/>
<text x="57.5" y="467.96" font-size="10.0" text-anchor="end" font-weight="bold" >0.7</text>
<line x1="61.5" y1="439.54" x2="58.9" y2="439.54" stroke="#000" stroke-width="1.1"/>
<text x="57.5" y="443.04" font-size="10.0" text-anchor="end" font-weight="bold" >0.8</text>
<line x1="61.5" y1="414.62" x2="58.9" y2="414.62" stroke="#000" stroke-width="1.1"/>
<text x="57.5" y="418.12" font-size="10.0" text-anchor="end" font-weight="bold" >0.9</text>
<line x1="61.5" y1="389.7" x2="58.9" y2="389.7" stroke="#000" stroke-width="1.1"/>
<text x="57.5" y="393.2" font-size="10.0" text-anchor="end" font-weight="bold" >1.0</text>
<line x1="61.5" y1="501.84" x2="60" y2="501.84" stroke="#000" stroke-width="1.1"/>
<line x1="61.5" y1="476.92" x2="60" y2="476.92" stroke="#000" stroke-width="1.1"/>
<line x1="61.5" y1="452" x2="60" y2="452" stroke="#000" stroke-width="1.1"/>
<line x1="61.5" y1="427.08" x2="60" y2="427.08" stroke="#000" stroke-width="1.1"/>
<line x1="61.5" y1="402.16" x2="60" y2="402.16" stroke="#000" stroke-width="1.1"/>
<line x1="61.5" y1="514.5" x2="61.5" y2="517.1" stroke="#000" stroke-width="1.1"/>
<text x="61.5" y="527" font-size="10.0" text-anchor="middle" font-weight="bold" >0</text>
<line x1="100.28" y1="514.5" x2="100.28" y2="517.1" stroke="#000" stroke-width="1.1"/>
<text x="100.28" y="527" font-size="10.0" text-anchor="middle" font-weight="bold" >500</text>
<line x1="139.05" y1="514.5" x2="139.05" y2="517.1" stroke="#000" stroke-width="1.1"/>
<text x="139.05" y="527" font-size="10.0" text-anchor="middle" font-weight="bold" >1000</text>
<line x1="177.82" y1="514.5" x2="177.82" y2="517.1" stroke="#000" stroke-width="1.1"/>
<text x="177.82" y="527" font-size="10.0" text-anchor="middle" font-weight="bold" >1500</text>
<line x1="216.6" y1="514.5" x2="216.6" y2="517.1" stroke="#000" stroke-width="1.1"/>
<text x="216.6" y="527" font-size="10.0" text-anchor="middle" font-weight="bold" >2000</text>
<line x1="80.89" y1="514.5" x2="80.89" y2="516" stroke="#000" stroke-width="1.1"/>
<line x1="119.66" y1="514.5" x2="119.66" y2="516" stroke="#000" stroke-width="1.1"/>
<line x1="158.44" y1="514.5" x2="158.44" y2="516" stroke="#000" stroke-width="1.1"/>
<line x1="197.21" y1="514.5" x2="197.21" y2="516" stroke="#000" stroke-width="1.1"/>
<text x="146.3" y="544.5" font-size="11.5" text-anchor="middle" font-weight="bold" >Light Intensity (lux)</text>
<text transform="translate(33.4,441) rotate(-90)" font-size="12.2" text-anchor="middle" font-weight="bold">Normalized V<tspan font-size="7.8" dy="2.5">OC</tspan></text>
<text x="145.2" y="450.8" font-size="9.7" text-anchor="start" font-weight="bold" >PBDB-T:IT-M</text>
<line x1="144.4" y1="460.7" x2="148.2" y2="460.7" stroke="#0000ff" stroke-width="1.8"/>
<line x1="154.5" y1="460.7" x2="156.7" y2="460.7" stroke="#0000ff" stroke-width="1.8"/>
<circle cx="152.3" cy="460.7" r="2.0" fill="#fff" stroke="#0000ff" stroke-width="0.8"/>
<text x="162.1" y="463.1" font-size="9.3" text-anchor="start" font-weight="bold" >PEIE</text>
<line x1="144.4" y1="472.1" x2="160.2" y2="472.1" stroke="#0000ff" stroke-width="1.9"/>
<circle cx="152.3" cy="472.1" r="2.2" fill="#0000ff" stroke="#0000ff" stroke-width="0.8"/>
<text x="162.1" y="474.5" font-size="9.3" text-anchor="start" font-weight="bold" >c-PEIE</text>
<text x="145.2" y="485.6" font-size="9.5" text-anchor="start" font-weight="bold" >PBDB-T-2F:BTP-4F</text>
<line x1="144.4" y1="495.7" x2="148.2" y2="495.7" stroke="#ff0000" stroke-width="1.8"/>
<line x1="154.5" y1="495.7" x2="156.7" y2="495.7" stroke="#ff0000" stroke-width="1.8"/>
<circle cx="152.3" cy="495.7" r="2.0" fill="#fff" stroke="#ff0000" stroke-width="0.8"/>
<text x="162.1" y="498.1" font-size="9.3" text-anchor="start" font-weight="bold" >PEIE</text>
<line x1="144.4" y1="507.3" x2="160.2" y2="507.3" stroke="#ff0000" stroke-width="1.9"/>
<circle cx="152.3" cy="507.3" r="2.2" fill="#ff0000" stroke="#ff0000" stroke-width="0.8"/>
<text x="162.1" y="509.7" font-size="9.3" text-anchor="start" font-weight="bold" >c-PEIE</text>
<polyline points="329.4,446.6 330.3,444.3 331.1,442.1 332,439.9 332.9,437.7 333.8,435.6 334.6,433.6 335.5,431.5 336.4,429.6 337.2,427.7 338.1,425.8 339,424.0 339.9,422.2 340.7,420.6 341.6,418.9 342.5,417.4 343.3,415.9 344.2,414.4 345.1,413.0 346,411.7 346.8,410.5 347.7,409.3 348.6,408.1 349.4,407.0 350.3,406.0 351.2,405.0 352.1,404.0 352.9,403.1 353.8,402.3 354.7,401.5 355.6,400.7 356.4,400.0 357.3,399.3 358.2,398.7 359,398.1 359.9,397.6 360.8,397.0 361.7,396.6 362.5,396.1 363.4,395.7 364.3,395.3 365.1,394.9 366,394.6 366.9,394.3 367.8,394.0 368.6,393.7 369.5,393.4 370.4,393.2 371.2,393.0 372.1,392.8 373,392.6 373.9,392.4 374.7,392.2 375.6,392.1 376.5,391.9 377.3,391.8 378.2,391.6 379.1,391.5 380,391.4 380.8,391.2 381.7,391.1 382.6,391.0 383.4,390.8 384.3,390.7 385.2,390.6 386.1,390.5 386.9,390.4 387.8,390.2 388.7,390.1 389.5,390.0 390.4,389.9 391.3,389.8 392.2,389.7 393,389.6 393.9,389.5 394.8,389.4 395.6,389.3 396.5,389.2 397.4,389.2 398.3,389.1 399.1,389.0 400,388.9 400.9,388.8 401.8,388.7 402.6,388.7 403.5,388.6 404.4,388.5 405.2,388.5 406.1,388.4 407,388.3 407.9,388.3 408.7,388.2 409.6,388.1 410.5,388.1 411.3,388.0 412.2,388.0 413.1,387.9 414,387.9 414.8,387.8 415.7,387.8 416.6,387.7 417.4,387.7 418.3,387.6 419.2,387.6 420.1,387.5 420.9,387.5 421.8,387.5 422.7,387.4 423.5,387.4 424.4,387.3 425.3,387.3 426.2,387.3 427,387.2 427.9,387.2 428.8,387.2 429.6,387.2 430.5,387.1 431.4,387.1 432.3,387.1 433.1,387.0 434,387.0 434.9,387.0 435.7,387.0 436.6,386.9 437.5,386.9 438.4,386.9 439.2,386.9 440.1,386.9 441,386.8 441.8,386.8 442.7,386.8 443.6,386.8 444.5,386.8 445.3,386.7 446.2,386.7 447.1,386.7 448,386.7 448.8,386.7 449.7,386.6 450.6,386.6 451.4,386.6 452.3,386.6 453.2,386.6 454.1,386.6 454.9,386.5 455.8,386.5 456.7,386.5 457.5,386.5 458.4,386.5 459.3,386.5 460.2,386.4 461,386.4 461.9,386.4 462.8,386.4 463.6,386.4 464.5,386.3 465.4,386.3 466.3,386.3 467.1,386.3 468,386.3" fill="none" stroke="#0000ff" stroke-width="1.9" stroke-dasharray="4 3.7" stroke-linejoin="round" />
<polyline points="329.3,483.9 330.2,482.6 331,481.3 331.9,480.1 332.8,478.8 333.7,477.6 334.5,476.3 335.4,475.1 336.3,473.9 337.2,472.7 338,471.5 338.9,470.3 339.8,469.2 340.6,468.0 341.5,466.8 342.4,465.6 343.3,464.4 344.1,463.2 345,462.0 345.9,460.8 346.7,459.5 347.6,458.3 348.5,457.0 349.4,455.7 350.2,454.4 351.1,453.1 352,451.7 352.9,450.4 353.7,449.0 354.6,447.6 355.5,446.2 356.3,444.7 357.2,443.3 358.1,441.9 359,440.5 359.8,439.1 360.7,437.7 361.6,436.3 362.4,435.0 363.3,433.7 364.2,432.4 365.1,431.1 365.9,429.8 366.8,428.5 367.7,427.2 368.6,426.0 369.4,424.8 370.3,423.5 371.2,422.3 372,421.2 372.9,420.0 373.8,418.9 374.7,417.8 375.5,416.7 376.4,415.7 377.3,414.6 378.2,413.6 379,412.7 379.9,411.7 380.8,410.8 381.6,409.9 382.5,409.0 383.4,408.2 384.3,407.3 385.1,406.5 386,405.7 386.9,405.0 387.7,404.2 388.6,403.5 389.5,402.8 390.4,402.1 391.2,401.5 392.1,400.8 393,400.2 393.9,399.6 394.7,399.0 395.6,398.5 396.5,397.9 397.3,397.4 398.2,396.9 399.1,396.4 400,396.0 400.8,395.5 401.7,395.1 402.6,394.6 403.4,394.2 404.3,393.8 405.2,393.5 406.1,393.1 406.9,392.8 407.8,392.4 408.7,392.1 409.6,391.8 410.4,391.5 411.3,391.3 412.2,391.0 413,390.7 413.9,390.5 414.8,390.3 415.7,390.1 416.5,389.9 417.4,389.7 418.3,389.5 419.1,389.3 420,389.2 420.9,389.0 421.8,388.9 422.6,388.7 423.5,388.6 424.4,388.5 425.3,388.4 426.1,388.3 427,388.2 427.9,388.1 428.7,388.0 429.6,388.0 430.5,387.9 431.4,387.8 432.2,387.8 433.1,387.7 434,387.7 434.9,387.6 435.7,387.6 436.6,387.6 437.5,387.5 438.3,387.5 439.2,387.5 440.1,387.5 441,387.5 441.8,387.4 442.7,387.4 443.6,387.4 444.4,387.4 445.3,387.4 446.2,387.4 447.1,387.4 447.9,387.4 448.8,387.4 449.7,387.3 450.6,387.3 451.4,387.3 452.3,387.3 453.2,387.3 454,387.3 454.9,387.2 455.8,387.2 456.7,387.2 457.5,387.1 458.4,387.1 459.3,387.1 460.1,387.0 461,387.0 461.9,386.9 462.8,386.8 463.6,386.8 464.5,386.7 465.4,386.6 466.3,386.5 467.1,386.4 468,386.3" fill="none" stroke="#ff0000" stroke-width="1.9" stroke-dasharray="4 3.7" stroke-linejoin="round" />
<polyline points="329.4,392.3 330.3,392.1 331.1,391.8 332,391.5 332.9,391.3 333.8,391.0 334.6,390.8 335.5,390.6 336.4,390.4 337.2,390.2 338.1,389.9 339,389.7 339.9,389.5 340.7,389.4 341.6,389.2 342.5,389.0 343.3,388.8 344.2,388.7 345.1,388.5 346,388.3 346.8,388.2 347.7,388.0 348.6,387.9 349.4,387.8 350.3,387.7 351.2,387.5 352.1,387.4 352.9,387.3 353.8,387.2 354.7,387.1 355.6,387.0 356.4,386.9 357.3,386.8 358.2,386.7 359,386.6 359.9,386.6 360.8,386.5 361.7,386.4 362.5,386.4 363.4,386.3 364.3,386.3 365.1,386.2 366,386.2 366.9,386.1 367.8,386.1 368.6,386.0 369.5,386.0 370.4,386.0 371.2,386.0 372.1,385.9 373,385.9 373.9,385.9 374.7,385.9 375.6,385.9 376.5,385.9 377.3,385.9 378.2,385.9 379.1,385.9 380,385.9 380.8,385.9 381.7,385.9 382.6,385.9 383.4,385.9 384.3,385.9 385.2,386.0 386.1,386.0 386.9,386.0 387.8,386.0 388.7,386.1 389.5,386.1 390.4,386.1 391.3,386.2 392.2,386.2 393,386.2 393.9,386.3 394.8,386.3 395.6,386.3 396.5,386.4 397.4,386.4 398.3,386.5 399.1,386.5 400,386.6 400.9,386.6 401.8,386.6 402.6,386.7 403.5,386.7 404.4,386.8 405.2,386.8 406.1,386.9 407,386.9 407.9,387.0 408.7,387.0 409.6,387.1 410.5,387.1 411.3,387.2 412.2,387.2 413.1,387.3 414,387.3 414.8,387.4 415.7,387.4 416.6,387.5 417.4,387.5 418.3,387.5 419.2,387.6 420.1,387.6 420.9,387.7 421.8,387.7 422.7,387.8 423.5,387.8 424.4,387.8 425.3,387.9 426.2,387.9 427,387.9 427.9,388.0 428.8,388.0 429.6,388.0 430.5,388.0 431.4,388.1 432.3,388.1 433.1,388.1 434,388.1 434.9,388.1 435.7,388.2 436.6,388.2 437.5,388.2 438.4,388.2 439.2,388.2 440.1,388.2 441,388.2 441.8,388.2 442.7,388.2 443.6,388.2 444.5,388.1 445.3,388.1 446.2,388.1 447.1,388.1 448,388.0 448.8,388.0 449.7,388.0 450.6,387.9 451.4,387.9 452.3,387.9 453.2,387.8 454.1,387.8 454.9,387.7 455.8,387.6 456.7,387.6 457.5,387.5 458.4,387.4 459.3,387.3 460.2,387.3 461,387.2 461.9,387.1 462.8,387.0 463.6,386.9 464.5,386.8 465.4,386.7 466.3,386.5 467.1,386.4 468,386.3" fill="none" stroke="#0000ff" stroke-width="2.0" stroke-linejoin="round" />
<polyline points="329.4,421.3 330.3,420.5 331.1,419.7 332,418.9 332.9,418.2 333.8,417.4 334.6,416.7 335.5,416.0 336.4,415.3 337.2,414.6 338.1,413.9 339,413.2 339.9,412.6 340.7,412.0 341.6,411.3 342.5,410.7 343.3,410.2 344.2,409.6 345.1,409.0 346,408.5 346.8,407.9 347.7,407.4 348.6,406.9 349.4,406.4 350.3,405.9 351.2,405.4 352.1,405.0 352.9,404.5 353.8,404.1 354.7,403.6 355.6,403.2 356.4,402.8 357.3,402.4 358.2,402.0 359,401.6 359.9,401.3 360.8,400.9 361.7,400.5 362.5,400.2 363.4,399.9 364.3,399.5 365.1,399.2 366,398.9 366.9,398.6 367.8,398.3 368.6,398.0 369.5,397.8 370.4,397.5 371.2,397.2 372.1,397.0 373,396.7 373.9,396.5 374.7,396.2 375.6,396.0 376.5,395.8 377.3,395.5 378.2,395.3 379.1,395.1 380,394.9 380.8,394.7 381.7,394.5 382.6,394.3 383.4,394.1 384.3,393.9 385.2,393.8 386.1,393.6 386.9,393.4 387.8,393.3 388.7,393.1 389.5,392.9 390.4,392.8 391.3,392.6 392.2,392.5 393,392.3 393.9,392.2 394.8,392.1 395.6,391.9 396.5,391.8 397.4,391.7 398.3,391.6 399.1,391.4 400,391.3 400.9,391.2 401.8,391.1 402.6,391.0 403.5,390.9 404.4,390.8 405.2,390.7 406.1,390.6 407,390.5 407.9,390.4 408.7,390.3 409.6,390.2 410.5,390.2 411.3,390.1 412.2,390.0 413.1,389.9 414,389.8 414.8,389.8 415.7,389.7 416.6,389.6 417.4,389.6 418.3,389.5 419.2,389.4 420.1,389.4 420.9,389.3 421.8,389.2 422.7,389.2 423.5,389.1 424.4,389.1 425.3,389.0 426.2,389.0 427,388.9 427.9,388.8 428.8,388.8 429.6,388.7 430.5,388.7 431.4,388.6 432.3,388.6 433.1,388.5 434,388.5 434.9,388.4 435.7,388.4 436.6,388.3 437.5,388.3 438.4,388.2 439.2,388.2 440.1,388.1 441,388.1 441.8,388.0 442.7,388.0 443.6,387.9 444.5,387.9 445.3,387.8 446.2,387.8 447.1,387.7 448,387.7 448.8,387.6 449.7,387.5 450.6,387.5 451.4,387.4 452.3,387.4 453.2,387.3 454.1,387.2 454.9,387.2 455.8,387.1 456.7,387.0 457.5,387.0 458.4,386.9 459.3,386.8 460.2,386.7 461,386.7 461.9,386.6 462.8,386.5 463.6,386.4 464.5,386.3 465.4,386.2 466.3,386.2 467.1,386.1 468,386.0" fill="none" stroke="#ff0000" stroke-width="2.0" stroke-linejoin="round" />
<circle cx="329.3" cy="446.3" r="2.1" fill="#fff" stroke="#0000ff" stroke-width="0.8"/>
<circle cx="352.6" cy="394.6" r="2.1" fill="#fff" stroke="#0000ff" stroke-width="0.8"/>
<circle cx="329.3" cy="484" r="2.1" fill="#fff" stroke="#ff0000" stroke-width="0.8"/>
<circle cx="352.5" cy="452.6" r="2.1" fill="#fff" stroke="#ff0000" stroke-width="0.8"/>
<circle cx="391.2" cy="386.3" r="2.1" fill="#fff" stroke="#ff0000" stroke-width="0.8"/>
<circle cx="329.4" cy="392.2" r="2.1" fill="#0000ff" stroke="#0000ff" stroke-width="0.8"/>
<circle cx="352.6" cy="386.7" r="2.1" fill="#0000ff" stroke="#0000ff" stroke-width="0.8"/>
<circle cx="468" cy="386.3" r="2.1" fill="#0000ff" stroke="#0000ff" stroke-width="0.8"/>
<circle cx="329.4" cy="421.4" r="2.1" fill="#ff0000" stroke="#ff0000" stroke-width="0.8"/>
<circle cx="352.6" cy="401.8" r="2.1" fill="#ff0000" stroke="#ff0000" stroke-width="0.8"/>
<circle cx="391.3" cy="391.9" r="2.1" fill="#ff0000" stroke="#ff0000" stroke-width="0.8"/>
<circle cx="468" cy="386.3" r="2.1" fill="#ff0000" stroke="#ff0000" stroke-width="0.8"/>
<rect x="313.9" y="377.3" width="170.1" height="137.2" fill="none" stroke="#000" stroke-width="1.1"/>
<line x1="313.9" y1="514.33" x2="311.3" y2="514.33" stroke="#000" stroke-width="1.1"/>
<text x="309.9" y="517.83" font-size="9.8" text-anchor="end" font-weight="bold" >0.3</text>
<line x1="313.9" y1="496.14" x2="311.3" y2="496.14" stroke="#000" stroke-width="1.1"/>
<text x="309.9" y="499.64" font-size="9.8" text-anchor="end" font-weight="bold" >0.4</text>
<line x1="313.9" y1="477.95" x2="311.3" y2="477.95" stroke="#000" stroke-width="1.1"/>
<text x="309.9" y="481.45" font-size="9.8" text-anchor="end" font-weight="bold" >0.5</text>
<line x1="313.9" y1="459.76" x2="311.3" y2="459.76" stroke="#000" stroke-width="1.1"/>
<text x="309.9" y="463.26" font-size="9.8" text-anchor="end" font-weight="bold" >0.6</text>
<line x1="313.9" y1="441.57" x2="311.3" y2="441.57" stroke="#000" stroke-width="1.1"/>
<text x="309.9" y="445.07" font-size="9.8" text-anchor="end" font-weight="bold" >0.7</text>
<line x1="313.9" y1="423.38" x2="311.3" y2="423.38" stroke="#000" stroke-width="1.1"/>
<text x="309.9" y="426.88" font-size="9.8" text-anchor="end" font-weight="bold" >0.8</text>
<line x1="313.9" y1="405.19" x2="311.3" y2="405.19" stroke="#000" stroke-width="1.1"/>
<text x="309.9" y="408.69" font-size="9.8" text-anchor="end" font-weight="bold" >0.9</text>
<line x1="313.9" y1="387" x2="311.3" y2="387" stroke="#000" stroke-width="1.1"/>
<text x="309.9" y="390.5" font-size="9.8" text-anchor="end" font-weight="bold" >1.0</text>
<line x1="313.9" y1="505.24" x2="312.4" y2="505.24" stroke="#000" stroke-width="1.1"/>
<line x1="313.9" y1="487.05" x2="312.4" y2="487.05" stroke="#000" stroke-width="1.1"/>
<line x1="313.9" y1="468.86" x2="312.4" y2="468.86" stroke="#000" stroke-width="1.1"/>
<line x1="313.9" y1="450.67" x2="312.4" y2="450.67" stroke="#000" stroke-width="1.1"/>
<line x1="313.9" y1="432.48" x2="312.4" y2="432.48" stroke="#000" stroke-width="1.1"/>
<line x1="313.9" y1="414.29" x2="312.4" y2="414.29" stroke="#000" stroke-width="1.1"/>
<line x1="313.9" y1="396.1" x2="312.4" y2="396.1" stroke="#000" stroke-width="1.1"/>
<line x1="313.9" y1="514.5" x2="313.9" y2="517.1" stroke="#000" stroke-width="1.1"/>
<text x="313.9" y="527" font-size="9.8" text-anchor="middle" font-weight="bold" >0</text>
<line x1="352.52" y1="514.5" x2="352.52" y2="517.1" stroke="#000" stroke-width="1.1"/>
<text x="352.52" y="527" font-size="9.8" text-anchor="middle" font-weight="bold" >500</text>
<line x1="391.15" y1="514.5" x2="391.15" y2="517.1" stroke="#000" stroke-width="1.1"/>
<text x="391.15" y="527" font-size="9.8" text-anchor="middle" font-weight="bold" >1000</text>
<line x1="429.77" y1="514.5" x2="429.77" y2="517.1" stroke="#000" stroke-width="1.1"/>
<text x="429.77" y="527" font-size="9.8" text-anchor="middle" font-weight="bold" >1500</text>
<line x1="468.4" y1="514.5" x2="468.4" y2="517.1" stroke="#000" stroke-width="1.1"/>
<text x="468.4" y="527" font-size="9.8" text-anchor="middle" font-weight="bold" >2000</text>
<line x1="333.21" y1="514.5" x2="333.21" y2="516" stroke="#000" stroke-width="1.1"/>
<line x1="371.84" y1="514.5" x2="371.84" y2="516" stroke="#000" stroke-width="1.1"/>
<line x1="410.46" y1="514.5" x2="410.46" y2="516" stroke="#000" stroke-width="1.1"/>
<line x1="449.09" y1="514.5" x2="449.09" y2="516" stroke="#000" stroke-width="1.1"/>
<text x="398.95" y="544.5" font-size="11.5" text-anchor="middle" font-weight="bold" >Light Intensity (lux)</text>
<text transform="translate(287.6,440.3) rotate(-90)" font-size="12.2" text-anchor="middle" font-weight="bold">Normalized FF</text>
<text x="397.4" y="450.6" font-size="9.7" text-anchor="start" font-weight="bold" >PBDB-T:IT-M</text>
<line x1="396.6" y1="460.5" x2="400.4" y2="460.5" stroke="#0000ff" stroke-width="1.8"/>
<line x1="406.7" y1="460.5" x2="408.9" y2="460.5" stroke="#0000ff" stroke-width="1.8"/>
<circle cx="404.5" cy="460.5" r="2.0" fill="#fff" stroke="#0000ff" stroke-width="0.8"/>
<text x="414.3" y="462.9" font-size="9.3" text-anchor="start" font-weight="bold" >PEIE</text>
<line x1="396.6" y1="471.9" x2="412.4" y2="471.9" stroke="#0000ff" stroke-width="1.9"/>
<circle cx="404.5" cy="471.9" r="2.2" fill="#0000ff" stroke="#0000ff" stroke-width="0.8"/>
<text x="414.3" y="474.3" font-size="9.3" text-anchor="start" font-weight="bold" >Co-PEIE</text>
<text x="397.4" y="485.4" font-size="9.5" text-anchor="start" font-weight="bold" >PBDB-T-2F:BTP-4F</text>
<line x1="396.6" y1="495.5" x2="400.4" y2="495.5" stroke="#ff0000" stroke-width="1.8"/>
<line x1="406.7" y1="495.5" x2="408.9" y2="495.5" stroke="#ff0000" stroke-width="1.8"/>
<circle cx="404.5" cy="495.5" r="2.0" fill="#fff" stroke="#ff0000" stroke-width="0.8"/>
<text x="414.3" y="497.9" font-size="9.3" text-anchor="start" font-weight="bold" >PEIE</text>
<line x1="396.6" y1="507.1" x2="412.4" y2="507.1" stroke="#ff0000" stroke-width="1.9"/>
<circle cx="404.5" cy="507.1" r="2.2" fill="#ff0000" stroke="#ff0000" stroke-width="0.8"/>
<text x="414.3" y="509.5" font-size="9.3" text-anchor="start" font-weight="bold" >Co-PEIE</text>
</g>
</svg>
</body></html>
